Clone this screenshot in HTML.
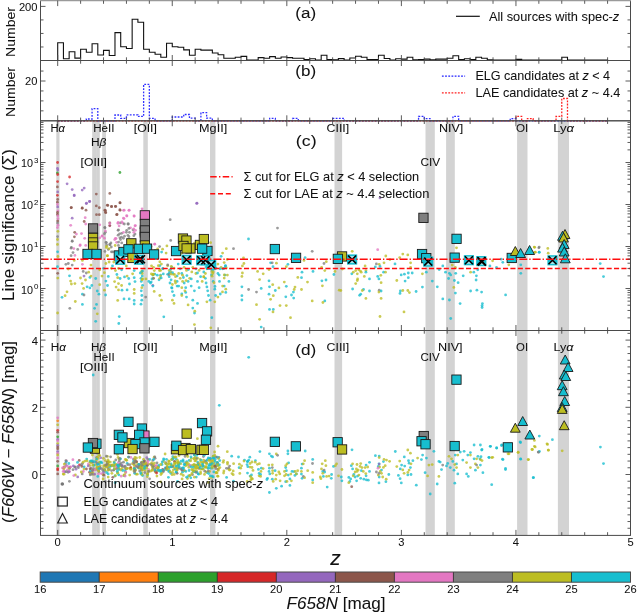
<!DOCTYPE html>
<html><head><meta charset="utf-8"><style>
html,body{margin:0;padding:0;background:#fff;width:637px;height:613px;overflow:hidden}
svg{display:block;filter:blur(0.3px)}
text{font-family:"Liberation Sans",sans-serif}
</style></head><body>
<svg width="637" height="613" viewBox="0 0 637 613">
<rect x="56.3" y="120.8" width="3.20" height="414.60" fill="#c8c8c8" fill-opacity="0.8"/>
<rect x="92.2" y="120.8" width="3.90" height="414.60" fill="#c8c8c8" fill-opacity="0.8"/>
<rect x="96.1" y="120.8" width="3.70" height="414.60" fill="#c8c8c8" fill-opacity="0.8"/>
<rect x="102.2" y="120.8" width="3.80" height="414.60" fill="#c8c8c8" fill-opacity="0.8"/>
<rect x="143.3" y="120.8" width="4.50" height="414.60" fill="#c8c8c8" fill-opacity="0.8"/>
<rect x="210.0" y="120.8" width="5.40" height="414.60" fill="#c8c8c8" fill-opacity="0.8"/>
<rect x="334.5" y="120.8" width="7.60" height="414.60" fill="#c8c8c8" fill-opacity="0.8"/>
<rect x="425.5" y="120.8" width="9.30" height="414.60" fill="#c8c8c8" fill-opacity="0.8"/>
<rect x="446.1" y="120.8" width="8.70" height="414.60" fill="#c8c8c8" fill-opacity="0.8"/>
<rect x="517.1" y="120.8" width="10.40" height="414.60" fill="#c8c8c8" fill-opacity="0.8"/>
<rect x="557.9" y="120.8" width="11.10" height="414.60" fill="#c8c8c8" fill-opacity="0.8"/>
<path d="M57.70,60.5L57.70,42.70L63.43,42.70L63.43,58.70L69.16,58.70L69.16,51.80L74.88,51.80L74.88,58.10L80.61,58.10L80.61,49.30L86.34,49.30L86.34,52.20L92.07,52.20L92.07,43.70L97.80,43.70L97.80,55.00L103.52,55.00L103.52,50.40L109.25,50.40L109.25,55.50L114.98,55.50L114.98,32.60L120.71,32.60L120.71,46.80L126.44,46.80L126.44,48.50L132.16,48.50L132.16,19.20L137.89,19.20L137.89,22.20L143.62,22.20L143.62,49.30L149.35,49.30L149.35,52.30L155.08,52.30L155.08,54.30L160.80,54.30L160.80,57.30L166.53,57.30L166.53,43.30L172.26,43.30L172.26,46.70L177.99,46.70L177.99,47.20L183.72,47.20L183.72,49.90L189.44,49.90L189.44,55.20L195.17,55.20L195.17,49.30L200.90,49.30L200.90,50.10L206.63,50.10L206.63,50.10L212.36,50.10L212.36,53.00L218.08,53.00L218.08,54.70L223.81,54.70L223.81,58.30L229.54,58.30L229.54,58.30L235.27,58.30L235.27,57.30L241.00,57.30L241.00,56.40L246.72,56.40L246.72,60.10L252.45,60.10L252.45,60.10L258.18,60.10L258.18,57.60L263.91,57.60L263.91,58.30L269.64,58.30L269.64,56.60L275.36,56.60L275.36,58.30L281.09,58.30L281.09,57.00L286.82,57.00L286.82,57.60L292.55,57.60L292.55,58.20L298.28,58.20L298.28,58.20L304.00,58.20L304.00,59.50L309.73,59.50L309.73,58.80L315.46,58.80L315.46,60.10L321.19,60.10L321.19,55.30L326.92,55.30L326.92,59.50L332.64,59.50L332.64,59.80L338.37,59.80L338.37,58.60L344.10,58.60L344.10,60.10L349.83,60.10L349.83,58.00L355.56,58.00L355.56,56.30L361.28,56.30L361.28,57.20L367.01,57.20L367.01,59.50L372.74,59.50L372.74,59.50L378.47,59.50L378.47,55.30L384.20,55.30L384.20,58.50L389.92,58.50L389.92,60.10L395.65,60.10L395.65,58.80L401.38,58.80L401.38,59.10L407.11,59.10L407.11,57.20L412.84,57.20L412.84,59.80L418.56,59.80L418.56,59.50L424.29,59.50L424.29,59.10L430.02,59.10L430.02,59.80L435.75,59.80L435.75,59.10L441.48,59.10L441.48,59.10L447.20,59.10L447.20,58.20L452.93,58.20L452.93,55.70L458.66,55.70L458.66,59.50L464.39,59.50L464.39,58.80L470.12,58.80L470.12,59.50L475.84,59.50L475.84,57.30L481.57,57.30L481.57,58.20L487.30,58.20L487.30,59.70L493.03,59.70L493.03,60.10L498.76,60.10L498.76,60.10L504.48,60.10L504.48,60.10L510.21,60.10L510.21,60.10L515.94,60.10L515.94,59.40L521.67,59.40L521.67,60.00L527.40,60.00L527.40,60.00L533.12,60.00L533.12,60.00L538.85,60.00L538.85,60.00L544.58,60.00L544.58,60.00L550.31,60.00L550.31,60.00L556.04,60.00L556.04,60.00L561.76,60.00L561.76,57.20L567.49,57.20L567.49,60.00L573.22,60.00L573.22,60.00L578.95,60.00L578.95,60.00L584.68,60.00L584.68,60.00L590.40,60.00L590.40,60.00L596.13,60.00L596.13,60.00L601.86,60.00L601.86,60.00L607.59,60.00L607.59,60.5" fill="none" stroke="#111" stroke-width="1.1"/>
<path d="M57.70,120.8L57.70,120.80L63.43,120.80L63.43,120.80L69.16,120.80L69.16,120.80L74.88,120.80L74.88,120.80L80.61,120.80L80.61,120.80L86.34,120.80L86.34,119.00L92.07,119.00L92.07,108.70L97.80,108.70L97.80,120.80L103.52,120.80L103.52,120.80L109.25,120.80L109.25,120.80L114.98,120.80L114.98,115.00L120.71,115.00L120.71,118.30L126.44,118.30L126.44,114.90L132.16,114.90L132.16,114.90L137.89,114.90L137.89,116.40L143.62,116.40L143.62,84.40L149.35,84.40L149.35,118.30L155.08,118.30L155.08,120.80L160.80,120.80L160.80,120.80L166.53,120.80L166.53,120.80L172.26,120.80L172.26,117.00L177.99,117.00L177.99,117.00L183.72,117.00L183.72,114.50L189.44,114.50L189.44,118.20L195.17,118.20L195.17,120.80L200.90,120.80L200.90,112.60L206.63,112.60L206.63,118.20L212.36,118.20L212.36,120.80L218.08,120.80L218.08,120.80L223.81,120.80L223.81,120.80L229.54,120.80L229.54,120.80L235.27,120.80L235.27,120.80L241.00,120.80L241.00,120.80L246.72,120.80L246.72,120.80L252.45,120.80L252.45,120.80L258.18,120.80L258.18,120.80L263.91,120.80L263.91,120.80L269.64,120.80L269.64,118.40L275.36,118.40L275.36,120.80L281.09,120.80L281.09,120.80L286.82,120.80L286.82,120.80L292.55,120.80L292.55,118.40L298.28,118.40L298.28,120.80L304.00,120.80L304.00,120.80L309.73,120.80L309.73,120.80L315.46,120.80L315.46,120.80L321.19,120.80L321.19,120.80L326.92,120.80L326.92,120.80L332.64,120.80L332.64,118.40L338.37,118.40L338.37,118.40L344.10,118.40L344.10,120.80L349.83,120.80L349.83,120.80L355.56,120.80L355.56,120.80L361.28,120.80L361.28,120.80L367.01,120.80L367.01,120.80L372.74,120.80L372.74,120.80L378.47,120.80L378.47,120.80L384.20,120.80L384.20,120.80L389.92,120.80L389.92,120.80L395.65,120.80L395.65,120.80L401.38,120.80L401.38,120.80L407.11,120.80L407.11,120.80L412.84,120.80L412.84,120.80L418.56,120.80L418.56,116.30L424.29,116.30L424.29,118.60L430.02,118.60L430.02,120.80L435.75,120.80L435.75,120.80L441.48,120.80L441.48,120.80L447.20,120.80L447.20,120.80L452.93,120.80L452.93,116.30L458.66,116.30L458.66,120.80L464.39,120.80L464.39,120.80L470.12,120.80L470.12,120.80L475.84,120.80L475.84,120.80L481.57,120.80L481.57,120.80L487.30,120.80L487.30,120.80L493.03,120.80L493.03,120.80L498.76,120.80L498.76,120.80L504.48,120.80L504.48,120.80L510.21,120.80L510.21,118.60L515.94,118.60L515.94,120.80L521.67,120.80L521.67,120.80L527.40,120.80L527.40,120.80L533.12,120.80L533.12,120.80L538.85,120.80L538.85,120.80L544.58,120.80L544.58,120.80L550.31,120.80L550.31,120.80L556.04,120.80L556.04,120.80L561.76,120.80L561.76,120.80L567.49,120.80L567.49,120.80L573.22,120.80L573.22,120.80L578.95,120.80L578.95,120.80L584.68,120.80L584.68,120.80L590.40,120.80L590.40,120.80L596.13,120.80L596.13,120.80L601.86,120.80L601.86,120.80L607.59,120.80L607.59,120.8" fill="none" stroke="#3030ff" stroke-width="1.3" stroke-dasharray="1.8 1.4"/>
<path d="M57.70,120.8L57.70,120.80L63.43,120.80L63.43,120.80L69.16,120.80L69.16,120.80L74.88,120.80L74.88,120.80L80.61,120.80L80.61,120.80L86.34,120.80L86.34,120.80L92.07,120.80L92.07,120.80L97.80,120.80L97.80,120.80L103.52,120.80L103.52,120.80L109.25,120.80L109.25,120.80L114.98,120.80L114.98,120.80L120.71,120.80L120.71,120.80L126.44,120.80L126.44,120.80L132.16,120.80L132.16,120.80L137.89,120.80L137.89,120.80L143.62,120.80L143.62,120.80L149.35,120.80L149.35,120.80L155.08,120.80L155.08,120.80L160.80,120.80L160.80,120.80L166.53,120.80L166.53,120.80L172.26,120.80L172.26,120.80L177.99,120.80L177.99,120.80L183.72,120.80L183.72,120.80L189.44,120.80L189.44,120.80L195.17,120.80L195.17,120.80L200.90,120.80L200.90,120.80L206.63,120.80L206.63,120.80L212.36,120.80L212.36,120.80L218.08,120.80L218.08,120.80L223.81,120.80L223.81,120.80L229.54,120.80L229.54,120.80L235.27,120.80L235.27,120.80L241.00,120.80L241.00,120.80L246.72,120.80L246.72,120.80L252.45,120.80L252.45,120.80L258.18,120.80L258.18,120.80L263.91,120.80L263.91,120.80L269.64,120.80L269.64,120.80L275.36,120.80L275.36,120.80L281.09,120.80L281.09,120.80L286.82,120.80L286.82,120.80L292.55,120.80L292.55,120.80L298.28,120.80L298.28,120.80L304.00,120.80L304.00,120.80L309.73,120.80L309.73,120.80L315.46,120.80L315.46,120.80L321.19,120.80L321.19,120.80L326.92,120.80L326.92,120.80L332.64,120.80L332.64,120.80L338.37,120.80L338.37,120.80L344.10,120.80L344.10,120.80L349.83,120.80L349.83,120.80L355.56,120.80L355.56,120.80L361.28,120.80L361.28,120.80L367.01,120.80L367.01,120.80L372.74,120.80L372.74,120.80L378.47,120.80L378.47,120.80L384.20,120.80L384.20,120.80L389.92,120.80L389.92,120.80L395.65,120.80L395.65,120.80L401.38,120.80L401.38,120.80L407.11,120.80L407.11,120.80L412.84,120.80L412.84,120.80L418.56,120.80L418.56,120.80L424.29,120.80L424.29,120.80L430.02,120.80L430.02,120.80L435.75,120.80L435.75,120.80L441.48,120.80L441.48,120.80L447.20,120.80L447.20,120.80L452.93,120.80L452.93,120.80L458.66,120.80L458.66,120.80L464.39,120.80L464.39,120.80L470.12,120.80L470.12,120.80L475.84,120.80L475.84,120.80L481.57,120.80L481.57,120.80L487.30,120.80L487.30,120.80L493.03,120.80L493.03,120.80L498.76,120.80L498.76,120.80L504.48,120.80L504.48,120.80L510.21,120.80L510.21,120.80L515.94,120.80L515.94,116.40L521.67,116.40L521.67,120.80L527.40,120.80L527.40,118.60L533.12,118.60L533.12,120.80L538.85,120.80L538.85,120.80L544.58,120.80L544.58,120.80L550.31,120.80L550.31,120.80L556.04,120.80L556.04,116.40L561.76,116.40L561.76,98.50L567.49,98.50L567.49,120.80L573.22,120.80L573.22,120.80L578.95,120.80L578.95,120.80L584.68,120.80L584.68,120.80L590.40,120.80L590.40,120.80L596.13,120.80L596.13,120.80L601.86,120.80L601.86,120.80L607.59,120.80L607.59,120.8" fill="none" stroke="#ff2020" stroke-width="1.3" stroke-dasharray="1.8 1.4"/>
<clipPath id="cc"><rect x="40.5" y="120.8" width="590" height="209.7"/></clipPath>
<clipPath id="cd"><rect x="40.5" y="330.5" width="590" height="204.9"/></clipPath>
<g>
<circle cx="69.6" cy="177.0" r="1.4" fill="#d62728" fill-opacity="0.78"/>
<circle cx="119.9" cy="172.5" r="1.4" fill="#2ca02c" fill-opacity="0.78"/>
<circle cx="67.1" cy="183.8" r="1.4" fill="#9467bd" fill-opacity="0.78"/>
<circle cx="72.2" cy="189.6" r="1.4" fill="#9467bd" fill-opacity="0.78"/>
<circle cx="74.2" cy="195.1" r="1.4" fill="#9467bd" fill-opacity="0.78"/>
<circle cx="82.2" cy="190.1" r="1.4" fill="#9467bd" fill-opacity="0.78"/>
<circle cx="84.2" cy="188.1" r="1.4" fill="#9467bd" fill-opacity="0.78"/>
<circle cx="86.5" cy="203.2" r="1.4" fill="#9467bd" fill-opacity="0.78"/>
<circle cx="89.7" cy="201.4" r="1.4" fill="#9467bd" fill-opacity="0.78"/>
<circle cx="71.2" cy="207.7" r="1.4" fill="#8c564b" fill-opacity="0.78"/>
<circle cx="82.2" cy="208.2" r="1.4" fill="#8c564b" fill-opacity="0.78"/>
<circle cx="86.0" cy="210.2" r="1.4" fill="#8c564b" fill-opacity="0.78"/>
<circle cx="96.3" cy="194.1" r="1.4" fill="#8c564b" fill-opacity="0.78"/>
<circle cx="109.8" cy="193.4" r="1.4" fill="#8c564b" fill-opacity="0.78"/>
<circle cx="96.3" cy="205.9" r="1.4" fill="#8c564b" fill-opacity="0.78"/>
<circle cx="99.3" cy="207.7" r="1.4" fill="#8c564b" fill-opacity="0.78"/>
<circle cx="96.5" cy="214.7" r="1.4" fill="#8c564b" fill-opacity="0.78"/>
<circle cx="99.3" cy="214.7" r="1.4" fill="#8c564b" fill-opacity="0.78"/>
<circle cx="104.8" cy="210.2" r="1.4" fill="#8c564b" fill-opacity="0.78"/>
<circle cx="105.8" cy="212.7" r="1.4" fill="#8c564b" fill-opacity="0.78"/>
<circle cx="107.3" cy="205.2" r="1.4" fill="#8c564b" fill-opacity="0.78"/>
<circle cx="111.6" cy="206.4" r="1.4" fill="#8c564b" fill-opacity="0.78"/>
<circle cx="115.4" cy="206.4" r="1.4" fill="#8c564b" fill-opacity="0.78"/>
<circle cx="119.9" cy="202.7" r="1.4" fill="#8c564b" fill-opacity="0.78"/>
<circle cx="119.9" cy="209.7" r="1.4" fill="#8c564b" fill-opacity="0.78"/>
<circle cx="116.6" cy="214.7" r="1.4" fill="#8c564b" fill-opacity="0.78"/>
<circle cx="72.2" cy="218.2" r="1.4" fill="#9467bd" fill-opacity="0.78"/>
<circle cx="70.7" cy="225.3" r="1.4" fill="#e377c2" fill-opacity="0.78"/>
<circle cx="85.2" cy="217.7" r="1.4" fill="#e377c2" fill-opacity="0.78"/>
<circle cx="84.2" cy="221.5" r="1.4" fill="#8c564b" fill-opacity="0.78"/>
<circle cx="85.7" cy="224.0" r="1.4" fill="#e377c2" fill-opacity="0.78"/>
<circle cx="74.7" cy="232.3" r="1.4" fill="#8c564b" fill-opacity="0.78"/>
<circle cx="76.4" cy="234.1" r="1.4" fill="#e377c2" fill-opacity="0.78"/>
<circle cx="81.5" cy="233.6" r="1.4" fill="#e377c2" fill-opacity="0.78"/>
<circle cx="74.4" cy="236.8" r="1.4" fill="#8c564b" fill-opacity="0.78"/>
<circle cx="72.2" cy="240.9" r="1.4" fill="#7f7f7f" fill-opacity="0.78"/>
<circle cx="84.7" cy="238.3" r="1.4" fill="#e377c2" fill-opacity="0.78"/>
<circle cx="80.2" cy="244.9" r="1.4" fill="#e377c2" fill-opacity="0.78"/>
<circle cx="85.7" cy="245.4" r="1.4" fill="#e377c2" fill-opacity="0.78"/>
<circle cx="71.4" cy="247.4" r="1.4" fill="#7f7f7f" fill-opacity="0.78"/>
<circle cx="99.8" cy="224.8" r="1.4" fill="#e377c2" fill-opacity="0.78"/>
<circle cx="99.8" cy="237.8" r="1.4" fill="#e377c2" fill-opacity="0.78"/>
<circle cx="104.8" cy="227.3" r="1.4" fill="#7f7f7f" fill-opacity="0.78"/>
<circle cx="105.3" cy="232.3" r="1.4" fill="#7f7f7f" fill-opacity="0.78"/>
<circle cx="109.8" cy="222.8" r="1.4" fill="#8c564b" fill-opacity="0.78"/>
<circle cx="109.8" cy="225.8" r="1.4" fill="#e377c2" fill-opacity="0.78"/>
<circle cx="110.9" cy="242.9" r="1.4" fill="#7f7f7f" fill-opacity="0.78"/>
<circle cx="106.6" cy="244.9" r="1.4" fill="#7f7f7f" fill-opacity="0.78"/>
<circle cx="102.3" cy="235.8" r="1.4" fill="#e377c2" fill-opacity="0.78"/>
<circle cx="117.9" cy="223.3" r="1.4" fill="#e377c2" fill-opacity="0.78"/>
<circle cx="122.9" cy="223.3" r="1.4" fill="#e377c2" fill-opacity="0.78"/>
<circle cx="129.2" cy="210.2" r="1.4" fill="#e377c2" fill-opacity="0.78"/>
<circle cx="124.2" cy="210.2" r="1.4" fill="#e377c2" fill-opacity="0.78"/>
<circle cx="123.4" cy="218.2" r="1.4" fill="#e377c2" fill-opacity="0.78"/>
<circle cx="126.7" cy="215.7" r="1.4" fill="#e377c2" fill-opacity="0.78"/>
<circle cx="134.0" cy="216.0" r="1.4" fill="#e377c2" fill-opacity="0.78"/>
<circle cx="135.0" cy="225.8" r="1.4" fill="#e377c2" fill-opacity="0.78"/>
<circle cx="115.4" cy="238.3" r="1.4" fill="#e377c2" fill-opacity="0.78"/>
<circle cx="116.6" cy="242.4" r="1.4" fill="#e377c2" fill-opacity="0.78"/>
<circle cx="120.4" cy="222.8" r="1.4" fill="#7f7f7f" fill-opacity="0.78"/>
<circle cx="127.9" cy="224.0" r="1.4" fill="#7f7f7f" fill-opacity="0.78"/>
<circle cx="118.4" cy="229.8" r="1.4" fill="#7f7f7f" fill-opacity="0.78"/>
<circle cx="121.7" cy="233.3" r="1.4" fill="#7f7f7f" fill-opacity="0.78"/>
<circle cx="119.9" cy="237.8" r="1.4" fill="#7f7f7f" fill-opacity="0.78"/>
<circle cx="123.4" cy="238.3" r="1.4" fill="#7f7f7f" fill-opacity="0.78"/>
<circle cx="126.7" cy="230.3" r="1.4" fill="#7f7f7f" fill-opacity="0.78"/>
<circle cx="127.9" cy="235.3" r="1.4" fill="#7f7f7f" fill-opacity="0.78"/>
<circle cx="133.0" cy="229.8" r="1.4" fill="#7f7f7f" fill-opacity="0.78"/>
<circle cx="135.0" cy="234.1" r="1.4" fill="#7f7f7f" fill-opacity="0.78"/>
<circle cx="121.7" cy="242.9" r="1.4" fill="#7f7f7f" fill-opacity="0.78"/>
<circle cx="118.4" cy="245.4" r="1.4" fill="#7f7f7f" fill-opacity="0.78"/>
<circle cx="130.5" cy="227.8" r="1.4" fill="#e377c2" fill-opacity="0.78"/>
<circle cx="135.5" cy="230.3" r="1.4" fill="#e377c2" fill-opacity="0.78"/>
<circle cx="134.2" cy="240.4" r="1.4" fill="#e377c2" fill-opacity="0.78"/>
<circle cx="151.0" cy="246.6" r="1.4" fill="#7f7f7f" fill-opacity="0.78"/>
<circle cx="154.6" cy="244.1" r="1.4" fill="#e377c2" fill-opacity="0.78"/>
<circle cx="159.6" cy="246.6" r="1.4" fill="#7f7f7f" fill-opacity="0.78"/>
<circle cx="166.9" cy="245.9" r="1.4" fill="#bcbd22" fill-opacity="0.78"/>
<circle cx="170.2" cy="219.7" r="1.4" fill="#7f7f7f" fill-opacity="0.78"/>
<circle cx="170.7" cy="240.4" r="1.4" fill="#7f7f7f" fill-opacity="0.78"/>
<circle cx="197.0" cy="203.2" r="1.4" fill="#9467bd" fill-opacity="0.78"/>
<circle cx="196.7" cy="203.4" r="1.4" fill="#9467bd" fill-opacity="0.78"/>
<circle cx="277.5" cy="228.1" r="1.4" fill="#7f7f7f" fill-opacity="0.78"/>
<circle cx="380.0" cy="197.9" r="1.4" fill="#9467bd" fill-opacity="0.78"/>
<circle cx="248.5" cy="239.0" r="1.4" fill="#17becf" fill-opacity="0.78"/>
<circle cx="74.2" cy="195.7" r="1.4" fill="#9467bd" fill-opacity="0.78"/>
<circle cx="86.3" cy="203.6" r="1.4" fill="#9467bd" fill-opacity="0.78"/>
<circle cx="89.5" cy="201.5" r="1.4" fill="#9467bd" fill-opacity="0.78"/>
<circle cx="71.3" cy="207.6" r="1.4" fill="#8c564b" fill-opacity="0.78"/>
<circle cx="82.2" cy="208.0" r="1.4" fill="#8c564b" fill-opacity="0.78"/>
<circle cx="120.1" cy="202.9" r="1.4" fill="#8c564b" fill-opacity="0.78"/>
<circle cx="107.8" cy="205.4" r="1.4" fill="#8c564b" fill-opacity="0.78"/>
<circle cx="111.5" cy="206.7" r="1.4" fill="#8c564b" fill-opacity="0.78"/>
<circle cx="115.7" cy="206.4" r="1.4" fill="#8c564b" fill-opacity="0.78"/>
<circle cx="120.1" cy="210.3" r="1.4" fill="#8c564b" fill-opacity="0.78"/>
<circle cx="105.4" cy="210.3" r="1.4" fill="#8c564b" fill-opacity="0.78"/>
<circle cx="105.4" cy="212.2" r="1.4" fill="#8c564b" fill-opacity="0.78"/>
<circle cx="117.1" cy="214.5" r="1.4" fill="#8c564b" fill-opacity="0.78"/>
<circle cx="109.8" cy="225.6" r="1.4" fill="#8c564b" fill-opacity="0.78"/>
<circle cx="123.5" cy="210.3" r="1.4" fill="#e377c2" fill-opacity="0.78"/>
<circle cx="128.9" cy="210.3" r="1.4" fill="#e377c2" fill-opacity="0.78"/>
<circle cx="124.0" cy="218.6" r="1.4" fill="#e377c2" fill-opacity="0.78"/>
<circle cx="126.9" cy="216.1" r="1.4" fill="#e377c2" fill-opacity="0.78"/>
<circle cx="134.2" cy="216.1" r="1.4" fill="#e377c2" fill-opacity="0.78"/>
<circle cx="118.1" cy="222.5" r="1.4" fill="#e377c2" fill-opacity="0.78"/>
<circle cx="122.0" cy="222.0" r="1.4" fill="#e377c2" fill-opacity="0.78"/>
<circle cx="119.1" cy="225.9" r="1.4" fill="#e377c2" fill-opacity="0.78"/>
<circle cx="109.8" cy="223.5" r="1.4" fill="#e377c2" fill-opacity="0.78"/>
<circle cx="135.4" cy="225.6" r="1.4" fill="#e377c2" fill-opacity="0.78"/>
<circle cx="133.8" cy="228.9" r="1.4" fill="#e377c2" fill-opacity="0.78"/>
<circle cx="105.4" cy="231.1" r="1.4" fill="#e377c2" fill-opacity="0.78"/>
<circle cx="102.0" cy="236.2" r="1.4" fill="#e377c2" fill-opacity="0.78"/>
<circle cx="104.4" cy="238.2" r="1.4" fill="#e377c2" fill-opacity="0.78"/>
<circle cx="114.7" cy="239.6" r="1.4" fill="#e377c2" fill-opacity="0.78"/>
<circle cx="116.1" cy="238.6" r="1.4" fill="#e377c2" fill-opacity="0.78"/>
<circle cx="123.5" cy="232.3" r="1.4" fill="#e377c2" fill-opacity="0.78"/>
<circle cx="133.8" cy="232.3" r="1.4" fill="#e377c2" fill-opacity="0.78"/>
<circle cx="154.8" cy="244.2" r="1.4" fill="#e377c2" fill-opacity="0.78"/>
<circle cx="142.1" cy="208.8" r="1.4" fill="#e377c2" fill-opacity="0.78"/>
<circle cx="128.4" cy="224.0" r="1.4" fill="#7f7f7f" fill-opacity="0.78"/>
<circle cx="124.3" cy="224.0" r="1.4" fill="#7f7f7f" fill-opacity="0.78"/>
<circle cx="128.9" cy="228.4" r="1.4" fill="#7f7f7f" fill-opacity="0.78"/>
<circle cx="104.9" cy="227.9" r="1.4" fill="#7f7f7f" fill-opacity="0.78"/>
<circle cx="104.4" cy="233.8" r="1.4" fill="#7f7f7f" fill-opacity="0.78"/>
<circle cx="118.1" cy="230.3" r="1.4" fill="#7f7f7f" fill-opacity="0.78"/>
<circle cx="126.4" cy="232.3" r="1.4" fill="#7f7f7f" fill-opacity="0.78"/>
<circle cx="129.4" cy="232.3" r="1.4" fill="#7f7f7f" fill-opacity="0.78"/>
<circle cx="119.6" cy="233.8" r="1.4" fill="#7f7f7f" fill-opacity="0.78"/>
<circle cx="118.1" cy="235.2" r="1.4" fill="#7f7f7f" fill-opacity="0.78"/>
<circle cx="121.5" cy="237.2" r="1.4" fill="#7f7f7f" fill-opacity="0.78"/>
<circle cx="124.5" cy="236.2" r="1.4" fill="#7f7f7f" fill-opacity="0.78"/>
<circle cx="128.9" cy="236.7" r="1.4" fill="#7f7f7f" fill-opacity="0.78"/>
<circle cx="133.8" cy="235.7" r="1.4" fill="#7f7f7f" fill-opacity="0.78"/>
<circle cx="120.5" cy="239.6" r="1.4" fill="#7f7f7f" fill-opacity="0.78"/>
<circle cx="118.6" cy="242.1" r="1.4" fill="#7f7f7f" fill-opacity="0.78"/>
<circle cx="106.4" cy="242.6" r="1.4" fill="#7f7f7f" fill-opacity="0.78"/>
<circle cx="109.8" cy="244.5" r="1.4" fill="#7f7f7f" fill-opacity="0.78"/>
<circle cx="111.3" cy="247.0" r="1.4" fill="#7f7f7f" fill-opacity="0.78"/>
<circle cx="104.9" cy="251.4" r="1.4" fill="#7f7f7f" fill-opacity="0.78"/>
<circle cx="108.3" cy="249.4" r="1.4" fill="#7f7f7f" fill-opacity="0.78"/>
<circle cx="112.7" cy="251.9" r="1.4" fill="#7f7f7f" fill-opacity="0.78"/>
<circle cx="106.4" cy="247.5" r="1.4" fill="#bcbd22" fill-opacity="0.78"/>
<circle cx="115.2" cy="245.5" r="1.4" fill="#bcbd22" fill-opacity="0.78"/>
<circle cx="107.3" cy="255.8" r="1.4" fill="#bcbd22" fill-opacity="0.78"/>
<circle cx="72.2" cy="241.3" r="1.4" fill="#7f7f7f" fill-opacity="0.78"/>
<circle cx="71.1" cy="248.2" r="1.4" fill="#7f7f7f" fill-opacity="0.78"/>
<circle cx="73.8" cy="248.6" r="1.4" fill="#e377c2" fill-opacity="0.78"/>
<circle cx="80.0" cy="245.5" r="1.4" fill="#e377c2" fill-opacity="0.78"/>
<circle cx="77.7" cy="249.4" r="1.4" fill="#7f7f7f" fill-opacity="0.78"/>
<circle cx="73.0" cy="252.6" r="1.4" fill="#7f7f7f" fill-opacity="0.78"/>
<circle cx="71.1" cy="255.7" r="1.4" fill="#7f7f7f" fill-opacity="0.78"/>
<circle cx="74.9" cy="255.4" r="1.4" fill="#e377c2" fill-opacity="0.78"/>
<circle cx="68.3" cy="263.5" r="1.4" fill="#7f7f7f" fill-opacity="0.78"/>
<circle cx="65.9" cy="264.3" r="1.4" fill="#7f7f7f" fill-opacity="0.78"/>
<circle cx="72.2" cy="265.1" r="1.4" fill="#7f7f7f" fill-opacity="0.78"/>
<circle cx="74.2" cy="260.4" r="1.4" fill="#bcbd22" fill-opacity="0.78"/>
<circle cx="68.3" cy="269.0" r="1.4" fill="#bcbd22" fill-opacity="0.78"/>
<circle cx="82.4" cy="260.4" r="1.4" fill="#bcbd22" fill-opacity="0.78"/>
<circle cx="82.4" cy="264.3" r="1.4" fill="#e377c2" fill-opacity="0.78"/>
<circle cx="83.2" cy="271.4" r="1.4" fill="#7f7f7f" fill-opacity="0.78"/>
<circle cx="86.3" cy="273.0" r="1.4" fill="#7f7f7f" fill-opacity="0.78"/>
<circle cx="88.7" cy="272.2" r="1.4" fill="#bcbd22" fill-opacity="0.78"/>
<circle cx="84.0" cy="276.1" r="1.4" fill="#9467bd" fill-opacity="0.78"/>
<circle cx="69.5" cy="275.8" r="1.4" fill="#17becf" fill-opacity="0.78"/>
<circle cx="89.9" cy="277.4" r="1.4" fill="#17becf" fill-opacity="0.78"/>
<circle cx="80.5" cy="278.0" r="1.4" fill="#bcbd22" fill-opacity="0.78"/>
<circle cx="85.5" cy="280.0" r="1.4" fill="#bcbd22" fill-opacity="0.78"/>
<circle cx="70.6" cy="281.1" r="1.4" fill="#bcbd22" fill-opacity="0.78"/>
<circle cx="71.4" cy="284.0" r="1.4" fill="#bcbd22" fill-opacity="0.78"/>
<circle cx="74.9" cy="283.6" r="1.4" fill="#bcbd22" fill-opacity="0.78"/>
<circle cx="82.1" cy="283.6" r="1.4" fill="#bcbd22" fill-opacity="0.78"/>
<circle cx="87.1" cy="286.8" r="1.4" fill="#17becf" fill-opacity="0.78"/>
<circle cx="89.9" cy="287.9" r="1.4" fill="#17becf" fill-opacity="0.78"/>
<circle cx="91.8" cy="285.5" r="1.4" fill="#17becf" fill-opacity="0.78"/>
<circle cx="83.6" cy="288.4" r="1.4" fill="#bcbd22" fill-opacity="0.78"/>
<circle cx="67.0" cy="291.8" r="1.4" fill="#bcbd22" fill-opacity="0.78"/>
<circle cx="65.1" cy="295.7" r="1.4" fill="#bcbd22" fill-opacity="0.78"/>
<circle cx="62.0" cy="297.3" r="1.4" fill="#17becf" fill-opacity="0.78"/>
<circle cx="82.4" cy="294.2" r="1.4" fill="#17becf" fill-opacity="0.78"/>
<circle cx="84.0" cy="295.0" r="1.4" fill="#7f7f7f" fill-opacity="0.78"/>
<circle cx="75.3" cy="301.5" r="1.4" fill="#bcbd22" fill-opacity="0.78"/>
<circle cx="82.4" cy="304.4" r="1.4" fill="#17becf" fill-opacity="0.78"/>
<circle cx="69.8" cy="308.3" r="1.4" fill="#7f7f7f" fill-opacity="0.78"/>
<circle cx="91.0" cy="276.1" r="1.4" fill="#bcbd22" fill-opacity="0.78"/>
<circle cx="91.0" cy="265.1" r="1.4" fill="#bcbd22" fill-opacity="0.78"/>
<circle cx="95.7" cy="278.5" r="1.4" fill="#17becf" fill-opacity="0.78"/>
<circle cx="99.7" cy="284.7" r="1.4" fill="#bcbd22" fill-opacity="0.78"/>
<circle cx="97.3" cy="291.0" r="1.4" fill="#17becf" fill-opacity="0.78"/>
<circle cx="98.9" cy="294.2" r="1.4" fill="#17becf" fill-opacity="0.78"/>
<circle cx="99.7" cy="269.8" r="1.4" fill="#bcbd22" fill-opacity="0.78"/>
<circle cx="96.5" cy="304.4" r="1.4" fill="#17becf" fill-opacity="0.78"/>
<circle cx="94.6" cy="308.3" r="1.4" fill="#17becf" fill-opacity="0.78"/>
<circle cx="97.3" cy="313.8" r="1.4" fill="#bcbd22" fill-opacity="0.78"/>
<circle cx="95.7" cy="321.3" r="1.4" fill="#17becf" fill-opacity="0.78"/>
<circle cx="102.0" cy="276.1" r="1.4" fill="#bcbd22" fill-opacity="0.78"/>
<circle cx="105.9" cy="281.1" r="1.4" fill="#17becf" fill-opacity="0.78"/>
<circle cx="107.5" cy="285.5" r="1.4" fill="#17becf" fill-opacity="0.78"/>
<circle cx="105.6" cy="295.0" r="1.4" fill="#17becf" fill-opacity="0.78"/>
<circle cx="104.4" cy="290.2" r="1.4" fill="#bcbd22" fill-opacity="0.78"/>
<circle cx="108.3" cy="276.4" r="1.4" fill="#17becf" fill-opacity="0.78"/>
<circle cx="104.4" cy="272.7" r="1.4" fill="#bcbd22" fill-opacity="0.78"/>
<circle cx="105.9" cy="263.5" r="1.4" fill="#bcbd22" fill-opacity="0.78"/>
<circle cx="103.6" cy="268.3" r="1.4" fill="#17becf" fill-opacity="0.78"/>
<circle cx="109.1" cy="262.0" r="1.4" fill="#bcbd22" fill-opacity="0.78"/>
<circle cx="107.5" cy="255.7" r="1.4" fill="#bcbd22" fill-opacity="0.78"/>
<circle cx="106.7" cy="246.3" r="1.4" fill="#bcbd22" fill-opacity="0.78"/>
<circle cx="105.9" cy="242.4" r="1.4" fill="#7f7f7f" fill-opacity="0.78"/>
<circle cx="111.4" cy="251.8" r="1.4" fill="#7f7f7f" fill-opacity="0.78"/>
<circle cx="109.9" cy="244.7" r="1.4" fill="#7f7f7f" fill-opacity="0.78"/>
<circle cx="109.1" cy="248.6" r="1.4" fill="#bcbd22" fill-opacity="0.78"/>
<circle cx="113.8" cy="262.0" r="1.4" fill="#bcbd22" fill-opacity="0.78"/>
<circle cx="112.5" cy="265.9" r="1.4" fill="#17becf" fill-opacity="0.78"/>
<circle cx="115.4" cy="270.6" r="1.4" fill="#bcbd22" fill-opacity="0.78"/>
<circle cx="117.7" cy="277.7" r="1.4" fill="#bcbd22" fill-opacity="0.78"/>
<circle cx="114.6" cy="281.6" r="1.4" fill="#bcbd22" fill-opacity="0.78"/>
<circle cx="116.9" cy="274.5" r="1.4" fill="#17becf" fill-opacity="0.78"/>
<circle cx="120.1" cy="278.5" r="1.4" fill="#17becf" fill-opacity="0.78"/>
<circle cx="118.5" cy="283.6" r="1.4" fill="#bcbd22" fill-opacity="0.78"/>
<circle cx="121.6" cy="285.5" r="1.4" fill="#bcbd22" fill-opacity="0.78"/>
<circle cx="116.1" cy="287.1" r="1.4" fill="#bcbd22" fill-opacity="0.78"/>
<circle cx="118.5" cy="289.9" r="1.4" fill="#bcbd22" fill-opacity="0.78"/>
<circle cx="122.0" cy="290.2" r="1.4" fill="#17becf" fill-opacity="0.78"/>
<circle cx="124.5" cy="276.9" r="1.4" fill="#17becf" fill-opacity="0.78"/>
<circle cx="127.1" cy="276.1" r="1.4" fill="#bcbd22" fill-opacity="0.78"/>
<circle cx="128.7" cy="278.5" r="1.4" fill="#17becf" fill-opacity="0.78"/>
<circle cx="132.6" cy="273.8" r="1.4" fill="#bcbd22" fill-opacity="0.78"/>
<circle cx="134.2" cy="270.6" r="1.4" fill="#17becf" fill-opacity="0.78"/>
<circle cx="134.2" cy="277.7" r="1.4" fill="#17becf" fill-opacity="0.78"/>
<circle cx="135.0" cy="281.6" r="1.4" fill="#17becf" fill-opacity="0.78"/>
<circle cx="129.5" cy="284.0" r="1.4" fill="#17becf" fill-opacity="0.78"/>
<circle cx="127.1" cy="289.9" r="1.4" fill="#17becf" fill-opacity="0.78"/>
<circle cx="134.2" cy="289.5" r="1.4" fill="#bcbd22" fill-opacity="0.78"/>
<circle cx="134.2" cy="293.4" r="1.4" fill="#bcbd22" fill-opacity="0.78"/>
<circle cx="134.2" cy="300.4" r="1.4" fill="#17becf" fill-opacity="0.78"/>
<circle cx="134.2" cy="304.0" r="1.4" fill="#17becf" fill-opacity="0.78"/>
<circle cx="124.0" cy="298.9" r="1.4" fill="#17becf" fill-opacity="0.78"/>
<circle cx="129.2" cy="298.9" r="1.4" fill="#17becf" fill-opacity="0.78"/>
<circle cx="117.7" cy="300.4" r="1.4" fill="#bcbd22" fill-opacity="0.78"/>
<circle cx="119.3" cy="316.6" r="1.4" fill="#17becf" fill-opacity="0.78"/>
<circle cx="118.8" cy="323.5" r="1.4" fill="#17becf" fill-opacity="0.78"/>
<circle cx="118.5" cy="268.3" r="1.4" fill="#bcbd22" fill-opacity="0.78"/>
<circle cx="111.4" cy="268.3" r="1.4" fill="#bcbd22" fill-opacity="0.78"/>
<circle cx="126.3" cy="265.9" r="1.4" fill="#bcbd22" fill-opacity="0.78"/>
<circle cx="121.6" cy="269.8" r="1.4" fill="#17becf" fill-opacity="0.78"/>
<circle cx="312.2" cy="251.3" r="1.4" fill="#7f7f7f" fill-opacity="0.78"/>
<circle cx="243.5" cy="258.0" r="1.4" fill="#bcbd22" fill-opacity="0.78"/>
<circle cx="242.4" cy="265.9" r="1.4" fill="#bcbd22" fill-opacity="0.78"/>
<circle cx="243.9" cy="263.5" r="1.4" fill="#bcbd22" fill-opacity="0.78"/>
<circle cx="270.6" cy="262.8" r="1.4" fill="#17becf" fill-opacity="0.78"/>
<circle cx="272.2" cy="262.8" r="1.4" fill="#7f7f7f" fill-opacity="0.78"/>
<circle cx="276.4" cy="263.2" r="1.4" fill="#bcbd22" fill-opacity="0.78"/>
<circle cx="273.0" cy="266.7" r="1.4" fill="#17becf" fill-opacity="0.78"/>
<circle cx="287.9" cy="264.3" r="1.4" fill="#17becf" fill-opacity="0.78"/>
<circle cx="286.3" cy="266.7" r="1.4" fill="#bcbd22" fill-opacity="0.78"/>
<circle cx="305.1" cy="257.6" r="1.4" fill="#17becf" fill-opacity="0.78"/>
<circle cx="304.0" cy="260.4" r="1.4" fill="#bcbd22" fill-opacity="0.78"/>
<circle cx="324.0" cy="263.5" r="1.4" fill="#7f7f7f" fill-opacity="0.78"/>
<circle cx="326.3" cy="261.7" r="1.4" fill="#bcbd22" fill-opacity="0.78"/>
<circle cx="321.6" cy="267.5" r="1.4" fill="#bcbd22" fill-opacity="0.78"/>
<circle cx="324.8" cy="270.6" r="1.4" fill="#bcbd22" fill-opacity="0.78"/>
<circle cx="313.0" cy="271.4" r="1.4" fill="#17becf" fill-opacity="0.78"/>
<circle cx="302.0" cy="272.2" r="1.4" fill="#17becf" fill-opacity="0.78"/>
<circle cx="257.6" cy="271.4" r="1.4" fill="#bcbd22" fill-opacity="0.78"/>
<circle cx="263.2" cy="273.8" r="1.4" fill="#bcbd22" fill-opacity="0.78"/>
<circle cx="242.4" cy="273.0" r="1.4" fill="#bcbd22" fill-opacity="0.78"/>
<circle cx="241.9" cy="276.4" r="1.4" fill="#bcbd22" fill-opacity="0.78"/>
<circle cx="269.0" cy="269.5" r="1.4" fill="#bcbd22" fill-opacity="0.78"/>
<circle cx="259.6" cy="279.6" r="1.4" fill="#bcbd22" fill-opacity="0.78"/>
<circle cx="269.0" cy="280.8" r="1.4" fill="#17becf" fill-opacity="0.78"/>
<circle cx="269.5" cy="286.8" r="1.4" fill="#17becf" fill-opacity="0.78"/>
<circle cx="272.7" cy="284.7" r="1.4" fill="#bcbd22" fill-opacity="0.78"/>
<circle cx="284.3" cy="282.1" r="1.4" fill="#bcbd22" fill-opacity="0.78"/>
<circle cx="297.8" cy="277.4" r="1.4" fill="#bcbd22" fill-opacity="0.78"/>
<circle cx="301.5" cy="277.7" r="1.4" fill="#17becf" fill-opacity="0.78"/>
<circle cx="307.5" cy="282.1" r="1.4" fill="#bcbd22" fill-opacity="0.78"/>
<circle cx="321.9" cy="280.8" r="1.4" fill="#17becf" fill-opacity="0.78"/>
<circle cx="326.0" cy="280.0" r="1.4" fill="#17becf" fill-opacity="0.78"/>
<circle cx="322.4" cy="285.8" r="1.4" fill="#bcbd22" fill-opacity="0.78"/>
<circle cx="333.9" cy="274.5" r="1.4" fill="#17becf" fill-opacity="0.78"/>
<circle cx="335.0" cy="271.4" r="1.4" fill="#bcbd22" fill-opacity="0.78"/>
<circle cx="241.9" cy="286.8" r="1.4" fill="#17becf" fill-opacity="0.78"/>
<circle cx="248.6" cy="289.5" r="1.4" fill="#7f7f7f" fill-opacity="0.78"/>
<circle cx="256.5" cy="292.1" r="1.4" fill="#7f7f7f" fill-opacity="0.78"/>
<circle cx="261.2" cy="288.4" r="1.4" fill="#17becf" fill-opacity="0.78"/>
<circle cx="278.9" cy="287.9" r="1.4" fill="#bcbd22" fill-opacity="0.78"/>
<circle cx="275.3" cy="290.5" r="1.4" fill="#17becf" fill-opacity="0.78"/>
<circle cx="286.3" cy="286.3" r="1.4" fill="#17becf" fill-opacity="0.78"/>
<circle cx="295.0" cy="287.1" r="1.4" fill="#bcbd22" fill-opacity="0.78"/>
<circle cx="294.2" cy="289.5" r="1.4" fill="#bcbd22" fill-opacity="0.78"/>
<circle cx="293.4" cy="292.1" r="1.4" fill="#17becf" fill-opacity="0.78"/>
<circle cx="301.5" cy="289.5" r="1.4" fill="#bcbd22" fill-opacity="0.78"/>
<circle cx="291.5" cy="295.0" r="1.4" fill="#17becf" fill-opacity="0.78"/>
<circle cx="293.7" cy="298.1" r="1.4" fill="#17becf" fill-opacity="0.78"/>
<circle cx="269.0" cy="294.2" r="1.4" fill="#17becf" fill-opacity="0.78"/>
<circle cx="273.3" cy="295.7" r="1.4" fill="#bcbd22" fill-opacity="0.78"/>
<circle cx="270.6" cy="299.3" r="1.4" fill="#bcbd22" fill-opacity="0.78"/>
<circle cx="285.8" cy="296.8" r="1.4" fill="#17becf" fill-opacity="0.78"/>
<circle cx="241.9" cy="295.7" r="1.4" fill="#17becf" fill-opacity="0.78"/>
<circle cx="241.9" cy="300.0" r="1.4" fill="#17becf" fill-opacity="0.78"/>
<circle cx="256.5" cy="304.7" r="1.4" fill="#bcbd22" fill-opacity="0.78"/>
<circle cx="280.0" cy="305.6" r="1.4" fill="#bcbd22" fill-opacity="0.78"/>
<circle cx="286.3" cy="305.6" r="1.4" fill="#bcbd22" fill-opacity="0.78"/>
<circle cx="269.5" cy="309.4" r="1.4" fill="#17becf" fill-opacity="0.78"/>
<circle cx="273.3" cy="309.4" r="1.4" fill="#17becf" fill-opacity="0.78"/>
<circle cx="273.0" cy="311.9" r="1.4" fill="#bcbd22" fill-opacity="0.78"/>
<circle cx="312.2" cy="300.9" r="1.4" fill="#bcbd22" fill-opacity="0.78"/>
<circle cx="324.8" cy="300.9" r="1.4" fill="#17becf" fill-opacity="0.78"/>
<circle cx="322.9" cy="302.5" r="1.4" fill="#bcbd22" fill-opacity="0.78"/>
<circle cx="290.5" cy="317.7" r="1.4" fill="#bcbd22" fill-opacity="0.78"/>
<circle cx="259.6" cy="319.3" r="1.4" fill="#bcbd22" fill-opacity="0.78"/>
<circle cx="261.2" cy="327.1" r="1.4" fill="#17becf" fill-opacity="0.78"/>
<circle cx="339.2" cy="290.2" r="1.4" fill="#bcbd22" fill-opacity="0.78"/>
<circle cx="377.7" cy="249.7" r="1.4" fill="#e377c2" fill-opacity="0.78"/>
<circle cx="352.2" cy="251.3" r="1.4" fill="#bcbd22" fill-opacity="0.78"/>
<circle cx="385.8" cy="256.0" r="1.4" fill="#bcbd22" fill-opacity="0.78"/>
<circle cx="402.8" cy="254.1" r="1.4" fill="#bcbd22" fill-opacity="0.78"/>
<circle cx="407.8" cy="254.9" r="1.4" fill="#bcbd22" fill-opacity="0.78"/>
<circle cx="399.7" cy="257.6" r="1.4" fill="#bcbd22" fill-opacity="0.78"/>
<circle cx="389.9" cy="259.6" r="1.4" fill="#bcbd22" fill-opacity="0.78"/>
<circle cx="384.0" cy="262.8" r="1.4" fill="#bcbd22" fill-opacity="0.78"/>
<circle cx="376.4" cy="263.9" r="1.4" fill="#7f7f7f" fill-opacity="0.78"/>
<circle cx="379.2" cy="264.3" r="1.4" fill="#bcbd22" fill-opacity="0.78"/>
<circle cx="380.0" cy="266.4" r="1.4" fill="#17becf" fill-opacity="0.78"/>
<circle cx="375.3" cy="267.0" r="1.4" fill="#17becf" fill-opacity="0.78"/>
<circle cx="395.0" cy="263.9" r="1.4" fill="#17becf" fill-opacity="0.78"/>
<circle cx="410.6" cy="262.8" r="1.4" fill="#bcbd22" fill-opacity="0.78"/>
<circle cx="410.6" cy="267.5" r="1.4" fill="#bcbd22" fill-opacity="0.78"/>
<circle cx="365.1" cy="265.9" r="1.4" fill="#bcbd22" fill-opacity="0.78"/>
<circle cx="365.9" cy="270.6" r="1.4" fill="#bcbd22" fill-opacity="0.78"/>
<circle cx="360.4" cy="271.1" r="1.4" fill="#bcbd22" fill-opacity="0.78"/>
<circle cx="358.8" cy="269.8" r="1.4" fill="#bcbd22" fill-opacity="0.78"/>
<circle cx="361.2" cy="272.2" r="1.4" fill="#bcbd22" fill-opacity="0.78"/>
<circle cx="365.9" cy="272.2" r="1.4" fill="#17becf" fill-opacity="0.78"/>
<circle cx="355.7" cy="270.6" r="1.4" fill="#bcbd22" fill-opacity="0.78"/>
<circle cx="342.4" cy="269.0" r="1.4" fill="#bcbd22" fill-opacity="0.78"/>
<circle cx="351.8" cy="273.8" r="1.4" fill="#17becf" fill-opacity="0.78"/>
<circle cx="353.3" cy="272.2" r="1.4" fill="#bcbd22" fill-opacity="0.78"/>
<circle cx="357.3" cy="273.8" r="1.4" fill="#bcbd22" fill-opacity="0.78"/>
<circle cx="364.3" cy="276.4" r="1.4" fill="#bcbd22" fill-opacity="0.78"/>
<circle cx="357.6" cy="278.9" r="1.4" fill="#bcbd22" fill-opacity="0.78"/>
<circle cx="357.3" cy="280.5" r="1.4" fill="#bcbd22" fill-opacity="0.78"/>
<circle cx="355.7" cy="283.6" r="1.4" fill="#bcbd22" fill-opacity="0.78"/>
<circle cx="369.5" cy="278.9" r="1.4" fill="#17becf" fill-opacity="0.78"/>
<circle cx="377.7" cy="276.4" r="1.4" fill="#17becf" fill-opacity="0.78"/>
<circle cx="378.9" cy="278.9" r="1.4" fill="#17becf" fill-opacity="0.78"/>
<circle cx="380.8" cy="275.3" r="1.4" fill="#bcbd22" fill-opacity="0.78"/>
<circle cx="383.6" cy="272.2" r="1.4" fill="#17becf" fill-opacity="0.78"/>
<circle cx="385.5" cy="272.2" r="1.4" fill="#bcbd22" fill-opacity="0.78"/>
<circle cx="381.1" cy="282.7" r="1.4" fill="#bcbd22" fill-opacity="0.78"/>
<circle cx="401.2" cy="274.9" r="1.4" fill="#17becf" fill-opacity="0.78"/>
<circle cx="404.4" cy="274.2" r="1.4" fill="#17becf" fill-opacity="0.78"/>
<circle cx="408.3" cy="273.0" r="1.4" fill="#17becf" fill-opacity="0.78"/>
<circle cx="412.2" cy="273.0" r="1.4" fill="#17becf" fill-opacity="0.78"/>
<circle cx="408.3" cy="277.7" r="1.4" fill="#17becf" fill-opacity="0.78"/>
<circle cx="396.8" cy="280.5" r="1.4" fill="#bcbd22" fill-opacity="0.78"/>
<circle cx="405.1" cy="281.1" r="1.4" fill="#17becf" fill-opacity="0.78"/>
<circle cx="422.4" cy="273.8" r="1.4" fill="#bcbd22" fill-opacity="0.78"/>
<circle cx="426.3" cy="272.2" r="1.4" fill="#17becf" fill-opacity="0.78"/>
<circle cx="432.3" cy="281.1" r="1.4" fill="#17becf" fill-opacity="0.78"/>
<circle cx="439.2" cy="269.5" r="1.4" fill="#17becf" fill-opacity="0.78"/>
<circle cx="437.3" cy="286.8" r="1.4" fill="#17becf" fill-opacity="0.78"/>
<circle cx="422.4" cy="287.1" r="1.4" fill="#17becf" fill-opacity="0.78"/>
<circle cx="340.8" cy="290.5" r="1.4" fill="#bcbd22" fill-opacity="0.78"/>
<circle cx="352.6" cy="289.0" r="1.4" fill="#17becf" fill-opacity="0.78"/>
<circle cx="363.5" cy="289.5" r="1.4" fill="#17becf" fill-opacity="0.78"/>
<circle cx="362.3" cy="290.5" r="1.4" fill="#bcbd22" fill-opacity="0.78"/>
<circle cx="360.7" cy="294.2" r="1.4" fill="#17becf" fill-opacity="0.78"/>
<circle cx="359.6" cy="295.3" r="1.4" fill="#17becf" fill-opacity="0.78"/>
<circle cx="365.9" cy="298.4" r="1.4" fill="#bcbd22" fill-opacity="0.78"/>
<circle cx="369.5" cy="291.0" r="1.4" fill="#17becf" fill-opacity="0.78"/>
<circle cx="379.2" cy="290.2" r="1.4" fill="#7f7f7f" fill-opacity="0.78"/>
<circle cx="381.1" cy="291.0" r="1.4" fill="#17becf" fill-opacity="0.78"/>
<circle cx="378.9" cy="292.1" r="1.4" fill="#bcbd22" fill-opacity="0.78"/>
<circle cx="381.1" cy="298.4" r="1.4" fill="#bcbd22" fill-opacity="0.78"/>
<circle cx="400.4" cy="291.0" r="1.4" fill="#17becf" fill-opacity="0.78"/>
<circle cx="400.0" cy="293.4" r="1.4" fill="#17becf" fill-opacity="0.78"/>
<circle cx="402.8" cy="290.5" r="1.4" fill="#bcbd22" fill-opacity="0.78"/>
<circle cx="407.8" cy="290.5" r="1.4" fill="#bcbd22" fill-opacity="0.78"/>
<circle cx="409.4" cy="292.6" r="1.4" fill="#bcbd22" fill-opacity="0.78"/>
<circle cx="416.1" cy="291.5" r="1.4" fill="#17becf" fill-opacity="0.78"/>
<circle cx="404.0" cy="311.9" r="1.4" fill="#bcbd22" fill-opacity="0.78"/>
<circle cx="380.0" cy="316.5" r="1.4" fill="#bcbd22" fill-opacity="0.78"/>
<circle cx="456.5" cy="247.8" r="1.4" fill="#bcbd22" fill-opacity="0.78"/>
<circle cx="442.8" cy="265.9" r="1.4" fill="#17becf" fill-opacity="0.78"/>
<circle cx="452.2" cy="265.1" r="1.4" fill="#bcbd22" fill-opacity="0.78"/>
<circle cx="455.4" cy="267.5" r="1.4" fill="#bcbd22" fill-opacity="0.78"/>
<circle cx="445.5" cy="272.2" r="1.4" fill="#17becf" fill-opacity="0.78"/>
<circle cx="449.4" cy="273.3" r="1.4" fill="#17becf" fill-opacity="0.78"/>
<circle cx="450.7" cy="274.9" r="1.4" fill="#17becf" fill-opacity="0.78"/>
<circle cx="455.7" cy="273.3" r="1.4" fill="#17becf" fill-opacity="0.78"/>
<circle cx="448.6" cy="278.5" r="1.4" fill="#17becf" fill-opacity="0.78"/>
<circle cx="454.4" cy="280.5" r="1.4" fill="#17becf" fill-opacity="0.78"/>
<circle cx="458.1" cy="282.7" r="1.4" fill="#17becf" fill-opacity="0.78"/>
<circle cx="453.8" cy="287.4" r="1.4" fill="#bcbd22" fill-opacity="0.78"/>
<circle cx="455.4" cy="293.1" r="1.4" fill="#17becf" fill-opacity="0.78"/>
<circle cx="442.8" cy="298.9" r="1.4" fill="#17becf" fill-opacity="0.78"/>
<circle cx="449.4" cy="300.0" r="1.4" fill="#17becf" fill-opacity="0.78"/>
<circle cx="460.1" cy="303.6" r="1.4" fill="#17becf" fill-opacity="0.78"/>
<circle cx="450.7" cy="318.5" r="1.4" fill="#17becf" fill-opacity="0.78"/>
<circle cx="463.2" cy="275.8" r="1.4" fill="#17becf" fill-opacity="0.78"/>
<circle cx="470.6" cy="272.2" r="1.4" fill="#bcbd22" fill-opacity="0.78"/>
<circle cx="473.8" cy="272.2" r="1.4" fill="#17becf" fill-opacity="0.78"/>
<circle cx="476.4" cy="275.8" r="1.4" fill="#17becf" fill-opacity="0.78"/>
<circle cx="476.1" cy="280.0" r="1.4" fill="#17becf" fill-opacity="0.78"/>
<circle cx="477.7" cy="269.8" r="1.4" fill="#17becf" fill-opacity="0.78"/>
<circle cx="489.9" cy="265.9" r="1.4" fill="#17becf" fill-opacity="0.78"/>
<circle cx="496.5" cy="267.5" r="1.4" fill="#17becf" fill-opacity="0.78"/>
<circle cx="492.6" cy="260.8" r="1.4" fill="#bcbd22" fill-opacity="0.78"/>
<circle cx="501.2" cy="259.2" r="1.4" fill="#17becf" fill-opacity="0.78"/>
<circle cx="502.8" cy="262.3" r="1.4" fill="#17becf" fill-opacity="0.78"/>
<circle cx="508.8" cy="264.8" r="1.4" fill="#bcbd22" fill-opacity="0.78"/>
<circle cx="520.8" cy="264.8" r="1.4" fill="#17becf" fill-opacity="0.78"/>
<circle cx="520.8" cy="273.3" r="1.4" fill="#17becf" fill-opacity="0.78"/>
<circle cx="470.6" cy="291.0" r="1.4" fill="#17becf" fill-opacity="0.78"/>
<circle cx="476.9" cy="290.2" r="1.4" fill="#17becf" fill-opacity="0.78"/>
<circle cx="481.6" cy="292.1" r="1.4" fill="#17becf" fill-opacity="0.78"/>
<circle cx="482.4" cy="303.6" r="1.4" fill="#17becf" fill-opacity="0.78"/>
<circle cx="482.1" cy="305.6" r="1.4" fill="#17becf" fill-opacity="0.78"/>
<circle cx="482.1" cy="307.5" r="1.4" fill="#17becf" fill-opacity="0.78"/>
<circle cx="505.6" cy="294.9" r="1.4" fill="#17becf" fill-opacity="0.78"/>
<circle cx="534.2" cy="247.1" r="1.4" fill="#bcbd22" fill-opacity="0.78"/>
<circle cx="535.4" cy="252.2" r="1.4" fill="#bcbd22" fill-opacity="0.78"/>
<circle cx="539.2" cy="247.1" r="1.4" fill="#7f7f7f" fill-opacity="0.78"/>
<circle cx="539.2" cy="252.2" r="1.4" fill="#17becf" fill-opacity="0.78"/>
<circle cx="600.2" cy="263.6" r="1.4" fill="#17becf" fill-opacity="0.78"/>
<circle cx="603.5" cy="276.6" r="1.4" fill="#17becf" fill-opacity="0.78"/>
<circle cx="547.8" cy="248.4" r="1.4" fill="#bcbd22" fill-opacity="0.78"/>
<circle cx="548.2" cy="253.2" r="1.4" fill="#bcbd22" fill-opacity="0.78"/>
<circle cx="534.7" cy="247.3" r="1.4" fill="#bcbd22" fill-opacity="0.78"/>
<circle cx="538.8" cy="247.8" r="1.4" fill="#7f7f7f" fill-opacity="0.78"/>
<circle cx="539.2" cy="252.3" r="1.4" fill="#17becf" fill-opacity="0.78"/>
<circle cx="534.7" cy="252.3" r="1.4" fill="#bcbd22" fill-opacity="0.78"/>
<circle cx="226.3" cy="248.7" r="1.4" fill="#bcbd22" fill-opacity="0.78"/>
<circle cx="233.5" cy="248.7" r="1.4" fill="#7f7f7f" fill-opacity="0.78"/>
<circle cx="57.6" cy="162.5" r="1.4" fill="#d62728" fill-opacity="0.78"/>
<circle cx="57.5" cy="168.3" r="1.4" fill="#9467bd" fill-opacity="0.78"/>
<circle cx="57.8" cy="170.1" r="1.4" fill="#9467bd" fill-opacity="0.78"/>
<circle cx="57.4" cy="172.9" r="1.4" fill="#2ca02c" fill-opacity="0.78"/>
<circle cx="57.7" cy="174.5" r="1.4" fill="#d62728" fill-opacity="0.78"/>
<circle cx="57.6" cy="181.6" r="1.4" fill="#d62728" fill-opacity="0.78"/>
<circle cx="57.4" cy="186.9" r="1.4" fill="#8c564b" fill-opacity="0.78"/>
<circle cx="57.7" cy="191.9" r="1.4" fill="#9467bd" fill-opacity="0.78"/>
<circle cx="57.4" cy="195.3" r="1.4" fill="#d62728" fill-opacity="0.78"/>
<circle cx="57.7" cy="199.4" r="1.4" fill="#8c564b" fill-opacity="0.78"/>
<circle cx="57.4" cy="202.2" r="1.4" fill="#8c564b" fill-opacity="0.78"/>
<circle cx="57.5" cy="204.5" r="1.4" fill="#e377c2" fill-opacity="0.78"/>
<circle cx="57.7" cy="206.9" r="1.4" fill="#9467bd" fill-opacity="0.78"/>
<circle cx="57.9" cy="210.9" r="1.4" fill="#e377c2" fill-opacity="0.78"/>
<circle cx="57.5" cy="212.5" r="1.4" fill="#8c564b" fill-opacity="0.78"/>
<circle cx="57.5" cy="214.4" r="1.4" fill="#8c564b" fill-opacity="0.78"/>
<circle cx="57.8" cy="215.8" r="1.4" fill="#e377c2" fill-opacity="0.78"/>
<circle cx="58.0" cy="218.7" r="1.4" fill="#e377c2" fill-opacity="0.78"/>
<circle cx="57.7" cy="221.1" r="1.4" fill="#8c564b" fill-opacity="0.78"/>
<circle cx="57.6" cy="223.1" r="1.4" fill="#7f7f7f" fill-opacity="0.78"/>
<circle cx="58.0" cy="225.2" r="1.4" fill="#e377c2" fill-opacity="0.78"/>
<circle cx="57.4" cy="227.6" r="1.4" fill="#e377c2" fill-opacity="0.78"/>
<circle cx="57.9" cy="231.3" r="1.4" fill="#bcbd22" fill-opacity="0.78"/>
<circle cx="57.6" cy="236.6" r="1.4" fill="#7f7f7f" fill-opacity="0.78"/>
<circle cx="57.5" cy="239.5" r="1.4" fill="#bcbd22" fill-opacity="0.78"/>
<circle cx="57.5" cy="244.4" r="1.4" fill="#bcbd22" fill-opacity="0.78"/>
<circle cx="57.6" cy="251.8" r="1.4" fill="#17becf" fill-opacity="0.78"/>
<circle cx="57.9" cy="256.5" r="1.4" fill="#bcbd22" fill-opacity="0.78"/>
<circle cx="57.5" cy="266.7" r="1.4" fill="#17becf" fill-opacity="0.78"/>
<circle cx="57.7" cy="273.3" r="1.4" fill="#8c564b" fill-opacity="0.78"/>
<circle cx="57.8" cy="278.1" r="1.4" fill="#bcbd22" fill-opacity="0.78"/>
<circle cx="57.6" cy="313.0" r="1.4" fill="#bcbd22" fill-opacity="0.78"/>
<circle cx="179.4" cy="241.9" r="1.4" fill="#bcbd22" fill-opacity="0.78"/>
<circle cx="154.8" cy="250.5" r="1.4" fill="#bcbd22" fill-opacity="0.78"/>
<circle cx="162.6" cy="249.2" r="1.4" fill="#bcbd22" fill-opacity="0.78"/>
<circle cx="161.6" cy="252.1" r="1.4" fill="#17becf" fill-opacity="0.78"/>
<circle cx="157.6" cy="249.0" r="1.4" fill="#bcbd22" fill-opacity="0.78"/>
<circle cx="203.0" cy="251.2" r="1.4" fill="#bcbd22" fill-opacity="0.78"/>
<circle cx="210.6" cy="242.7" r="1.4" fill="#bcbd22" fill-opacity="0.78"/>
<circle cx="194.5" cy="243.1" r="1.4" fill="#bcbd22" fill-opacity="0.78"/>
<circle cx="142.8" cy="250.4" r="1.4" fill="#17becf" fill-opacity="0.78"/>
<circle cx="181.3" cy="253.3" r="1.4" fill="#bcbd22" fill-opacity="0.78"/>
<circle cx="190.1" cy="249.3" r="1.4" fill="#bcbd22" fill-opacity="0.78"/>
<circle cx="172.8" cy="252.8" r="1.4" fill="#7f7f7f" fill-opacity="0.78"/>
<circle cx="174.1" cy="250.3" r="1.4" fill="#bcbd22" fill-opacity="0.78"/>
<circle cx="190.5" cy="250.1" r="1.4" fill="#7f7f7f" fill-opacity="0.78"/>
<circle cx="141.8" cy="272.0" r="1.4" fill="#17becf" fill-opacity="0.78"/>
<circle cx="142.2" cy="275.9" r="1.4" fill="#17becf" fill-opacity="0.78"/>
<circle cx="141.0" cy="278.3" r="1.4" fill="#17becf" fill-opacity="0.78"/>
<circle cx="141.3" cy="281.4" r="1.4" fill="#17becf" fill-opacity="0.78"/>
<circle cx="142.6" cy="285.3" r="1.4" fill="#17becf" fill-opacity="0.78"/>
<circle cx="141.3" cy="290.8" r="1.4" fill="#17becf" fill-opacity="0.78"/>
<circle cx="141.8" cy="295.5" r="1.4" fill="#17becf" fill-opacity="0.78"/>
<circle cx="141.8" cy="300.2" r="1.4" fill="#17becf" fill-opacity="0.78"/>
<circle cx="141.0" cy="304.2" r="1.4" fill="#17becf" fill-opacity="0.78"/>
<circle cx="150.4" cy="283.0" r="1.4" fill="#17becf" fill-opacity="0.78"/>
<circle cx="152.8" cy="275.1" r="1.4" fill="#17becf" fill-opacity="0.78"/>
<circle cx="152.0" cy="279.0" r="1.4" fill="#17becf" fill-opacity="0.78"/>
<circle cx="148.8" cy="281.4" r="1.4" fill="#17becf" fill-opacity="0.78"/>
<circle cx="159.8" cy="265.7" r="1.4" fill="#17becf" fill-opacity="0.78"/>
<circle cx="160.6" cy="275.1" r="1.4" fill="#17becf" fill-opacity="0.78"/>
<circle cx="159.0" cy="279.8" r="1.4" fill="#17becf" fill-opacity="0.78"/>
<circle cx="167.7" cy="274.3" r="1.4" fill="#17becf" fill-opacity="0.78"/>
<circle cx="169.2" cy="276.7" r="1.4" fill="#17becf" fill-opacity="0.78"/>
<circle cx="171.1" cy="279.8" r="1.4" fill="#17becf" fill-opacity="0.78"/>
<circle cx="170.0" cy="283.0" r="1.4" fill="#17becf" fill-opacity="0.78"/>
<circle cx="171.6" cy="287.7" r="1.4" fill="#17becf" fill-opacity="0.78"/>
<circle cx="172.4" cy="291.6" r="1.4" fill="#17becf" fill-opacity="0.78"/>
<circle cx="174.0" cy="295.5" r="1.4" fill="#17becf" fill-opacity="0.78"/>
<circle cx="177.1" cy="275.9" r="1.4" fill="#17becf" fill-opacity="0.78"/>
<circle cx="177.1" cy="281.4" r="1.4" fill="#17becf" fill-opacity="0.78"/>
<circle cx="178.7" cy="286.1" r="1.4" fill="#17becf" fill-opacity="0.78"/>
<circle cx="180.2" cy="268.8" r="1.4" fill="#17becf" fill-opacity="0.78"/>
<circle cx="181.8" cy="273.5" r="1.4" fill="#17becf" fill-opacity="0.78"/>
<circle cx="183.4" cy="277.5" r="1.4" fill="#17becf" fill-opacity="0.78"/>
<circle cx="184.2" cy="283.0" r="1.4" fill="#17becf" fill-opacity="0.78"/>
<circle cx="185.7" cy="287.7" r="1.4" fill="#17becf" fill-opacity="0.78"/>
<circle cx="185.7" cy="292.4" r="1.4" fill="#17becf" fill-opacity="0.78"/>
<circle cx="186.5" cy="297.1" r="1.4" fill="#17becf" fill-opacity="0.78"/>
<circle cx="188.1" cy="281.4" r="1.4" fill="#17becf" fill-opacity="0.78"/>
<circle cx="191.2" cy="286.1" r="1.4" fill="#17becf" fill-opacity="0.78"/>
<circle cx="192.8" cy="300.2" r="1.4" fill="#17becf" fill-opacity="0.78"/>
<circle cx="194.4" cy="290.8" r="1.4" fill="#17becf" fill-opacity="0.78"/>
<circle cx="195.9" cy="268.8" r="1.4" fill="#17becf" fill-opacity="0.78"/>
<circle cx="197.5" cy="281.4" r="1.4" fill="#17becf" fill-opacity="0.78"/>
<circle cx="199.1" cy="287.7" r="1.4" fill="#17becf" fill-opacity="0.78"/>
<circle cx="200.6" cy="276.7" r="1.4" fill="#17becf" fill-opacity="0.78"/>
<circle cx="203.8" cy="272.0" r="1.4" fill="#17becf" fill-opacity="0.78"/>
<circle cx="205.4" cy="278.3" r="1.4" fill="#17becf" fill-opacity="0.78"/>
<circle cx="206.1" cy="283.0" r="1.4" fill="#17becf" fill-opacity="0.78"/>
<circle cx="206.9" cy="286.9" r="1.4" fill="#17becf" fill-opacity="0.78"/>
<circle cx="207.7" cy="290.8" r="1.4" fill="#17becf" fill-opacity="0.78"/>
<circle cx="208.5" cy="295.5" r="1.4" fill="#17becf" fill-opacity="0.78"/>
<circle cx="210.1" cy="300.2" r="1.4" fill="#17becf" fill-opacity="0.78"/>
<circle cx="211.6" cy="275.1" r="1.4" fill="#17becf" fill-opacity="0.78"/>
<circle cx="213.2" cy="281.4" r="1.4" fill="#17becf" fill-opacity="0.78"/>
<circle cx="214.8" cy="289.2" r="1.4" fill="#17becf" fill-opacity="0.78"/>
<circle cx="215.6" cy="295.5" r="1.4" fill="#17becf" fill-opacity="0.78"/>
<circle cx="217.9" cy="273.5" r="1.4" fill="#17becf" fill-opacity="0.78"/>
<circle cx="219.5" cy="281.4" r="1.4" fill="#17becf" fill-opacity="0.78"/>
<circle cx="220.3" cy="294.0" r="1.4" fill="#17becf" fill-opacity="0.78"/>
<circle cx="222.6" cy="268.8" r="1.4" fill="#17becf" fill-opacity="0.78"/>
<circle cx="224.2" cy="286.1" r="1.4" fill="#17becf" fill-opacity="0.78"/>
<circle cx="225.0" cy="275.1" r="1.4" fill="#17becf" fill-opacity="0.78"/>
<circle cx="225.8" cy="292.4" r="1.4" fill="#17becf" fill-opacity="0.78"/>
<circle cx="221.1" cy="256.3" r="1.4" fill="#17becf" fill-opacity="0.78"/>
<circle cx="228.9" cy="281.4" r="1.4" fill="#17becf" fill-opacity="0.78"/>
<circle cx="192.8" cy="308.1" r="1.4" fill="#17becf" fill-opacity="0.78"/>
<circle cx="197.5" cy="303.4" r="1.4" fill="#17becf" fill-opacity="0.78"/>
<circle cx="177.1" cy="286.1" r="1.4" fill="#17becf" fill-opacity="0.78"/>
<circle cx="181.8" cy="294.0" r="1.4" fill="#17becf" fill-opacity="0.78"/>
<circle cx="141.8" cy="271.2" r="1.4" fill="#bcbd22" fill-opacity="0.78"/>
<circle cx="142.2" cy="273.5" r="1.4" fill="#bcbd22" fill-opacity="0.78"/>
<circle cx="142.6" cy="279.0" r="1.4" fill="#bcbd22" fill-opacity="0.78"/>
<circle cx="141.8" cy="287.7" r="1.4" fill="#bcbd22" fill-opacity="0.78"/>
<circle cx="153.5" cy="267.3" r="1.4" fill="#bcbd22" fill-opacity="0.78"/>
<circle cx="153.5" cy="278.3" r="1.4" fill="#bcbd22" fill-opacity="0.78"/>
<circle cx="159.8" cy="278.3" r="1.4" fill="#bcbd22" fill-opacity="0.78"/>
<circle cx="159.8" cy="261.8" r="1.4" fill="#bcbd22" fill-opacity="0.78"/>
<circle cx="160.6" cy="270.4" r="1.4" fill="#bcbd22" fill-opacity="0.78"/>
<circle cx="161.4" cy="264.1" r="1.4" fill="#bcbd22" fill-opacity="0.78"/>
<circle cx="158.3" cy="265.7" r="1.4" fill="#bcbd22" fill-opacity="0.78"/>
<circle cx="166.1" cy="253.1" r="1.4" fill="#bcbd22" fill-opacity="0.78"/>
<circle cx="167.7" cy="265.7" r="1.4" fill="#bcbd22" fill-opacity="0.78"/>
<circle cx="169.2" cy="270.4" r="1.4" fill="#bcbd22" fill-opacity="0.78"/>
<circle cx="170.8" cy="272.0" r="1.4" fill="#bcbd22" fill-opacity="0.78"/>
<circle cx="173.2" cy="274.3" r="1.4" fill="#bcbd22" fill-opacity="0.78"/>
<circle cx="174.0" cy="268.1" r="1.4" fill="#bcbd22" fill-opacity="0.78"/>
<circle cx="175.5" cy="276.7" r="1.4" fill="#bcbd22" fill-opacity="0.78"/>
<circle cx="178.7" cy="273.5" r="1.4" fill="#bcbd22" fill-opacity="0.78"/>
<circle cx="180.2" cy="278.3" r="1.4" fill="#bcbd22" fill-opacity="0.78"/>
<circle cx="182.6" cy="281.4" r="1.4" fill="#bcbd22" fill-opacity="0.78"/>
<circle cx="181.8" cy="287.7" r="1.4" fill="#bcbd22" fill-opacity="0.78"/>
<circle cx="184.9" cy="290.8" r="1.4" fill="#bcbd22" fill-opacity="0.78"/>
<circle cx="181.8" cy="295.5" r="1.4" fill="#bcbd22" fill-opacity="0.78"/>
<circle cx="172.4" cy="284.5" r="1.4" fill="#bcbd22" fill-opacity="0.78"/>
<circle cx="175.5" cy="283.0" r="1.4" fill="#bcbd22" fill-opacity="0.78"/>
<circle cx="186.5" cy="270.4" r="1.4" fill="#bcbd22" fill-opacity="0.78"/>
<circle cx="189.7" cy="278.3" r="1.4" fill="#bcbd22" fill-opacity="0.78"/>
<circle cx="192.8" cy="267.3" r="1.4" fill="#bcbd22" fill-opacity="0.78"/>
<circle cx="195.9" cy="273.5" r="1.4" fill="#bcbd22" fill-opacity="0.78"/>
<circle cx="199.1" cy="270.4" r="1.4" fill="#bcbd22" fill-opacity="0.78"/>
<circle cx="202.2" cy="281.4" r="1.4" fill="#bcbd22" fill-opacity="0.78"/>
<circle cx="205.4" cy="273.5" r="1.4" fill="#bcbd22" fill-opacity="0.78"/>
<circle cx="206.9" cy="268.8" r="1.4" fill="#bcbd22" fill-opacity="0.78"/>
<circle cx="210.1" cy="267.3" r="1.4" fill="#bcbd22" fill-opacity="0.78"/>
<circle cx="213.2" cy="272.0" r="1.4" fill="#bcbd22" fill-opacity="0.78"/>
<circle cx="214.8" cy="265.7" r="1.4" fill="#bcbd22" fill-opacity="0.78"/>
<circle cx="217.9" cy="264.1" r="1.4" fill="#bcbd22" fill-opacity="0.78"/>
<circle cx="221.1" cy="267.3" r="1.4" fill="#bcbd22" fill-opacity="0.78"/>
<circle cx="224.2" cy="262.6" r="1.4" fill="#bcbd22" fill-opacity="0.78"/>
<circle cx="227.3" cy="259.4" r="1.4" fill="#bcbd22" fill-opacity="0.78"/>
<circle cx="222.6" cy="286.1" r="1.4" fill="#bcbd22" fill-opacity="0.78"/>
<circle cx="225.8" cy="289.2" r="1.4" fill="#bcbd22" fill-opacity="0.78"/>
<circle cx="214.8" cy="301.8" r="1.4" fill="#bcbd22" fill-opacity="0.78"/>
<circle cx="217.9" cy="297.1" r="1.4" fill="#bcbd22" fill-opacity="0.78"/>
<circle cx="159.8" cy="295.5" r="1.4" fill="#bcbd22" fill-opacity="0.78"/>
<circle cx="161.4" cy="300.2" r="1.4" fill="#bcbd22" fill-opacity="0.78"/>
<circle cx="172.4" cy="300.2" r="1.4" fill="#bcbd22" fill-opacity="0.78"/>
<circle cx="174.0" cy="303.4" r="1.4" fill="#bcbd22" fill-opacity="0.78"/>
<circle cx="188.1" cy="304.9" r="1.4" fill="#bcbd22" fill-opacity="0.78"/>
<circle cx="206.9" cy="301.8" r="1.4" fill="#bcbd22" fill-opacity="0.78"/>
<circle cx="222.6" cy="253.1" r="1.4" fill="#bcbd22" fill-opacity="0.78"/>
<circle cx="203.8" cy="276.7" r="1.4" fill="#bcbd22" fill-opacity="0.78"/>
<circle cx="153.5" cy="278.3" r="1.4" fill="#7f7f7f" fill-opacity="0.78"/>
<circle cx="145.7" cy="297.1" r="1.4" fill="#7f7f7f" fill-opacity="0.78"/>
<circle cx="167.7" cy="264.9" r="1.4" fill="#7f7f7f" fill-opacity="0.78"/>
<circle cx="152.8" cy="285.3" r="1.4" fill="#9467bd" fill-opacity="0.78"/>
<circle cx="212.3" cy="270.3" r="1.4" fill="#17becf" fill-opacity="0.78"/>
<circle cx="142.0" cy="279.7" r="1.4" fill="#bcbd22" fill-opacity="0.78"/>
<circle cx="154.8" cy="274.1" r="1.4" fill="#17becf" fill-opacity="0.78"/>
<circle cx="151.4" cy="273.9" r="1.4" fill="#bcbd22" fill-opacity="0.78"/>
<circle cx="174.4" cy="274.3" r="1.4" fill="#bcbd22" fill-opacity="0.78"/>
<circle cx="188.4" cy="269.6" r="1.4" fill="#17becf" fill-opacity="0.78"/>
<circle cx="212.1" cy="276.2" r="1.4" fill="#bcbd22" fill-opacity="0.78"/>
<circle cx="171.6" cy="267.1" r="1.4" fill="#17becf" fill-opacity="0.78"/>
<circle cx="224.3" cy="274.9" r="1.4" fill="#bcbd22" fill-opacity="0.78"/>
<circle cx="160.5" cy="276.0" r="1.4" fill="#bcbd22" fill-opacity="0.78"/>
<circle cx="191.8" cy="271.9" r="1.4" fill="#bcbd22" fill-opacity="0.78"/>
<circle cx="172.5" cy="272.7" r="1.4" fill="#17becf" fill-opacity="0.78"/>
<circle cx="223.9" cy="268.5" r="1.4" fill="#17becf" fill-opacity="0.78"/>
<circle cx="199.5" cy="263.0" r="1.4" fill="#bcbd22" fill-opacity="0.78"/>
<circle cx="219.2" cy="275.1" r="1.4" fill="#17becf" fill-opacity="0.78"/>
<circle cx="175.1" cy="281.0" r="1.4" fill="#bcbd22" fill-opacity="0.78"/>
<circle cx="145.9" cy="278.9" r="1.4" fill="#bcbd22" fill-opacity="0.78"/>
<circle cx="154.3" cy="270.6" r="1.4" fill="#bcbd22" fill-opacity="0.78"/>
<circle cx="153.3" cy="274.2" r="1.4" fill="#bcbd22" fill-opacity="0.78"/>
<circle cx="172.0" cy="288.1" r="1.4" fill="#17becf" fill-opacity="0.78"/>
<circle cx="153.1" cy="274.6" r="1.4" fill="#bcbd22" fill-opacity="0.78"/>
<circle cx="170.6" cy="269.3" r="1.4" fill="#17becf" fill-opacity="0.78"/>
<circle cx="227.4" cy="275.1" r="1.4" fill="#bcbd22" fill-opacity="0.78"/>
<circle cx="182.6" cy="275.2" r="1.4" fill="#bcbd22" fill-opacity="0.78"/>
<circle cx="163.3" cy="273.9" r="1.4" fill="#17becf" fill-opacity="0.78"/>
<circle cx="154.2" cy="291.4" r="1.4" fill="#bcbd22" fill-opacity="0.78"/>
<circle cx="152.9" cy="274.8" r="1.4" fill="#bcbd22" fill-opacity="0.78"/>
<circle cx="216.0" cy="268.1" r="1.4" fill="#17becf" fill-opacity="0.78"/>
<circle cx="163.0" cy="268.8" r="1.4" fill="#17becf" fill-opacity="0.78"/>
<circle cx="186.9" cy="275.6" r="1.4" fill="#17becf" fill-opacity="0.78"/>
<circle cx="169.0" cy="274.5" r="1.4" fill="#7f7f7f" fill-opacity="0.78"/>
<circle cx="215.0" cy="286.4" r="1.4" fill="#17becf" fill-opacity="0.78"/>
<circle cx="212.0" cy="271.6" r="1.4" fill="#bcbd22" fill-opacity="0.78"/>
<circle cx="171.3" cy="266.3" r="1.4" fill="#bcbd22" fill-opacity="0.78"/>
<circle cx="142.5" cy="270.9" r="1.4" fill="#17becf" fill-opacity="0.78"/>
<circle cx="224.2" cy="278.1" r="1.4" fill="#bcbd22" fill-opacity="0.78"/>
<circle cx="222.5" cy="291.9" r="1.4" fill="#bcbd22" fill-opacity="0.78"/>
<circle cx="159.4" cy="270.5" r="1.4" fill="#bcbd22" fill-opacity="0.78"/>
<circle cx="157.3" cy="275.2" r="1.4" fill="#17becf" fill-opacity="0.78"/>
<circle cx="214.0" cy="282.7" r="1.4" fill="#bcbd22" fill-opacity="0.78"/>
<circle cx="197.5" cy="273.0" r="1.4" fill="#17becf" fill-opacity="0.78"/>
<circle cx="220.1" cy="268.8" r="1.4" fill="#17becf" fill-opacity="0.78"/>
<circle cx="206.0" cy="267.0" r="1.4" fill="#17becf" fill-opacity="0.78"/>
<circle cx="169.3" cy="272.7" r="1.4" fill="#17becf" fill-opacity="0.78"/>
<circle cx="225.5" cy="265.6" r="1.4" fill="#17becf" fill-opacity="0.78"/>
<circle cx="203.8" cy="276.9" r="1.4" fill="#bcbd22" fill-opacity="0.78"/>
<circle cx="151.2" cy="282.1" r="1.4" fill="#17becf" fill-opacity="0.78"/>
<circle cx="152.9" cy="286.1" r="1.4" fill="#17becf" fill-opacity="0.78"/>
<circle cx="226.3" cy="267.9" r="1.4" fill="#bcbd22" fill-opacity="0.78"/>
<circle cx="151.5" cy="265.8" r="1.4" fill="#bcbd22" fill-opacity="0.78"/>
<circle cx="225.4" cy="266.2" r="1.4" fill="#17becf" fill-opacity="0.78"/>
<circle cx="178.2" cy="264.1" r="1.4" fill="#17becf" fill-opacity="0.78"/>
<circle cx="212.7" cy="273.5" r="1.4" fill="#bcbd22" fill-opacity="0.78"/>
<circle cx="161.2" cy="277.9" r="1.4" fill="#17becf" fill-opacity="0.78"/>
<circle cx="162.8" cy="268.3" r="1.4" fill="#17becf" fill-opacity="0.78"/>
<circle cx="171.1" cy="274.1" r="1.4" fill="#bcbd22" fill-opacity="0.78"/>
<circle cx="191.3" cy="278.9" r="1.4" fill="#17becf" fill-opacity="0.78"/>
<circle cx="184.1" cy="267.3" r="1.4" fill="#bcbd22" fill-opacity="0.78"/>
<circle cx="186.1" cy="280.6" r="1.4" fill="#bcbd22" fill-opacity="0.78"/>
<circle cx="140.3" cy="273.0" r="1.4" fill="#17becf" fill-opacity="0.78"/>
<circle cx="163.8" cy="316.8" r="1.4" fill="#17becf" fill-opacity="0.78"/>
<circle cx="194.5" cy="313.1" r="1.4" fill="#17becf" fill-opacity="0.78"/>
<circle cx="194.4" cy="324.6" r="1.4" fill="#bcbd22" fill-opacity="0.78"/>
<circle cx="194.8" cy="311.2" r="1.4" fill="#bcbd22" fill-opacity="0.78"/>
<circle cx="211.8" cy="317.7" r="1.4" fill="#17becf" fill-opacity="0.78"/>
<circle cx="210.8" cy="327.8" r="1.4" fill="#bcbd22" fill-opacity="0.78"/>
<circle cx="248.7" cy="357.3" r="1.4" fill="#17becf" fill-opacity="0.78"/>
<circle cx="93.2" cy="375.0" r="1.4" fill="#17becf" fill-opacity="0.78"/>
<circle cx="219.3" cy="405.3" r="1.4" fill="#17becf" fill-opacity="0.78"/>
<circle cx="197.4" cy="438.7" r="1.4" fill="#bcbd22" fill-opacity="0.78"/>
<circle cx="218.0" cy="446.2" r="1.4" fill="#bcbd22" fill-opacity="0.78"/>
<circle cx="539.3" cy="436.1" r="1.4" fill="#17becf" fill-opacity="0.78"/>
<circle cx="552.4" cy="439.7" r="1.4" fill="#17becf" fill-opacity="0.78"/>
<circle cx="520.1" cy="442.0" r="1.4" fill="#17becf" fill-opacity="0.78"/>
<circle cx="534.4" cy="440.4" r="1.4" fill="#bcbd22" fill-opacity="0.78"/>
<circle cx="535.2" cy="446.9" r="1.4" fill="#bcbd22" fill-opacity="0.78"/>
<circle cx="532.5" cy="449.5" r="1.4" fill="#bcbd22" fill-opacity="0.78"/>
<circle cx="538.7" cy="452.2" r="1.4" fill="#7f7f7f" fill-opacity="0.78"/>
<circle cx="547.5" cy="444.4" r="1.4" fill="#bcbd22" fill-opacity="0.78"/>
<circle cx="548.5" cy="450.2" r="1.4" fill="#bcbd22" fill-opacity="0.78"/>
<circle cx="562.2" cy="450.8" r="1.4" fill="#bcbd22" fill-opacity="0.78"/>
<circle cx="518.2" cy="452.2" r="1.4" fill="#bcbd22" fill-opacity="0.78"/>
<circle cx="520.7" cy="459.2" r="1.4" fill="#17becf" fill-opacity="0.78"/>
<circle cx="509.0" cy="453.8" r="1.4" fill="#bcbd22" fill-opacity="0.78"/>
<circle cx="490.2" cy="446.3" r="1.4" fill="#17becf" fill-opacity="0.78"/>
<circle cx="496.6" cy="447.9" r="1.4" fill="#17becf" fill-opacity="0.78"/>
<circle cx="501.5" cy="445.5" r="1.4" fill="#17becf" fill-opacity="0.78"/>
<circle cx="492.7" cy="457.3" r="1.4" fill="#bcbd22" fill-opacity="0.78"/>
<circle cx="488.8" cy="457.3" r="1.4" fill="#17becf" fill-opacity="0.78"/>
<circle cx="502.5" cy="459.2" r="1.4" fill="#17becf" fill-opacity="0.78"/>
<circle cx="528.5" cy="459.6" r="1.4" fill="#bcbd22" fill-opacity="0.78"/>
<circle cx="505.5" cy="468.4" r="1.4" fill="#17becf" fill-opacity="0.78"/>
<circle cx="482.0" cy="449.5" r="1.4" fill="#17becf" fill-opacity="0.78"/>
<circle cx="481.0" cy="456.7" r="1.4" fill="#17becf" fill-opacity="0.78"/>
<circle cx="482.0" cy="460.6" r="1.4" fill="#bcbd22" fill-opacity="0.78"/>
<circle cx="533.5" cy="477.6" r="1.4" fill="#17becf" fill-opacity="0.78"/>
<circle cx="600.4" cy="447.1" r="1.4" fill="#17becf" fill-opacity="0.78"/>
<circle cx="603.5" cy="463.6" r="1.4" fill="#17becf" fill-opacity="0.78"/>
<circle cx="57.7" cy="417.8" r="1.4" fill="#e377c2" fill-opacity="0.78"/>
<circle cx="57.7" cy="420.8" r="1.4" fill="#ff7f0e" fill-opacity="0.78"/>
<circle cx="57.7" cy="424.8" r="1.4" fill="#bcbd22" fill-opacity="0.78"/>
<circle cx="57.7" cy="430.3" r="1.4" fill="#d62728" fill-opacity="0.78"/>
<circle cx="57.7" cy="432.2" r="1.4" fill="#8c564b" fill-opacity="0.78"/>
<circle cx="57.7" cy="436.8" r="1.4" fill="#2ca02c" fill-opacity="0.78"/>
<circle cx="57.7" cy="439.4" r="1.4" fill="#9467bd" fill-opacity="0.78"/>
<circle cx="57.7" cy="440.8" r="1.4" fill="#e377c2" fill-opacity="0.78"/>
<circle cx="57.7" cy="443.6" r="1.4" fill="#bcbd22" fill-opacity="0.78"/>
<circle cx="57.7" cy="445.3" r="1.4" fill="#9467bd" fill-opacity="0.78"/>
<circle cx="57.7" cy="447.1" r="1.4" fill="#8c564b" fill-opacity="0.78"/>
<circle cx="57.7" cy="448.8" r="1.4" fill="#8c564b" fill-opacity="0.78"/>
<circle cx="57.7" cy="451.6" r="1.4" fill="#9467bd" fill-opacity="0.78"/>
<circle cx="57.7" cy="453.3" r="1.4" fill="#e377c2" fill-opacity="0.78"/>
<circle cx="57.7" cy="455.0" r="1.4" fill="#bcbd22" fill-opacity="0.78"/>
<circle cx="57.7" cy="457.9" r="1.4" fill="#e377c2" fill-opacity="0.78"/>
<circle cx="57.7" cy="461.3" r="1.4" fill="#8c564b" fill-opacity="0.78"/>
<circle cx="57.7" cy="465.9" r="1.4" fill="#2ca02c" fill-opacity="0.78"/>
<circle cx="57.7" cy="468.7" r="1.4" fill="#d62728" fill-opacity="0.78"/>
<circle cx="57.7" cy="469.9" r="1.4" fill="#d62728" fill-opacity="0.78"/>
<circle cx="57.7" cy="473.9" r="1.4" fill="#8c564b" fill-opacity="0.78"/>
<circle cx="79.2" cy="460.4" r="1.4" fill="#8c564b" fill-opacity="0.78"/>
<circle cx="74.7" cy="466.8" r="1.4" fill="#7f7f7f" fill-opacity="0.78"/>
<circle cx="75.4" cy="475.0" r="1.4" fill="#bcbd22" fill-opacity="0.78"/>
<circle cx="88.4" cy="463.9" r="1.4" fill="#e377c2" fill-opacity="0.78"/>
<circle cx="77.7" cy="476.9" r="1.4" fill="#9467bd" fill-opacity="0.78"/>
<circle cx="65.4" cy="463.3" r="1.4" fill="#7f7f7f" fill-opacity="0.78"/>
<circle cx="64.0" cy="467.1" r="1.4" fill="#8c564b" fill-opacity="0.78"/>
<circle cx="84.0" cy="469.1" r="1.4" fill="#bcbd22" fill-opacity="0.78"/>
<circle cx="66.3" cy="465.3" r="1.4" fill="#9467bd" fill-opacity="0.78"/>
<circle cx="86.7" cy="459.1" r="1.4" fill="#17becf" fill-opacity="0.78"/>
<circle cx="68.1" cy="472.3" r="1.4" fill="#7f7f7f" fill-opacity="0.78"/>
<circle cx="89.7" cy="465.4" r="1.4" fill="#bcbd22" fill-opacity="0.78"/>
<circle cx="66.5" cy="461.0" r="1.4" fill="#e377c2" fill-opacity="0.78"/>
<circle cx="67.5" cy="469.8" r="1.4" fill="#e377c2" fill-opacity="0.78"/>
<circle cx="82.2" cy="473.9" r="1.4" fill="#7f7f7f" fill-opacity="0.78"/>
<circle cx="62.5" cy="467.9" r="1.4" fill="#e377c2" fill-opacity="0.78"/>
<circle cx="79.5" cy="465.0" r="1.4" fill="#d62728" fill-opacity="0.78"/>
<circle cx="84.1" cy="466.8" r="1.4" fill="#17becf" fill-opacity="0.78"/>
<circle cx="64.9" cy="466.8" r="1.4" fill="#bcbd22" fill-opacity="0.78"/>
<circle cx="69.6" cy="468.6" r="1.4" fill="#9467bd" fill-opacity="0.78"/>
<circle cx="73.8" cy="475.6" r="1.4" fill="#e377c2" fill-opacity="0.78"/>
<circle cx="66.2" cy="461.6" r="1.4" fill="#17becf" fill-opacity="0.78"/>
<circle cx="78.0" cy="466.3" r="1.4" fill="#9467bd" fill-opacity="0.78"/>
<circle cx="81.3" cy="464.7" r="1.4" fill="#7f7f7f" fill-opacity="0.78"/>
<circle cx="64.0" cy="474.2" r="1.4" fill="#bcbd22" fill-opacity="0.78"/>
<circle cx="64.3" cy="464.1" r="1.4" fill="#bcbd22" fill-opacity="0.78"/>
<circle cx="63.9" cy="470.9" r="1.4" fill="#e377c2" fill-opacity="0.78"/>
<circle cx="77.5" cy="462.4" r="1.4" fill="#17becf" fill-opacity="0.78"/>
<circle cx="69.5" cy="471.6" r="1.4" fill="#e377c2" fill-opacity="0.78"/>
<circle cx="65.1" cy="471.9" r="1.4" fill="#9467bd" fill-opacity="0.78"/>
<circle cx="63.4" cy="468.4" r="1.4" fill="#e377c2" fill-opacity="0.78"/>
<circle cx="83.3" cy="471.5" r="1.4" fill="#e377c2" fill-opacity="0.78"/>
<circle cx="76.0" cy="469.2" r="1.4" fill="#9467bd" fill-opacity="0.78"/>
<circle cx="69.0" cy="471.6" r="1.4" fill="#9467bd" fill-opacity="0.78"/>
<circle cx="82.5" cy="463.6" r="1.4" fill="#7f7f7f" fill-opacity="0.78"/>
<circle cx="88.2" cy="465.9" r="1.4" fill="#9467bd" fill-opacity="0.78"/>
<circle cx="84.9" cy="461.1" r="1.4" fill="#bcbd22" fill-opacity="0.78"/>
<circle cx="73.0" cy="469.7" r="1.4" fill="#7f7f7f" fill-opacity="0.78"/>
<circle cx="81.3" cy="472.0" r="1.4" fill="#bcbd22" fill-opacity="0.78"/>
<circle cx="81.8" cy="466.4" r="1.4" fill="#8c564b" fill-opacity="0.78"/>
<circle cx="73.3" cy="465.9" r="1.4" fill="#9467bd" fill-opacity="0.78"/>
<circle cx="64.0" cy="468.5" r="1.4" fill="#bcbd22" fill-opacity="0.78"/>
<circle cx="69.2" cy="468.2" r="1.4" fill="#bcbd22" fill-opacity="0.78"/>
<circle cx="86.4" cy="469.0" r="1.4" fill="#8c564b" fill-opacity="0.78"/>
<circle cx="69.9" cy="467.2" r="1.4" fill="#7f7f7f" fill-opacity="0.78"/>
<circle cx="66.4" cy="471.6" r="1.4" fill="#7f7f7f" fill-opacity="0.78"/>
<circle cx="69.4" cy="481.3" r="1.4" fill="#7f7f7f" fill-opacity="0.78"/>
<circle cx="68.8" cy="463.5" r="1.4" fill="#17becf" fill-opacity="0.78"/>
<circle cx="70.7" cy="466.8" r="1.4" fill="#e377c2" fill-opacity="0.78"/>
<circle cx="75.3" cy="467.2" r="1.4" fill="#7f7f7f" fill-opacity="0.78"/>
<circle cx="67.6" cy="466.5" r="1.4" fill="#e377c2" fill-opacity="0.78"/>
<circle cx="64.5" cy="467.0" r="1.4" fill="#e377c2" fill-opacity="0.78"/>
<circle cx="63.2" cy="471.6" r="1.4" fill="#e377c2" fill-opacity="0.78"/>
<circle cx="78.4" cy="467.7" r="1.4" fill="#7f7f7f" fill-opacity="0.78"/>
<circle cx="83.0" cy="462.2" r="1.4" fill="#bcbd22" fill-opacity="0.78"/>
<circle cx="72.9" cy="459.7" r="1.4" fill="#e377c2" fill-opacity="0.78"/>
<circle cx="89.6" cy="472.2" r="1.4" fill="#8c564b" fill-opacity="0.78"/>
<circle cx="63.2" cy="474.1" r="1.4" fill="#bcbd22" fill-opacity="0.78"/>
<circle cx="87.0" cy="460.8" r="1.4" fill="#bcbd22" fill-opacity="0.78"/>
<circle cx="65.9" cy="460.6" r="1.4" fill="#7f7f7f" fill-opacity="0.78"/>
<circle cx="125.3" cy="471.1" r="1.4" fill="#17becf" fill-opacity="0.78"/>
<circle cx="130.9" cy="457.4" r="1.4" fill="#e377c2" fill-opacity="0.78"/>
<circle cx="137.8" cy="464.6" r="1.4" fill="#bcbd22" fill-opacity="0.78"/>
<circle cx="99.3" cy="462.3" r="1.4" fill="#bcbd22" fill-opacity="0.78"/>
<circle cx="97.3" cy="469.6" r="1.4" fill="#7f7f7f" fill-opacity="0.78"/>
<circle cx="133.8" cy="460.0" r="1.4" fill="#17becf" fill-opacity="0.78"/>
<circle cx="124.3" cy="475.8" r="1.4" fill="#17becf" fill-opacity="0.78"/>
<circle cx="125.2" cy="466.2" r="1.4" fill="#7f7f7f" fill-opacity="0.78"/>
<circle cx="136.2" cy="474.2" r="1.4" fill="#bcbd22" fill-opacity="0.78"/>
<circle cx="95.2" cy="469.6" r="1.4" fill="#bcbd22" fill-opacity="0.78"/>
<circle cx="141.1" cy="468.5" r="1.4" fill="#8c564b" fill-opacity="0.78"/>
<circle cx="124.6" cy="474.7" r="1.4" fill="#bcbd22" fill-opacity="0.78"/>
<circle cx="123.5" cy="462.2" r="1.4" fill="#7f7f7f" fill-opacity="0.78"/>
<circle cx="135.0" cy="457.4" r="1.4" fill="#bcbd22" fill-opacity="0.78"/>
<circle cx="100.3" cy="465.8" r="1.4" fill="#bcbd22" fill-opacity="0.78"/>
<circle cx="129.7" cy="475.1" r="1.4" fill="#bcbd22" fill-opacity="0.78"/>
<circle cx="94.2" cy="465.0" r="1.4" fill="#17becf" fill-opacity="0.78"/>
<circle cx="137.3" cy="474.2" r="1.4" fill="#bcbd22" fill-opacity="0.78"/>
<circle cx="126.2" cy="460.0" r="1.4" fill="#bcbd22" fill-opacity="0.78"/>
<circle cx="152.6" cy="467.4" r="1.4" fill="#bcbd22" fill-opacity="0.78"/>
<circle cx="158.5" cy="467.0" r="1.4" fill="#7f7f7f" fill-opacity="0.78"/>
<circle cx="147.4" cy="465.6" r="1.4" fill="#8c564b" fill-opacity="0.78"/>
<circle cx="121.5" cy="465.6" r="1.4" fill="#9467bd" fill-opacity="0.78"/>
<circle cx="104.7" cy="469.7" r="1.4" fill="#7f7f7f" fill-opacity="0.78"/>
<circle cx="99.3" cy="464.0" r="1.4" fill="#17becf" fill-opacity="0.78"/>
<circle cx="125.6" cy="472.5" r="1.4" fill="#bcbd22" fill-opacity="0.78"/>
<circle cx="152.8" cy="460.4" r="1.4" fill="#7f7f7f" fill-opacity="0.78"/>
<circle cx="91.7" cy="472.4" r="1.4" fill="#7f7f7f" fill-opacity="0.78"/>
<circle cx="111.1" cy="466.1" r="1.4" fill="#bcbd22" fill-opacity="0.78"/>
<circle cx="114.1" cy="461.8" r="1.4" fill="#bcbd22" fill-opacity="0.78"/>
<circle cx="142.6" cy="475.6" r="1.4" fill="#17becf" fill-opacity="0.78"/>
<circle cx="98.4" cy="473.8" r="1.4" fill="#e377c2" fill-opacity="0.78"/>
<circle cx="110.3" cy="462.1" r="1.4" fill="#bcbd22" fill-opacity="0.78"/>
<circle cx="117.5" cy="473.3" r="1.4" fill="#bcbd22" fill-opacity="0.78"/>
<circle cx="120.0" cy="465.9" r="1.4" fill="#bcbd22" fill-opacity="0.78"/>
<circle cx="93.4" cy="474.4" r="1.4" fill="#bcbd22" fill-opacity="0.78"/>
<circle cx="155.5" cy="472.2" r="1.4" fill="#bcbd22" fill-opacity="0.78"/>
<circle cx="108.6" cy="462.4" r="1.4" fill="#bcbd22" fill-opacity="0.78"/>
<circle cx="156.9" cy="465.8" r="1.4" fill="#e377c2" fill-opacity="0.78"/>
<circle cx="146.8" cy="457.7" r="1.4" fill="#9467bd" fill-opacity="0.78"/>
<circle cx="128.4" cy="457.1" r="1.4" fill="#17becf" fill-opacity="0.78"/>
<circle cx="93.5" cy="465.3" r="1.4" fill="#17becf" fill-opacity="0.78"/>
<circle cx="135.1" cy="460.0" r="1.4" fill="#bcbd22" fill-opacity="0.78"/>
<circle cx="93.4" cy="468.6" r="1.4" fill="#7f7f7f" fill-opacity="0.78"/>
<circle cx="114.1" cy="464.7" r="1.4" fill="#bcbd22" fill-opacity="0.78"/>
<circle cx="141.7" cy="470.2" r="1.4" fill="#7f7f7f" fill-opacity="0.78"/>
<circle cx="111.1" cy="465.4" r="1.4" fill="#7f7f7f" fill-opacity="0.78"/>
<circle cx="117.6" cy="467.6" r="1.4" fill="#bcbd22" fill-opacity="0.78"/>
<circle cx="153.4" cy="468.8" r="1.4" fill="#7f7f7f" fill-opacity="0.78"/>
<circle cx="105.4" cy="481.4" r="1.4" fill="#7f7f7f" fill-opacity="0.78"/>
<circle cx="99.8" cy="455.7" r="1.4" fill="#bcbd22" fill-opacity="0.78"/>
<circle cx="96.4" cy="464.7" r="1.4" fill="#bcbd22" fill-opacity="0.78"/>
<circle cx="108.1" cy="468.0" r="1.4" fill="#7f7f7f" fill-opacity="0.78"/>
<circle cx="152.1" cy="466.0" r="1.4" fill="#bcbd22" fill-opacity="0.78"/>
<circle cx="126.7" cy="460.3" r="1.4" fill="#bcbd22" fill-opacity="0.78"/>
<circle cx="113.7" cy="470.1" r="1.4" fill="#8c564b" fill-opacity="0.78"/>
<circle cx="98.8" cy="467.7" r="1.4" fill="#7f7f7f" fill-opacity="0.78"/>
<circle cx="134.1" cy="468.5" r="1.4" fill="#bcbd22" fill-opacity="0.78"/>
<circle cx="107.4" cy="463.1" r="1.4" fill="#bcbd22" fill-opacity="0.78"/>
<circle cx="121.2" cy="476.2" r="1.4" fill="#e377c2" fill-opacity="0.78"/>
<circle cx="91.5" cy="462.9" r="1.4" fill="#bcbd22" fill-opacity="0.78"/>
<circle cx="139.7" cy="470.9" r="1.4" fill="#7f7f7f" fill-opacity="0.78"/>
<circle cx="90.0" cy="462.2" r="1.4" fill="#bcbd22" fill-opacity="0.78"/>
<circle cx="154.9" cy="470.9" r="1.4" fill="#8c564b" fill-opacity="0.78"/>
<circle cx="107.4" cy="456.4" r="1.4" fill="#bcbd22" fill-opacity="0.78"/>
<circle cx="100.8" cy="457.8" r="1.4" fill="#9467bd" fill-opacity="0.78"/>
<circle cx="140.5" cy="464.8" r="1.4" fill="#7f7f7f" fill-opacity="0.78"/>
<circle cx="143.5" cy="459.3" r="1.4" fill="#bcbd22" fill-opacity="0.78"/>
<circle cx="144.8" cy="467.8" r="1.4" fill="#bcbd22" fill-opacity="0.78"/>
<circle cx="154.4" cy="463.1" r="1.4" fill="#bcbd22" fill-opacity="0.78"/>
<circle cx="107.6" cy="462.3" r="1.4" fill="#7f7f7f" fill-opacity="0.78"/>
<circle cx="138.9" cy="467.6" r="1.4" fill="#7f7f7f" fill-opacity="0.78"/>
<circle cx="130.8" cy="467.4" r="1.4" fill="#bcbd22" fill-opacity="0.78"/>
<circle cx="105.7" cy="465.4" r="1.4" fill="#bcbd22" fill-opacity="0.78"/>
<circle cx="122.2" cy="465.5" r="1.4" fill="#9467bd" fill-opacity="0.78"/>
<circle cx="135.1" cy="470.7" r="1.4" fill="#bcbd22" fill-opacity="0.78"/>
<circle cx="107.3" cy="461.8" r="1.4" fill="#8c564b" fill-opacity="0.78"/>
<circle cx="139.3" cy="465.6" r="1.4" fill="#7f7f7f" fill-opacity="0.78"/>
<circle cx="137.2" cy="467.1" r="1.4" fill="#7f7f7f" fill-opacity="0.78"/>
<circle cx="108.0" cy="459.8" r="1.4" fill="#bcbd22" fill-opacity="0.78"/>
<circle cx="92.4" cy="455.1" r="1.4" fill="#bcbd22" fill-opacity="0.78"/>
<circle cx="119.4" cy="464.5" r="1.4" fill="#17becf" fill-opacity="0.78"/>
<circle cx="141.7" cy="462.7" r="1.4" fill="#7f7f7f" fill-opacity="0.78"/>
<circle cx="104.4" cy="470.7" r="1.4" fill="#17becf" fill-opacity="0.78"/>
<circle cx="106.2" cy="465.1" r="1.4" fill="#bcbd22" fill-opacity="0.78"/>
<circle cx="143.2" cy="462.2" r="1.4" fill="#7f7f7f" fill-opacity="0.78"/>
<circle cx="103.1" cy="479.0" r="1.4" fill="#bcbd22" fill-opacity="0.78"/>
<circle cx="119.2" cy="459.2" r="1.4" fill="#bcbd22" fill-opacity="0.78"/>
<circle cx="117.5" cy="454.4" r="1.4" fill="#bcbd22" fill-opacity="0.78"/>
<circle cx="158.2" cy="467.1" r="1.4" fill="#bcbd22" fill-opacity="0.78"/>
<circle cx="117.5" cy="467.4" r="1.4" fill="#e377c2" fill-opacity="0.78"/>
<circle cx="151.9" cy="463.9" r="1.4" fill="#9467bd" fill-opacity="0.78"/>
<circle cx="103.0" cy="474.4" r="1.4" fill="#bcbd22" fill-opacity="0.78"/>
<circle cx="136.5" cy="462.4" r="1.4" fill="#bcbd22" fill-opacity="0.78"/>
<circle cx="116.2" cy="464.4" r="1.4" fill="#bcbd22" fill-opacity="0.78"/>
<circle cx="109.6" cy="468.9" r="1.4" fill="#bcbd22" fill-opacity="0.78"/>
<circle cx="156.9" cy="476.1" r="1.4" fill="#bcbd22" fill-opacity="0.78"/>
<circle cx="115.0" cy="476.0" r="1.4" fill="#17becf" fill-opacity="0.78"/>
<circle cx="147.5" cy="464.4" r="1.4" fill="#7f7f7f" fill-opacity="0.78"/>
<circle cx="116.1" cy="466.7" r="1.4" fill="#e377c2" fill-opacity="0.78"/>
<circle cx="103.5" cy="458.3" r="1.4" fill="#bcbd22" fill-opacity="0.78"/>
<circle cx="118.8" cy="474.8" r="1.4" fill="#17becf" fill-opacity="0.78"/>
<circle cx="143.7" cy="467.4" r="1.4" fill="#bcbd22" fill-opacity="0.78"/>
<circle cx="154.4" cy="466.4" r="1.4" fill="#bcbd22" fill-opacity="0.78"/>
<circle cx="142.3" cy="470.0" r="1.4" fill="#bcbd22" fill-opacity="0.78"/>
<circle cx="157.0" cy="463.0" r="1.4" fill="#7f7f7f" fill-opacity="0.78"/>
<circle cx="108.4" cy="465.0" r="1.4" fill="#bcbd22" fill-opacity="0.78"/>
<circle cx="90.3" cy="461.3" r="1.4" fill="#17becf" fill-opacity="0.78"/>
<circle cx="154.2" cy="457.2" r="1.4" fill="#bcbd22" fill-opacity="0.78"/>
<circle cx="106.4" cy="456.2" r="1.4" fill="#7f7f7f" fill-opacity="0.78"/>
<circle cx="157.0" cy="471.2" r="1.4" fill="#bcbd22" fill-opacity="0.78"/>
<circle cx="120.1" cy="464.4" r="1.4" fill="#7f7f7f" fill-opacity="0.78"/>
<circle cx="155.0" cy="470.1" r="1.4" fill="#17becf" fill-opacity="0.78"/>
<circle cx="147.6" cy="475.0" r="1.4" fill="#17becf" fill-opacity="0.78"/>
<circle cx="132.5" cy="463.7" r="1.4" fill="#bcbd22" fill-opacity="0.78"/>
<circle cx="144.8" cy="470.3" r="1.4" fill="#bcbd22" fill-opacity="0.78"/>
<circle cx="103.8" cy="466.1" r="1.4" fill="#bcbd22" fill-opacity="0.78"/>
<circle cx="92.4" cy="461.9" r="1.4" fill="#7f7f7f" fill-opacity="0.78"/>
<circle cx="112.8" cy="477.3" r="1.4" fill="#8c564b" fill-opacity="0.78"/>
<circle cx="108.5" cy="464.6" r="1.4" fill="#bcbd22" fill-opacity="0.78"/>
<circle cx="96.7" cy="457.3" r="1.4" fill="#7f7f7f" fill-opacity="0.78"/>
<circle cx="106.4" cy="466.1" r="1.4" fill="#bcbd22" fill-opacity="0.78"/>
<circle cx="133.4" cy="461.8" r="1.4" fill="#17becf" fill-opacity="0.78"/>
<circle cx="136.5" cy="457.9" r="1.4" fill="#bcbd22" fill-opacity="0.78"/>
<circle cx="148.9" cy="464.1" r="1.4" fill="#bcbd22" fill-opacity="0.78"/>
<circle cx="141.7" cy="472.8" r="1.4" fill="#bcbd22" fill-opacity="0.78"/>
<circle cx="107.3" cy="466.1" r="1.4" fill="#e377c2" fill-opacity="0.78"/>
<circle cx="130.5" cy="469.2" r="1.4" fill="#bcbd22" fill-opacity="0.78"/>
<circle cx="117.7" cy="472.5" r="1.4" fill="#bcbd22" fill-opacity="0.78"/>
<circle cx="146.6" cy="465.7" r="1.4" fill="#7f7f7f" fill-opacity="0.78"/>
<circle cx="159.4" cy="471.0" r="1.4" fill="#17becf" fill-opacity="0.78"/>
<circle cx="148.8" cy="469.7" r="1.4" fill="#e377c2" fill-opacity="0.78"/>
<circle cx="92.8" cy="465.2" r="1.4" fill="#bcbd22" fill-opacity="0.78"/>
<circle cx="158.1" cy="468.7" r="1.4" fill="#7f7f7f" fill-opacity="0.78"/>
<circle cx="155.1" cy="458.3" r="1.4" fill="#7f7f7f" fill-opacity="0.78"/>
<circle cx="108.2" cy="473.9" r="1.4" fill="#17becf" fill-opacity="0.78"/>
<circle cx="156.2" cy="471.8" r="1.4" fill="#7f7f7f" fill-opacity="0.78"/>
<circle cx="105.2" cy="470.6" r="1.4" fill="#bcbd22" fill-opacity="0.78"/>
<circle cx="99.9" cy="467.2" r="1.4" fill="#7f7f7f" fill-opacity="0.78"/>
<circle cx="135.6" cy="470.0" r="1.4" fill="#bcbd22" fill-opacity="0.78"/>
<circle cx="90.8" cy="462.1" r="1.4" fill="#bcbd22" fill-opacity="0.78"/>
<circle cx="111.9" cy="473.3" r="1.4" fill="#bcbd22" fill-opacity="0.78"/>
<circle cx="145.7" cy="464.1" r="1.4" fill="#bcbd22" fill-opacity="0.78"/>
<circle cx="117.7" cy="465.4" r="1.4" fill="#7f7f7f" fill-opacity="0.78"/>
<circle cx="134.7" cy="468.8" r="1.4" fill="#17becf" fill-opacity="0.78"/>
<circle cx="118.7" cy="467.8" r="1.4" fill="#bcbd22" fill-opacity="0.78"/>
<circle cx="111.5" cy="470.6" r="1.4" fill="#7f7f7f" fill-opacity="0.78"/>
<circle cx="115.0" cy="464.6" r="1.4" fill="#bcbd22" fill-opacity="0.78"/>
<circle cx="150.5" cy="471.2" r="1.4" fill="#bcbd22" fill-opacity="0.78"/>
<circle cx="141.0" cy="465.9" r="1.4" fill="#bcbd22" fill-opacity="0.78"/>
<circle cx="90.4" cy="470.7" r="1.4" fill="#17becf" fill-opacity="0.78"/>
<circle cx="118.4" cy="462.7" r="1.4" fill="#e377c2" fill-opacity="0.78"/>
<circle cx="122.3" cy="466.5" r="1.4" fill="#7f7f7f" fill-opacity="0.78"/>
<circle cx="134.8" cy="466.8" r="1.4" fill="#e377c2" fill-opacity="0.78"/>
<circle cx="96.2" cy="462.2" r="1.4" fill="#7f7f7f" fill-opacity="0.78"/>
<circle cx="100.2" cy="462.3" r="1.4" fill="#bcbd22" fill-opacity="0.78"/>
<circle cx="126.5" cy="468.4" r="1.4" fill="#7f7f7f" fill-opacity="0.78"/>
<circle cx="146.3" cy="464.8" r="1.4" fill="#8c564b" fill-opacity="0.78"/>
<circle cx="103.8" cy="475.2" r="1.4" fill="#8c564b" fill-opacity="0.78"/>
<circle cx="123.8" cy="475.4" r="1.4" fill="#bcbd22" fill-opacity="0.78"/>
<circle cx="154.8" cy="456.9" r="1.4" fill="#7f7f7f" fill-opacity="0.78"/>
<circle cx="147.7" cy="473.7" r="1.4" fill="#bcbd22" fill-opacity="0.78"/>
<circle cx="145.0" cy="467.0" r="1.4" fill="#17becf" fill-opacity="0.78"/>
<circle cx="148.0" cy="471.5" r="1.4" fill="#bcbd22" fill-opacity="0.78"/>
<circle cx="105.3" cy="460.6" r="1.4" fill="#bcbd22" fill-opacity="0.78"/>
<circle cx="98.6" cy="469.9" r="1.4" fill="#bcbd22" fill-opacity="0.78"/>
<circle cx="140.7" cy="467.3" r="1.4" fill="#7f7f7f" fill-opacity="0.78"/>
<circle cx="143.0" cy="465.0" r="1.4" fill="#bcbd22" fill-opacity="0.78"/>
<circle cx="148.7" cy="471.5" r="1.4" fill="#7f7f7f" fill-opacity="0.78"/>
<circle cx="133.9" cy="471.0" r="1.4" fill="#bcbd22" fill-opacity="0.78"/>
<circle cx="119.4" cy="461.0" r="1.4" fill="#7f7f7f" fill-opacity="0.78"/>
<circle cx="121.3" cy="463.1" r="1.4" fill="#7f7f7f" fill-opacity="0.78"/>
<circle cx="91.6" cy="461.3" r="1.4" fill="#bcbd22" fill-opacity="0.78"/>
<circle cx="143.4" cy="461.7" r="1.4" fill="#17becf" fill-opacity="0.78"/>
<circle cx="122.1" cy="468.7" r="1.4" fill="#bcbd22" fill-opacity="0.78"/>
<circle cx="99.0" cy="471.6" r="1.4" fill="#7f7f7f" fill-opacity="0.78"/>
<circle cx="96.4" cy="459.9" r="1.4" fill="#bcbd22" fill-opacity="0.78"/>
<circle cx="134.6" cy="468.3" r="1.4" fill="#bcbd22" fill-opacity="0.78"/>
<circle cx="141.3" cy="467.1" r="1.4" fill="#bcbd22" fill-opacity="0.78"/>
<circle cx="125.3" cy="459.5" r="1.4" fill="#bcbd22" fill-opacity="0.78"/>
<circle cx="156.6" cy="473.1" r="1.4" fill="#d62728" fill-opacity="0.78"/>
<circle cx="141.2" cy="474.2" r="1.4" fill="#17becf" fill-opacity="0.78"/>
<circle cx="103.6" cy="472.4" r="1.4" fill="#9467bd" fill-opacity="0.78"/>
<circle cx="154.1" cy="465.3" r="1.4" fill="#bcbd22" fill-opacity="0.78"/>
<circle cx="145.2" cy="467.8" r="1.4" fill="#bcbd22" fill-opacity="0.78"/>
<circle cx="142.9" cy="465.1" r="1.4" fill="#bcbd22" fill-opacity="0.78"/>
<circle cx="152.8" cy="464.4" r="1.4" fill="#bcbd22" fill-opacity="0.78"/>
<circle cx="125.2" cy="476.0" r="1.4" fill="#e377c2" fill-opacity="0.78"/>
<circle cx="104.6" cy="465.5" r="1.4" fill="#bcbd22" fill-opacity="0.78"/>
<circle cx="92.6" cy="472.5" r="1.4" fill="#bcbd22" fill-opacity="0.78"/>
<circle cx="101.3" cy="473.6" r="1.4" fill="#e377c2" fill-opacity="0.78"/>
<circle cx="101.8" cy="462.8" r="1.4" fill="#17becf" fill-opacity="0.78"/>
<circle cx="98.1" cy="458.3" r="1.4" fill="#bcbd22" fill-opacity="0.78"/>
<circle cx="151.1" cy="464.5" r="1.4" fill="#7f7f7f" fill-opacity="0.78"/>
<circle cx="130.6" cy="467.9" r="1.4" fill="#d62728" fill-opacity="0.78"/>
<circle cx="134.1" cy="464.3" r="1.4" fill="#bcbd22" fill-opacity="0.78"/>
<circle cx="145.8" cy="464.4" r="1.4" fill="#7f7f7f" fill-opacity="0.78"/>
<circle cx="115.2" cy="482.7" r="1.4" fill="#17becf" fill-opacity="0.78"/>
<circle cx="121.0" cy="470.0" r="1.4" fill="#bcbd22" fill-opacity="0.78"/>
<circle cx="147.4" cy="474.1" r="1.4" fill="#bcbd22" fill-opacity="0.78"/>
<circle cx="134.7" cy="473.3" r="1.4" fill="#17becf" fill-opacity="0.78"/>
<circle cx="111.9" cy="465.3" r="1.4" fill="#bcbd22" fill-opacity="0.78"/>
<circle cx="92.4" cy="470.5" r="1.4" fill="#7f7f7f" fill-opacity="0.78"/>
<circle cx="125.9" cy="472.1" r="1.4" fill="#e377c2" fill-opacity="0.78"/>
<circle cx="99.2" cy="467.1" r="1.4" fill="#bcbd22" fill-opacity="0.78"/>
<circle cx="90.2" cy="473.9" r="1.4" fill="#bcbd22" fill-opacity="0.78"/>
<circle cx="97.4" cy="463.6" r="1.4" fill="#7f7f7f" fill-opacity="0.78"/>
<circle cx="131.2" cy="469.1" r="1.4" fill="#bcbd22" fill-opacity="0.78"/>
<circle cx="133.7" cy="463.1" r="1.4" fill="#9467bd" fill-opacity="0.78"/>
<circle cx="107.1" cy="466.5" r="1.4" fill="#bcbd22" fill-opacity="0.78"/>
<circle cx="96.7" cy="458.8" r="1.4" fill="#17becf" fill-opacity="0.78"/>
<circle cx="118.1" cy="457.5" r="1.4" fill="#bcbd22" fill-opacity="0.78"/>
<circle cx="90.8" cy="461.7" r="1.4" fill="#bcbd22" fill-opacity="0.78"/>
<circle cx="135.2" cy="460.4" r="1.4" fill="#7f7f7f" fill-opacity="0.78"/>
<circle cx="155.6" cy="465.6" r="1.4" fill="#e377c2" fill-opacity="0.78"/>
<circle cx="93.1" cy="461.9" r="1.4" fill="#7f7f7f" fill-opacity="0.78"/>
<circle cx="118.4" cy="466.1" r="1.4" fill="#17becf" fill-opacity="0.78"/>
<circle cx="90.9" cy="467.9" r="1.4" fill="#7f7f7f" fill-opacity="0.78"/>
<circle cx="155.9" cy="468.3" r="1.4" fill="#7f7f7f" fill-opacity="0.78"/>
<circle cx="125.5" cy="468.9" r="1.4" fill="#7f7f7f" fill-opacity="0.78"/>
<circle cx="146.9" cy="468.2" r="1.4" fill="#bcbd22" fill-opacity="0.78"/>
<circle cx="93.4" cy="470.2" r="1.4" fill="#e377c2" fill-opacity="0.78"/>
<circle cx="144.8" cy="465.9" r="1.4" fill="#17becf" fill-opacity="0.78"/>
<circle cx="142.2" cy="465.4" r="1.4" fill="#7f7f7f" fill-opacity="0.78"/>
<circle cx="141.9" cy="462.2" r="1.4" fill="#bcbd22" fill-opacity="0.78"/>
<circle cx="106.3" cy="467.2" r="1.4" fill="#bcbd22" fill-opacity="0.78"/>
<circle cx="113.5" cy="466.0" r="1.4" fill="#17becf" fill-opacity="0.78"/>
<circle cx="139.8" cy="457.5" r="1.4" fill="#bcbd22" fill-opacity="0.78"/>
<circle cx="128.8" cy="457.1" r="1.4" fill="#7f7f7f" fill-opacity="0.78"/>
<circle cx="108.6" cy="469.8" r="1.4" fill="#7f7f7f" fill-opacity="0.78"/>
<circle cx="157.6" cy="468.3" r="1.4" fill="#bcbd22" fill-opacity="0.78"/>
<circle cx="108.2" cy="477.1" r="1.4" fill="#bcbd22" fill-opacity="0.78"/>
<circle cx="142.1" cy="474.6" r="1.4" fill="#bcbd22" fill-opacity="0.78"/>
<circle cx="151.6" cy="462.9" r="1.4" fill="#bcbd22" fill-opacity="0.78"/>
<circle cx="106.7" cy="472.5" r="1.4" fill="#17becf" fill-opacity="0.78"/>
<circle cx="136.6" cy="461.7" r="1.4" fill="#8c564b" fill-opacity="0.78"/>
<circle cx="122.9" cy="470.5" r="1.4" fill="#17becf" fill-opacity="0.78"/>
<circle cx="120.6" cy="458.8" r="1.4" fill="#17becf" fill-opacity="0.78"/>
<circle cx="129.9" cy="464.7" r="1.4" fill="#7f7f7f" fill-opacity="0.78"/>
<circle cx="95.4" cy="469.5" r="1.4" fill="#e377c2" fill-opacity="0.78"/>
<circle cx="100.1" cy="468.6" r="1.4" fill="#9467bd" fill-opacity="0.78"/>
<circle cx="114.1" cy="466.4" r="1.4" fill="#bcbd22" fill-opacity="0.78"/>
<circle cx="92.0" cy="474.2" r="1.4" fill="#7f7f7f" fill-opacity="0.78"/>
<circle cx="138.8" cy="468.2" r="1.4" fill="#17becf" fill-opacity="0.78"/>
<circle cx="94.6" cy="461.6" r="1.4" fill="#17becf" fill-opacity="0.78"/>
<circle cx="147.4" cy="463.2" r="1.4" fill="#e377c2" fill-opacity="0.78"/>
<circle cx="94.6" cy="474.2" r="1.4" fill="#9467bd" fill-opacity="0.78"/>
<circle cx="97.5" cy="457.0" r="1.4" fill="#bcbd22" fill-opacity="0.78"/>
<circle cx="97.8" cy="476.4" r="1.4" fill="#17becf" fill-opacity="0.78"/>
<circle cx="134.4" cy="468.3" r="1.4" fill="#17becf" fill-opacity="0.78"/>
<circle cx="134.2" cy="465.4" r="1.4" fill="#bcbd22" fill-opacity="0.78"/>
<circle cx="143.0" cy="468.5" r="1.4" fill="#bcbd22" fill-opacity="0.78"/>
<circle cx="112.3" cy="465.0" r="1.4" fill="#bcbd22" fill-opacity="0.78"/>
<circle cx="109.8" cy="466.5" r="1.4" fill="#17becf" fill-opacity="0.78"/>
<circle cx="115.8" cy="459.9" r="1.4" fill="#7f7f7f" fill-opacity="0.78"/>
<circle cx="149.6" cy="478.8" r="1.4" fill="#7f7f7f" fill-opacity="0.78"/>
<circle cx="92.2" cy="461.0" r="1.4" fill="#17becf" fill-opacity="0.78"/>
<circle cx="114.3" cy="469.1" r="1.4" fill="#17becf" fill-opacity="0.78"/>
<circle cx="127.7" cy="468.3" r="1.4" fill="#bcbd22" fill-opacity="0.78"/>
<circle cx="147.4" cy="476.7" r="1.4" fill="#bcbd22" fill-opacity="0.78"/>
<circle cx="90.1" cy="468.8" r="1.4" fill="#8c564b" fill-opacity="0.78"/>
<circle cx="90.3" cy="474.9" r="1.4" fill="#7f7f7f" fill-opacity="0.78"/>
<circle cx="124.4" cy="467.0" r="1.4" fill="#7f7f7f" fill-opacity="0.78"/>
<circle cx="114.3" cy="462.6" r="1.4" fill="#17becf" fill-opacity="0.78"/>
<circle cx="108.2" cy="470.2" r="1.4" fill="#bcbd22" fill-opacity="0.78"/>
<circle cx="139.0" cy="464.4" r="1.4" fill="#7f7f7f" fill-opacity="0.78"/>
<circle cx="97.7" cy="464.5" r="1.4" fill="#17becf" fill-opacity="0.78"/>
<circle cx="138.8" cy="464.3" r="1.4" fill="#17becf" fill-opacity="0.78"/>
<circle cx="134.0" cy="462.6" r="1.4" fill="#bcbd22" fill-opacity="0.78"/>
<circle cx="152.3" cy="470.4" r="1.4" fill="#bcbd22" fill-opacity="0.78"/>
<circle cx="152.2" cy="469.7" r="1.4" fill="#bcbd22" fill-opacity="0.78"/>
<circle cx="153.1" cy="466.6" r="1.4" fill="#7f7f7f" fill-opacity="0.78"/>
<circle cx="116.6" cy="469.0" r="1.4" fill="#7f7f7f" fill-opacity="0.78"/>
<circle cx="127.2" cy="463.3" r="1.4" fill="#17becf" fill-opacity="0.78"/>
<circle cx="142.7" cy="462.9" r="1.4" fill="#bcbd22" fill-opacity="0.78"/>
<circle cx="100.9" cy="462.0" r="1.4" fill="#17becf" fill-opacity="0.78"/>
<circle cx="136.3" cy="465.8" r="1.4" fill="#7f7f7f" fill-opacity="0.78"/>
<circle cx="144.1" cy="462.7" r="1.4" fill="#7f7f7f" fill-opacity="0.78"/>
<circle cx="98.8" cy="454.9" r="1.4" fill="#bcbd22" fill-opacity="0.78"/>
<circle cx="103.4" cy="468.7" r="1.4" fill="#bcbd22" fill-opacity="0.78"/>
<circle cx="139.2" cy="467.8" r="1.4" fill="#bcbd22" fill-opacity="0.78"/>
<circle cx="107.3" cy="463.3" r="1.4" fill="#bcbd22" fill-opacity="0.78"/>
<circle cx="126.6" cy="468.6" r="1.4" fill="#bcbd22" fill-opacity="0.78"/>
<circle cx="158.3" cy="470.2" r="1.4" fill="#17becf" fill-opacity="0.78"/>
<circle cx="97.1" cy="468.5" r="1.4" fill="#bcbd22" fill-opacity="0.78"/>
<circle cx="158.9" cy="465.4" r="1.4" fill="#17becf" fill-opacity="0.78"/>
<circle cx="141.3" cy="462.7" r="1.4" fill="#7f7f7f" fill-opacity="0.78"/>
<circle cx="97.5" cy="467.4" r="1.4" fill="#bcbd22" fill-opacity="0.78"/>
<circle cx="117.2" cy="471.4" r="1.4" fill="#17becf" fill-opacity="0.78"/>
<circle cx="138.5" cy="467.2" r="1.4" fill="#7f7f7f" fill-opacity="0.78"/>
<circle cx="134.3" cy="463.0" r="1.4" fill="#7f7f7f" fill-opacity="0.78"/>
<circle cx="118.3" cy="466.7" r="1.4" fill="#17becf" fill-opacity="0.78"/>
<circle cx="153.6" cy="459.5" r="1.4" fill="#17becf" fill-opacity="0.78"/>
<circle cx="119.5" cy="469.1" r="1.4" fill="#bcbd22" fill-opacity="0.78"/>
<circle cx="140.6" cy="472.9" r="1.4" fill="#17becf" fill-opacity="0.78"/>
<circle cx="149.7" cy="459.5" r="1.4" fill="#17becf" fill-opacity="0.78"/>
<circle cx="134.9" cy="461.4" r="1.4" fill="#7f7f7f" fill-opacity="0.78"/>
<circle cx="96.9" cy="467.4" r="1.4" fill="#bcbd22" fill-opacity="0.78"/>
<circle cx="144.8" cy="464.2" r="1.4" fill="#bcbd22" fill-opacity="0.78"/>
<circle cx="119.7" cy="458.5" r="1.4" fill="#7f7f7f" fill-opacity="0.78"/>
<circle cx="133.5" cy="459.1" r="1.4" fill="#9467bd" fill-opacity="0.78"/>
<circle cx="102.8" cy="470.4" r="1.4" fill="#7f7f7f" fill-opacity="0.78"/>
<circle cx="144.5" cy="461.1" r="1.4" fill="#8c564b" fill-opacity="0.78"/>
<circle cx="92.7" cy="470.1" r="1.4" fill="#7f7f7f" fill-opacity="0.78"/>
<circle cx="101.3" cy="468.6" r="1.4" fill="#7f7f7f" fill-opacity="0.78"/>
<circle cx="97.1" cy="453.2" r="1.4" fill="#7f7f7f" fill-opacity="0.78"/>
<circle cx="127.9" cy="464.7" r="1.4" fill="#7f7f7f" fill-opacity="0.78"/>
<circle cx="148.0" cy="459.5" r="1.4" fill="#7f7f7f" fill-opacity="0.78"/>
<circle cx="118.7" cy="469.6" r="1.4" fill="#17becf" fill-opacity="0.78"/>
<circle cx="117.5" cy="464.8" r="1.4" fill="#17becf" fill-opacity="0.78"/>
<circle cx="98.6" cy="471.1" r="1.4" fill="#bcbd22" fill-opacity="0.78"/>
<circle cx="109.2" cy="465.5" r="1.4" fill="#bcbd22" fill-opacity="0.78"/>
<circle cx="90.9" cy="461.0" r="1.4" fill="#17becf" fill-opacity="0.78"/>
<circle cx="114.6" cy="468.8" r="1.4" fill="#bcbd22" fill-opacity="0.78"/>
<circle cx="105.7" cy="465.3" r="1.4" fill="#7f7f7f" fill-opacity="0.78"/>
<circle cx="146.1" cy="463.0" r="1.4" fill="#bcbd22" fill-opacity="0.78"/>
<circle cx="144.4" cy="468.4" r="1.4" fill="#17becf" fill-opacity="0.78"/>
<circle cx="134.4" cy="459.1" r="1.4" fill="#bcbd22" fill-opacity="0.78"/>
<circle cx="157.5" cy="467.4" r="1.4" fill="#bcbd22" fill-opacity="0.78"/>
<circle cx="134.7" cy="470.2" r="1.4" fill="#7f7f7f" fill-opacity="0.78"/>
<circle cx="110.6" cy="456.8" r="1.4" fill="#7f7f7f" fill-opacity="0.78"/>
<circle cx="98.8" cy="468.6" r="1.4" fill="#17becf" fill-opacity="0.78"/>
<circle cx="108.7" cy="461.5" r="1.4" fill="#bcbd22" fill-opacity="0.78"/>
<circle cx="107.7" cy="462.8" r="1.4" fill="#bcbd22" fill-opacity="0.78"/>
<circle cx="140.5" cy="467.6" r="1.4" fill="#bcbd22" fill-opacity="0.78"/>
<circle cx="107.1" cy="464.0" r="1.4" fill="#7f7f7f" fill-opacity="0.78"/>
<circle cx="134.6" cy="472.0" r="1.4" fill="#7f7f7f" fill-opacity="0.78"/>
<circle cx="115.4" cy="475.7" r="1.4" fill="#bcbd22" fill-opacity="0.78"/>
<circle cx="148.0" cy="461.3" r="1.4" fill="#e377c2" fill-opacity="0.78"/>
<circle cx="144.9" cy="472.6" r="1.4" fill="#7f7f7f" fill-opacity="0.78"/>
<circle cx="160.9" cy="474.5" r="1.4" fill="#bcbd22" fill-opacity="0.78"/>
<circle cx="217.1" cy="462.3" r="1.4" fill="#bcbd22" fill-opacity="0.78"/>
<circle cx="168.6" cy="460.9" r="1.4" fill="#bcbd22" fill-opacity="0.78"/>
<circle cx="206.6" cy="462.9" r="1.4" fill="#7f7f7f" fill-opacity="0.78"/>
<circle cx="207.5" cy="468.1" r="1.4" fill="#bcbd22" fill-opacity="0.78"/>
<circle cx="213.5" cy="456.2" r="1.4" fill="#17becf" fill-opacity="0.78"/>
<circle cx="213.6" cy="457.9" r="1.4" fill="#17becf" fill-opacity="0.78"/>
<circle cx="210.3" cy="468.2" r="1.4" fill="#17becf" fill-opacity="0.78"/>
<circle cx="204.5" cy="474.4" r="1.4" fill="#bcbd22" fill-opacity="0.78"/>
<circle cx="213.0" cy="460.2" r="1.4" fill="#bcbd22" fill-opacity="0.78"/>
<circle cx="168.4" cy="463.3" r="1.4" fill="#bcbd22" fill-opacity="0.78"/>
<circle cx="163.5" cy="461.4" r="1.4" fill="#bcbd22" fill-opacity="0.78"/>
<circle cx="189.9" cy="465.7" r="1.4" fill="#17becf" fill-opacity="0.78"/>
<circle cx="211.8" cy="477.4" r="1.4" fill="#bcbd22" fill-opacity="0.78"/>
<circle cx="193.8" cy="465.5" r="1.4" fill="#17becf" fill-opacity="0.78"/>
<circle cx="210.4" cy="460.2" r="1.4" fill="#e377c2" fill-opacity="0.78"/>
<circle cx="164.5" cy="469.8" r="1.4" fill="#17becf" fill-opacity="0.78"/>
<circle cx="198.2" cy="473.8" r="1.4" fill="#17becf" fill-opacity="0.78"/>
<circle cx="215.9" cy="466.6" r="1.4" fill="#bcbd22" fill-opacity="0.78"/>
<circle cx="218.9" cy="457.5" r="1.4" fill="#7f7f7f" fill-opacity="0.78"/>
<circle cx="162.0" cy="464.5" r="1.4" fill="#17becf" fill-opacity="0.78"/>
<circle cx="197.5" cy="458.2" r="1.4" fill="#bcbd22" fill-opacity="0.78"/>
<circle cx="188.5" cy="476.0" r="1.4" fill="#17becf" fill-opacity="0.78"/>
<circle cx="206.2" cy="466.7" r="1.4" fill="#bcbd22" fill-opacity="0.78"/>
<circle cx="193.2" cy="471.7" r="1.4" fill="#17becf" fill-opacity="0.78"/>
<circle cx="177.6" cy="468.1" r="1.4" fill="#17becf" fill-opacity="0.78"/>
<circle cx="176.3" cy="459.2" r="1.4" fill="#17becf" fill-opacity="0.78"/>
<circle cx="218.5" cy="458.5" r="1.4" fill="#bcbd22" fill-opacity="0.78"/>
<circle cx="179.0" cy="455.5" r="1.4" fill="#bcbd22" fill-opacity="0.78"/>
<circle cx="195.2" cy="457.5" r="1.4" fill="#bcbd22" fill-opacity="0.78"/>
<circle cx="203.4" cy="456.5" r="1.4" fill="#7f7f7f" fill-opacity="0.78"/>
<circle cx="192.7" cy="470.2" r="1.4" fill="#bcbd22" fill-opacity="0.78"/>
<circle cx="171.4" cy="466.7" r="1.4" fill="#7f7f7f" fill-opacity="0.78"/>
<circle cx="196.5" cy="458.7" r="1.4" fill="#7f7f7f" fill-opacity="0.78"/>
<circle cx="196.7" cy="455.4" r="1.4" fill="#17becf" fill-opacity="0.78"/>
<circle cx="197.6" cy="462.1" r="1.4" fill="#17becf" fill-opacity="0.78"/>
<circle cx="172.8" cy="456.7" r="1.4" fill="#17becf" fill-opacity="0.78"/>
<circle cx="187.5" cy="465.2" r="1.4" fill="#bcbd22" fill-opacity="0.78"/>
<circle cx="162.2" cy="462.0" r="1.4" fill="#17becf" fill-opacity="0.78"/>
<circle cx="214.8" cy="461.5" r="1.4" fill="#17becf" fill-opacity="0.78"/>
<circle cx="207.2" cy="459.8" r="1.4" fill="#17becf" fill-opacity="0.78"/>
<circle cx="175.5" cy="462.8" r="1.4" fill="#bcbd22" fill-opacity="0.78"/>
<circle cx="185.8" cy="471.4" r="1.4" fill="#17becf" fill-opacity="0.78"/>
<circle cx="216.0" cy="472.9" r="1.4" fill="#bcbd22" fill-opacity="0.78"/>
<circle cx="167.1" cy="467.8" r="1.4" fill="#17becf" fill-opacity="0.78"/>
<circle cx="194.5" cy="471.2" r="1.4" fill="#bcbd22" fill-opacity="0.78"/>
<circle cx="183.2" cy="461.5" r="1.4" fill="#17becf" fill-opacity="0.78"/>
<circle cx="216.3" cy="472.3" r="1.4" fill="#bcbd22" fill-opacity="0.78"/>
<circle cx="166.1" cy="464.1" r="1.4" fill="#17becf" fill-opacity="0.78"/>
<circle cx="172.7" cy="465.7" r="1.4" fill="#bcbd22" fill-opacity="0.78"/>
<circle cx="201.0" cy="465.9" r="1.4" fill="#bcbd22" fill-opacity="0.78"/>
<circle cx="218.0" cy="476.2" r="1.4" fill="#bcbd22" fill-opacity="0.78"/>
<circle cx="161.1" cy="471.9" r="1.4" fill="#17becf" fill-opacity="0.78"/>
<circle cx="174.5" cy="464.6" r="1.4" fill="#bcbd22" fill-opacity="0.78"/>
<circle cx="206.4" cy="460.8" r="1.4" fill="#17becf" fill-opacity="0.78"/>
<circle cx="211.3" cy="464.7" r="1.4" fill="#17becf" fill-opacity="0.78"/>
<circle cx="202.6" cy="462.3" r="1.4" fill="#bcbd22" fill-opacity="0.78"/>
<circle cx="215.9" cy="464.6" r="1.4" fill="#17becf" fill-opacity="0.78"/>
<circle cx="160.7" cy="481.8" r="1.4" fill="#bcbd22" fill-opacity="0.78"/>
<circle cx="199.0" cy="466.1" r="1.4" fill="#bcbd22" fill-opacity="0.78"/>
<circle cx="203.8" cy="462.6" r="1.4" fill="#bcbd22" fill-opacity="0.78"/>
<circle cx="211.7" cy="462.7" r="1.4" fill="#bcbd22" fill-opacity="0.78"/>
<circle cx="194.5" cy="465.2" r="1.4" fill="#bcbd22" fill-opacity="0.78"/>
<circle cx="200.6" cy="472.1" r="1.4" fill="#bcbd22" fill-opacity="0.78"/>
<circle cx="198.7" cy="474.2" r="1.4" fill="#17becf" fill-opacity="0.78"/>
<circle cx="185.1" cy="456.4" r="1.4" fill="#7f7f7f" fill-opacity="0.78"/>
<circle cx="207.1" cy="472.5" r="1.4" fill="#17becf" fill-opacity="0.78"/>
<circle cx="177.5" cy="481.3" r="1.4" fill="#17becf" fill-opacity="0.78"/>
<circle cx="209.6" cy="471.5" r="1.4" fill="#bcbd22" fill-opacity="0.78"/>
<circle cx="196.3" cy="477.1" r="1.4" fill="#17becf" fill-opacity="0.78"/>
<circle cx="178.5" cy="463.3" r="1.4" fill="#bcbd22" fill-opacity="0.78"/>
<circle cx="213.3" cy="457.9" r="1.4" fill="#17becf" fill-opacity="0.78"/>
<circle cx="213.8" cy="471.9" r="1.4" fill="#17becf" fill-opacity="0.78"/>
<circle cx="177.0" cy="470.1" r="1.4" fill="#bcbd22" fill-opacity="0.78"/>
<circle cx="195.2" cy="465.1" r="1.4" fill="#17becf" fill-opacity="0.78"/>
<circle cx="213.2" cy="476.9" r="1.4" fill="#17becf" fill-opacity="0.78"/>
<circle cx="212.0" cy="468.2" r="1.4" fill="#17becf" fill-opacity="0.78"/>
<circle cx="176.4" cy="472.0" r="1.4" fill="#17becf" fill-opacity="0.78"/>
<circle cx="214.8" cy="455.5" r="1.4" fill="#bcbd22" fill-opacity="0.78"/>
<circle cx="165.1" cy="454.0" r="1.4" fill="#bcbd22" fill-opacity="0.78"/>
<circle cx="205.0" cy="461.2" r="1.4" fill="#7f7f7f" fill-opacity="0.78"/>
<circle cx="174.0" cy="457.3" r="1.4" fill="#bcbd22" fill-opacity="0.78"/>
<circle cx="172.4" cy="458.9" r="1.4" fill="#bcbd22" fill-opacity="0.78"/>
<circle cx="205.1" cy="466.9" r="1.4" fill="#bcbd22" fill-opacity="0.78"/>
<circle cx="208.4" cy="458.0" r="1.4" fill="#17becf" fill-opacity="0.78"/>
<circle cx="174.0" cy="452.8" r="1.4" fill="#7f7f7f" fill-opacity="0.78"/>
<circle cx="191.3" cy="458.4" r="1.4" fill="#bcbd22" fill-opacity="0.78"/>
<circle cx="195.4" cy="466.6" r="1.4" fill="#bcbd22" fill-opacity="0.78"/>
<circle cx="202.1" cy="468.9" r="1.4" fill="#bcbd22" fill-opacity="0.78"/>
<circle cx="193.9" cy="458.6" r="1.4" fill="#bcbd22" fill-opacity="0.78"/>
<circle cx="162.7" cy="469.5" r="1.4" fill="#8c564b" fill-opacity="0.78"/>
<circle cx="182.4" cy="472.2" r="1.4" fill="#17becf" fill-opacity="0.78"/>
<circle cx="169.4" cy="470.7" r="1.4" fill="#17becf" fill-opacity="0.78"/>
<circle cx="180.7" cy="463.7" r="1.4" fill="#bcbd22" fill-opacity="0.78"/>
<circle cx="219.4" cy="464.8" r="1.4" fill="#17becf" fill-opacity="0.78"/>
<circle cx="189.2" cy="460.4" r="1.4" fill="#17becf" fill-opacity="0.78"/>
<circle cx="185.6" cy="462.9" r="1.4" fill="#7f7f7f" fill-opacity="0.78"/>
<circle cx="206.0" cy="472.0" r="1.4" fill="#bcbd22" fill-opacity="0.78"/>
<circle cx="172.1" cy="466.1" r="1.4" fill="#bcbd22" fill-opacity="0.78"/>
<circle cx="193.4" cy="467.5" r="1.4" fill="#17becf" fill-opacity="0.78"/>
<circle cx="187.5" cy="478.5" r="1.4" fill="#bcbd22" fill-opacity="0.78"/>
<circle cx="195.9" cy="460.4" r="1.4" fill="#bcbd22" fill-opacity="0.78"/>
<circle cx="167.2" cy="469.8" r="1.4" fill="#17becf" fill-opacity="0.78"/>
<circle cx="198.4" cy="463.7" r="1.4" fill="#7f7f7f" fill-opacity="0.78"/>
<circle cx="200.2" cy="459.4" r="1.4" fill="#bcbd22" fill-opacity="0.78"/>
<circle cx="217.9" cy="469.4" r="1.4" fill="#8c564b" fill-opacity="0.78"/>
<circle cx="173.3" cy="469.9" r="1.4" fill="#bcbd22" fill-opacity="0.78"/>
<circle cx="214.2" cy="466.2" r="1.4" fill="#7f7f7f" fill-opacity="0.78"/>
<circle cx="210.2" cy="475.9" r="1.4" fill="#17becf" fill-opacity="0.78"/>
<circle cx="198.8" cy="468.3" r="1.4" fill="#8c564b" fill-opacity="0.78"/>
<circle cx="163.3" cy="471.7" r="1.4" fill="#7f7f7f" fill-opacity="0.78"/>
<circle cx="200.6" cy="473.6" r="1.4" fill="#bcbd22" fill-opacity="0.78"/>
<circle cx="195.5" cy="465.2" r="1.4" fill="#bcbd22" fill-opacity="0.78"/>
<circle cx="175.4" cy="461.9" r="1.4" fill="#bcbd22" fill-opacity="0.78"/>
<circle cx="188.9" cy="467.3" r="1.4" fill="#bcbd22" fill-opacity="0.78"/>
<circle cx="200.7" cy="469.2" r="1.4" fill="#bcbd22" fill-opacity="0.78"/>
<circle cx="203.0" cy="465.6" r="1.4" fill="#7f7f7f" fill-opacity="0.78"/>
<circle cx="173.2" cy="466.7" r="1.4" fill="#7f7f7f" fill-opacity="0.78"/>
<circle cx="212.0" cy="467.7" r="1.4" fill="#bcbd22" fill-opacity="0.78"/>
<circle cx="165.8" cy="462.7" r="1.4" fill="#7f7f7f" fill-opacity="0.78"/>
<circle cx="210.5" cy="460.1" r="1.4" fill="#bcbd22" fill-opacity="0.78"/>
<circle cx="209.4" cy="459.9" r="1.4" fill="#bcbd22" fill-opacity="0.78"/>
<circle cx="197.7" cy="467.9" r="1.4" fill="#bcbd22" fill-opacity="0.78"/>
<circle cx="202.8" cy="468.6" r="1.4" fill="#17becf" fill-opacity="0.78"/>
<circle cx="168.7" cy="468.5" r="1.4" fill="#bcbd22" fill-opacity="0.78"/>
<circle cx="169.3" cy="461.3" r="1.4" fill="#bcbd22" fill-opacity="0.78"/>
<circle cx="210.4" cy="463.0" r="1.4" fill="#bcbd22" fill-opacity="0.78"/>
<circle cx="179.1" cy="468.4" r="1.4" fill="#7f7f7f" fill-opacity="0.78"/>
<circle cx="166.9" cy="467.2" r="1.4" fill="#7f7f7f" fill-opacity="0.78"/>
<circle cx="200.1" cy="464.7" r="1.4" fill="#bcbd22" fill-opacity="0.78"/>
<circle cx="188.6" cy="463.9" r="1.4" fill="#bcbd22" fill-opacity="0.78"/>
<circle cx="181.9" cy="469.9" r="1.4" fill="#8c564b" fill-opacity="0.78"/>
<circle cx="219.9" cy="467.6" r="1.4" fill="#bcbd22" fill-opacity="0.78"/>
<circle cx="213.8" cy="463.7" r="1.4" fill="#bcbd22" fill-opacity="0.78"/>
<circle cx="203.6" cy="460.1" r="1.4" fill="#bcbd22" fill-opacity="0.78"/>
<circle cx="208.4" cy="482.4" r="1.4" fill="#bcbd22" fill-opacity="0.78"/>
<circle cx="168.4" cy="477.3" r="1.4" fill="#17becf" fill-opacity="0.78"/>
<circle cx="171.1" cy="465.1" r="1.4" fill="#bcbd22" fill-opacity="0.78"/>
<circle cx="214.7" cy="466.7" r="1.4" fill="#bcbd22" fill-opacity="0.78"/>
<circle cx="170.8" cy="473.3" r="1.4" fill="#17becf" fill-opacity="0.78"/>
<circle cx="202.7" cy="465.9" r="1.4" fill="#bcbd22" fill-opacity="0.78"/>
<circle cx="196.5" cy="467.5" r="1.4" fill="#bcbd22" fill-opacity="0.78"/>
<circle cx="176.4" cy="467.4" r="1.4" fill="#17becf" fill-opacity="0.78"/>
<circle cx="208.7" cy="473.6" r="1.4" fill="#17becf" fill-opacity="0.78"/>
<circle cx="172.1" cy="474.7" r="1.4" fill="#bcbd22" fill-opacity="0.78"/>
<circle cx="203.3" cy="469.2" r="1.4" fill="#bcbd22" fill-opacity="0.78"/>
<circle cx="208.6" cy="458.6" r="1.4" fill="#17becf" fill-opacity="0.78"/>
<circle cx="189.6" cy="475.7" r="1.4" fill="#bcbd22" fill-opacity="0.78"/>
<circle cx="214.6" cy="452.0" r="1.4" fill="#bcbd22" fill-opacity="0.78"/>
<circle cx="171.2" cy="466.9" r="1.4" fill="#17becf" fill-opacity="0.78"/>
<circle cx="182.0" cy="468.2" r="1.4" fill="#17becf" fill-opacity="0.78"/>
<circle cx="160.3" cy="470.4" r="1.4" fill="#17becf" fill-opacity="0.78"/>
<circle cx="186.7" cy="461.7" r="1.4" fill="#17becf" fill-opacity="0.78"/>
<circle cx="209.0" cy="464.7" r="1.4" fill="#17becf" fill-opacity="0.78"/>
<circle cx="179.3" cy="463.5" r="1.4" fill="#17becf" fill-opacity="0.78"/>
<circle cx="163.7" cy="458.8" r="1.4" fill="#17becf" fill-opacity="0.78"/>
<circle cx="217.2" cy="457.2" r="1.4" fill="#17becf" fill-opacity="0.78"/>
<circle cx="192.2" cy="465.3" r="1.4" fill="#bcbd22" fill-opacity="0.78"/>
<circle cx="218.0" cy="465.7" r="1.4" fill="#bcbd22" fill-opacity="0.78"/>
<circle cx="175.0" cy="469.1" r="1.4" fill="#17becf" fill-opacity="0.78"/>
<circle cx="161.8" cy="473.3" r="1.4" fill="#bcbd22" fill-opacity="0.78"/>
<circle cx="161.1" cy="470.7" r="1.4" fill="#17becf" fill-opacity="0.78"/>
<circle cx="194.6" cy="455.0" r="1.4" fill="#bcbd22" fill-opacity="0.78"/>
<circle cx="212.2" cy="463.5" r="1.4" fill="#17becf" fill-opacity="0.78"/>
<circle cx="162.7" cy="470.4" r="1.4" fill="#17becf" fill-opacity="0.78"/>
<circle cx="176.8" cy="470.3" r="1.4" fill="#bcbd22" fill-opacity="0.78"/>
<circle cx="184.3" cy="470.7" r="1.4" fill="#17becf" fill-opacity="0.78"/>
<circle cx="168.8" cy="471.6" r="1.4" fill="#17becf" fill-opacity="0.78"/>
<circle cx="204.8" cy="471.2" r="1.4" fill="#7f7f7f" fill-opacity="0.78"/>
<circle cx="183.3" cy="475.4" r="1.4" fill="#bcbd22" fill-opacity="0.78"/>
<circle cx="210.4" cy="458.6" r="1.4" fill="#7f7f7f" fill-opacity="0.78"/>
<circle cx="206.6" cy="464.0" r="1.4" fill="#bcbd22" fill-opacity="0.78"/>
<circle cx="174.4" cy="461.5" r="1.4" fill="#8c564b" fill-opacity="0.78"/>
<circle cx="208.3" cy="471.0" r="1.4" fill="#7f7f7f" fill-opacity="0.78"/>
<circle cx="208.9" cy="466.2" r="1.4" fill="#17becf" fill-opacity="0.78"/>
<circle cx="217.5" cy="463.2" r="1.4" fill="#7f7f7f" fill-opacity="0.78"/>
<circle cx="175.0" cy="456.9" r="1.4" fill="#bcbd22" fill-opacity="0.78"/>
<circle cx="191.8" cy="469.3" r="1.4" fill="#bcbd22" fill-opacity="0.78"/>
<circle cx="186.0" cy="463.7" r="1.4" fill="#bcbd22" fill-opacity="0.78"/>
<circle cx="218.2" cy="465.0" r="1.4" fill="#17becf" fill-opacity="0.78"/>
<circle cx="216.2" cy="457.1" r="1.4" fill="#7f7f7f" fill-opacity="0.78"/>
<circle cx="213.1" cy="456.2" r="1.4" fill="#bcbd22" fill-opacity="0.78"/>
<circle cx="198.5" cy="464.0" r="1.4" fill="#bcbd22" fill-opacity="0.78"/>
<circle cx="192.5" cy="474.7" r="1.4" fill="#7f7f7f" fill-opacity="0.78"/>
<circle cx="197.3" cy="465.0" r="1.4" fill="#bcbd22" fill-opacity="0.78"/>
<circle cx="217.1" cy="472.9" r="1.4" fill="#bcbd22" fill-opacity="0.78"/>
<circle cx="178.3" cy="463.0" r="1.4" fill="#17becf" fill-opacity="0.78"/>
<circle cx="217.4" cy="462.4" r="1.4" fill="#17becf" fill-opacity="0.78"/>
<circle cx="176.1" cy="457.1" r="1.4" fill="#bcbd22" fill-opacity="0.78"/>
<circle cx="167.4" cy="466.7" r="1.4" fill="#bcbd22" fill-opacity="0.78"/>
<circle cx="177.6" cy="460.5" r="1.4" fill="#bcbd22" fill-opacity="0.78"/>
<circle cx="165.3" cy="468.0" r="1.4" fill="#17becf" fill-opacity="0.78"/>
<circle cx="210.4" cy="458.5" r="1.4" fill="#17becf" fill-opacity="0.78"/>
<circle cx="172.1" cy="459.6" r="1.4" fill="#17becf" fill-opacity="0.78"/>
<circle cx="187.7" cy="456.5" r="1.4" fill="#bcbd22" fill-opacity="0.78"/>
<circle cx="178.6" cy="462.3" r="1.4" fill="#bcbd22" fill-opacity="0.78"/>
<circle cx="173.3" cy="458.6" r="1.4" fill="#17becf" fill-opacity="0.78"/>
<circle cx="160.7" cy="464.5" r="1.4" fill="#bcbd22" fill-opacity="0.78"/>
<circle cx="211.7" cy="465.6" r="1.4" fill="#bcbd22" fill-opacity="0.78"/>
<circle cx="177.1" cy="473.3" r="1.4" fill="#8c564b" fill-opacity="0.78"/>
<circle cx="177.7" cy="465.5" r="1.4" fill="#bcbd22" fill-opacity="0.78"/>
<circle cx="212.3" cy="461.2" r="1.4" fill="#bcbd22" fill-opacity="0.78"/>
<circle cx="163.7" cy="459.7" r="1.4" fill="#17becf" fill-opacity="0.78"/>
<circle cx="166.6" cy="469.5" r="1.4" fill="#bcbd22" fill-opacity="0.78"/>
<circle cx="217.6" cy="464.7" r="1.4" fill="#bcbd22" fill-opacity="0.78"/>
<circle cx="181.1" cy="461.2" r="1.4" fill="#17becf" fill-opacity="0.78"/>
<circle cx="197.0" cy="472.1" r="1.4" fill="#17becf" fill-opacity="0.78"/>
<circle cx="204.3" cy="455.2" r="1.4" fill="#17becf" fill-opacity="0.78"/>
<circle cx="205.6" cy="453.7" r="1.4" fill="#17becf" fill-opacity="0.78"/>
<circle cx="214.9" cy="466.8" r="1.4" fill="#bcbd22" fill-opacity="0.78"/>
<circle cx="212.2" cy="476.1" r="1.4" fill="#17becf" fill-opacity="0.78"/>
<circle cx="189.9" cy="465.3" r="1.4" fill="#e377c2" fill-opacity="0.78"/>
<circle cx="194.3" cy="455.1" r="1.4" fill="#17becf" fill-opacity="0.78"/>
<circle cx="196.4" cy="470.6" r="1.4" fill="#bcbd22" fill-opacity="0.78"/>
<circle cx="187.1" cy="454.9" r="1.4" fill="#bcbd22" fill-opacity="0.78"/>
<circle cx="183.4" cy="467.7" r="1.4" fill="#17becf" fill-opacity="0.78"/>
<circle cx="183.1" cy="460.0" r="1.4" fill="#17becf" fill-opacity="0.78"/>
<circle cx="190.0" cy="475.3" r="1.4" fill="#bcbd22" fill-opacity="0.78"/>
<circle cx="171.1" cy="463.8" r="1.4" fill="#17becf" fill-opacity="0.78"/>
<circle cx="194.9" cy="468.4" r="1.4" fill="#bcbd22" fill-opacity="0.78"/>
<circle cx="215.2" cy="459.4" r="1.4" fill="#17becf" fill-opacity="0.78"/>
<circle cx="217.5" cy="476.2" r="1.4" fill="#bcbd22" fill-opacity="0.78"/>
<circle cx="185.6" cy="465.8" r="1.4" fill="#bcbd22" fill-opacity="0.78"/>
<circle cx="193.9" cy="464.5" r="1.4" fill="#bcbd22" fill-opacity="0.78"/>
<circle cx="215.2" cy="466.2" r="1.4" fill="#8c564b" fill-opacity="0.78"/>
<circle cx="191.0" cy="457.0" r="1.4" fill="#17becf" fill-opacity="0.78"/>
<circle cx="201.1" cy="460.3" r="1.4" fill="#17becf" fill-opacity="0.78"/>
<circle cx="181.1" cy="468.9" r="1.4" fill="#7f7f7f" fill-opacity="0.78"/>
<circle cx="200.6" cy="462.1" r="1.4" fill="#bcbd22" fill-opacity="0.78"/>
<circle cx="184.1" cy="464.5" r="1.4" fill="#17becf" fill-opacity="0.78"/>
<circle cx="194.4" cy="477.2" r="1.4" fill="#bcbd22" fill-opacity="0.78"/>
<circle cx="186.4" cy="453.5" r="1.4" fill="#17becf" fill-opacity="0.78"/>
<circle cx="219.8" cy="460.6" r="1.4" fill="#17becf" fill-opacity="0.78"/>
<circle cx="170.2" cy="471.7" r="1.4" fill="#bcbd22" fill-opacity="0.78"/>
<circle cx="218.7" cy="468.6" r="1.4" fill="#bcbd22" fill-opacity="0.78"/>
<circle cx="213.7" cy="458.1" r="1.4" fill="#17becf" fill-opacity="0.78"/>
<circle cx="209.2" cy="478.6" r="1.4" fill="#bcbd22" fill-opacity="0.78"/>
<circle cx="169.4" cy="464.2" r="1.4" fill="#bcbd22" fill-opacity="0.78"/>
<circle cx="190.7" cy="460.8" r="1.4" fill="#bcbd22" fill-opacity="0.78"/>
<circle cx="197.8" cy="464.9" r="1.4" fill="#17becf" fill-opacity="0.78"/>
<circle cx="181.2" cy="474.2" r="1.4" fill="#bcbd22" fill-opacity="0.78"/>
<circle cx="184.7" cy="464.6" r="1.4" fill="#17becf" fill-opacity="0.78"/>
<circle cx="178.4" cy="464.8" r="1.4" fill="#bcbd22" fill-opacity="0.78"/>
<circle cx="210.5" cy="464.5" r="1.4" fill="#17becf" fill-opacity="0.78"/>
<circle cx="200.1" cy="467.5" r="1.4" fill="#17becf" fill-opacity="0.78"/>
<circle cx="176.0" cy="472.2" r="1.4" fill="#17becf" fill-opacity="0.78"/>
<circle cx="191.9" cy="473.5" r="1.4" fill="#bcbd22" fill-opacity="0.78"/>
<circle cx="167.3" cy="464.8" r="1.4" fill="#bcbd22" fill-opacity="0.78"/>
<circle cx="205.6" cy="467.3" r="1.4" fill="#bcbd22" fill-opacity="0.78"/>
<circle cx="191.3" cy="466.9" r="1.4" fill="#17becf" fill-opacity="0.78"/>
<circle cx="196.8" cy="465.8" r="1.4" fill="#bcbd22" fill-opacity="0.78"/>
<circle cx="206.2" cy="462.8" r="1.4" fill="#bcbd22" fill-opacity="0.78"/>
<circle cx="202.9" cy="462.6" r="1.4" fill="#bcbd22" fill-opacity="0.78"/>
<circle cx="166.0" cy="468.1" r="1.4" fill="#7f7f7f" fill-opacity="0.78"/>
<circle cx="194.9" cy="460.9" r="1.4" fill="#bcbd22" fill-opacity="0.78"/>
<circle cx="163.3" cy="470.8" r="1.4" fill="#7f7f7f" fill-opacity="0.78"/>
<circle cx="195.0" cy="471.8" r="1.4" fill="#17becf" fill-opacity="0.78"/>
<circle cx="175.0" cy="463.2" r="1.4" fill="#bcbd22" fill-opacity="0.78"/>
<circle cx="215.8" cy="468.5" r="1.4" fill="#7f7f7f" fill-opacity="0.78"/>
<circle cx="209.0" cy="460.5" r="1.4" fill="#bcbd22" fill-opacity="0.78"/>
<circle cx="196.2" cy="472.4" r="1.4" fill="#7f7f7f" fill-opacity="0.78"/>
<circle cx="174.6" cy="463.1" r="1.4" fill="#bcbd22" fill-opacity="0.78"/>
<circle cx="203.1" cy="466.0" r="1.4" fill="#17becf" fill-opacity="0.78"/>
<circle cx="189.1" cy="470.5" r="1.4" fill="#17becf" fill-opacity="0.78"/>
<circle cx="174.6" cy="467.8" r="1.4" fill="#bcbd22" fill-opacity="0.78"/>
<circle cx="218.3" cy="470.4" r="1.4" fill="#bcbd22" fill-opacity="0.78"/>
<circle cx="193.7" cy="471.0" r="1.4" fill="#bcbd22" fill-opacity="0.78"/>
<circle cx="184.2" cy="470.3" r="1.4" fill="#bcbd22" fill-opacity="0.78"/>
<circle cx="167.4" cy="467.8" r="1.4" fill="#bcbd22" fill-opacity="0.78"/>
<circle cx="171.5" cy="459.6" r="1.4" fill="#bcbd22" fill-opacity="0.78"/>
<circle cx="174.2" cy="474.4" r="1.4" fill="#bcbd22" fill-opacity="0.78"/>
<circle cx="169.4" cy="467.1" r="1.4" fill="#17becf" fill-opacity="0.78"/>
<circle cx="165.6" cy="463.5" r="1.4" fill="#bcbd22" fill-opacity="0.78"/>
<circle cx="186.6" cy="477.2" r="1.4" fill="#17becf" fill-opacity="0.78"/>
<circle cx="208.3" cy="468.3" r="1.4" fill="#17becf" fill-opacity="0.78"/>
<circle cx="182.6" cy="470.1" r="1.4" fill="#7f7f7f" fill-opacity="0.78"/>
<circle cx="172.5" cy="472.3" r="1.4" fill="#bcbd22" fill-opacity="0.78"/>
<circle cx="187.2" cy="462.7" r="1.4" fill="#bcbd22" fill-opacity="0.78"/>
<circle cx="202.4" cy="464.1" r="1.4" fill="#17becf" fill-opacity="0.78"/>
<circle cx="182.1" cy="478.9" r="1.4" fill="#bcbd22" fill-opacity="0.78"/>
<circle cx="196.5" cy="468.1" r="1.4" fill="#bcbd22" fill-opacity="0.78"/>
<circle cx="190.8" cy="477.8" r="1.4" fill="#17becf" fill-opacity="0.78"/>
<circle cx="176.2" cy="465.9" r="1.4" fill="#17becf" fill-opacity="0.78"/>
<circle cx="194.1" cy="458.7" r="1.4" fill="#bcbd22" fill-opacity="0.78"/>
<circle cx="183.4" cy="468.5" r="1.4" fill="#17becf" fill-opacity="0.78"/>
<circle cx="179.3" cy="467.1" r="1.4" fill="#17becf" fill-opacity="0.78"/>
<circle cx="166.5" cy="459.3" r="1.4" fill="#17becf" fill-opacity="0.78"/>
<circle cx="177.8" cy="462.7" r="1.4" fill="#bcbd22" fill-opacity="0.78"/>
<circle cx="178.7" cy="465.5" r="1.4" fill="#17becf" fill-opacity="0.78"/>
<circle cx="176.9" cy="468.3" r="1.4" fill="#bcbd22" fill-opacity="0.78"/>
<circle cx="258.4" cy="469.4" r="1.4" fill="#17becf" fill-opacity="0.78"/>
<circle cx="227.3" cy="451.7" r="1.4" fill="#bcbd22" fill-opacity="0.78"/>
<circle cx="223.2" cy="462.3" r="1.4" fill="#bcbd22" fill-opacity="0.78"/>
<circle cx="238.5" cy="457.0" r="1.4" fill="#17becf" fill-opacity="0.78"/>
<circle cx="250.0" cy="467.1" r="1.4" fill="#bcbd22" fill-opacity="0.78"/>
<circle cx="247.2" cy="481.5" r="1.4" fill="#bcbd22" fill-opacity="0.78"/>
<circle cx="226.6" cy="477.4" r="1.4" fill="#17becf" fill-opacity="0.78"/>
<circle cx="223.6" cy="460.6" r="1.4" fill="#bcbd22" fill-opacity="0.78"/>
<circle cx="228.5" cy="469.0" r="1.4" fill="#bcbd22" fill-opacity="0.78"/>
<circle cx="223.6" cy="473.0" r="1.4" fill="#bcbd22" fill-opacity="0.78"/>
<circle cx="247.5" cy="473.1" r="1.4" fill="#17becf" fill-opacity="0.78"/>
<circle cx="250.7" cy="480.0" r="1.4" fill="#bcbd22" fill-opacity="0.78"/>
<circle cx="239.4" cy="464.2" r="1.4" fill="#bcbd22" fill-opacity="0.78"/>
<circle cx="255.4" cy="460.6" r="1.4" fill="#17becf" fill-opacity="0.78"/>
<circle cx="233.5" cy="481.2" r="1.4" fill="#17becf" fill-opacity="0.78"/>
<circle cx="223.9" cy="470.9" r="1.4" fill="#bcbd22" fill-opacity="0.78"/>
<circle cx="226.4" cy="468.3" r="1.4" fill="#7f7f7f" fill-opacity="0.78"/>
<circle cx="252.0" cy="462.0" r="1.4" fill="#bcbd22" fill-opacity="0.78"/>
<circle cx="249.8" cy="457.2" r="1.4" fill="#17becf" fill-opacity="0.78"/>
<circle cx="233.2" cy="474.7" r="1.4" fill="#bcbd22" fill-opacity="0.78"/>
<circle cx="259.9" cy="451.6" r="1.4" fill="#17becf" fill-opacity="0.78"/>
<circle cx="251.5" cy="475.0" r="1.4" fill="#17becf" fill-opacity="0.78"/>
<circle cx="247.1" cy="464.6" r="1.4" fill="#17becf" fill-opacity="0.78"/>
<circle cx="239.1" cy="467.7" r="1.4" fill="#17becf" fill-opacity="0.78"/>
<circle cx="259.1" cy="475.8" r="1.4" fill="#bcbd22" fill-opacity="0.78"/>
<circle cx="250.1" cy="476.1" r="1.4" fill="#17becf" fill-opacity="0.78"/>
<circle cx="247.5" cy="461.3" r="1.4" fill="#17becf" fill-opacity="0.78"/>
<circle cx="232.0" cy="473.6" r="1.4" fill="#bcbd22" fill-opacity="0.78"/>
<circle cx="230.1" cy="469.6" r="1.4" fill="#bcbd22" fill-opacity="0.78"/>
<circle cx="227.5" cy="464.0" r="1.4" fill="#bcbd22" fill-opacity="0.78"/>
<circle cx="231.7" cy="456.2" r="1.4" fill="#17becf" fill-opacity="0.78"/>
<circle cx="239.8" cy="473.4" r="1.4" fill="#bcbd22" fill-opacity="0.78"/>
<circle cx="257.4" cy="464.3" r="1.4" fill="#bcbd22" fill-opacity="0.78"/>
<circle cx="244.5" cy="460.1" r="1.4" fill="#17becf" fill-opacity="0.78"/>
<circle cx="252.4" cy="478.9" r="1.4" fill="#bcbd22" fill-opacity="0.78"/>
<circle cx="248.7" cy="460.2" r="1.4" fill="#17becf" fill-opacity="0.78"/>
<circle cx="255.2" cy="462.2" r="1.4" fill="#bcbd22" fill-opacity="0.78"/>
<circle cx="233.6" cy="463.7" r="1.4" fill="#bcbd22" fill-opacity="0.78"/>
<circle cx="233.2" cy="470.9" r="1.4" fill="#bcbd22" fill-opacity="0.78"/>
<circle cx="250.1" cy="463.5" r="1.4" fill="#bcbd22" fill-opacity="0.78"/>
<circle cx="240.7" cy="468.2" r="1.4" fill="#bcbd22" fill-opacity="0.78"/>
<circle cx="228.7" cy="468.0" r="1.4" fill="#7f7f7f" fill-opacity="0.78"/>
<circle cx="252.0" cy="467.5" r="1.4" fill="#bcbd22" fill-opacity="0.78"/>
<circle cx="250.7" cy="476.6" r="1.4" fill="#bcbd22" fill-opacity="0.78"/>
<circle cx="241.6" cy="465.8" r="1.4" fill="#bcbd22" fill-opacity="0.78"/>
<circle cx="229.6" cy="466.1" r="1.4" fill="#7f7f7f" fill-opacity="0.78"/>
<circle cx="247.8" cy="466.7" r="1.4" fill="#17becf" fill-opacity="0.78"/>
<circle cx="259.4" cy="463.7" r="1.4" fill="#bcbd22" fill-opacity="0.78"/>
<circle cx="227.5" cy="462.3" r="1.4" fill="#bcbd22" fill-opacity="0.78"/>
<circle cx="253.0" cy="470.4" r="1.4" fill="#bcbd22" fill-opacity="0.78"/>
<circle cx="247.5" cy="461.7" r="1.4" fill="#17becf" fill-opacity="0.78"/>
<circle cx="259.1" cy="473.4" r="1.4" fill="#17becf" fill-opacity="0.78"/>
<circle cx="251.7" cy="478.5" r="1.4" fill="#bcbd22" fill-opacity="0.78"/>
<circle cx="229.4" cy="470.0" r="1.4" fill="#bcbd22" fill-opacity="0.78"/>
<circle cx="244.0" cy="461.1" r="1.4" fill="#bcbd22" fill-opacity="0.78"/>
<circle cx="269.4" cy="453.8" r="1.4" fill="#17becf" fill-opacity="0.78"/>
<circle cx="271.3" cy="456.1" r="1.4" fill="#17becf" fill-opacity="0.78"/>
<circle cx="272.6" cy="456.9" r="1.4" fill="#17becf" fill-opacity="0.78"/>
<circle cx="287.9" cy="451.0" r="1.4" fill="#17becf" fill-opacity="0.78"/>
<circle cx="287.9" cy="453.8" r="1.4" fill="#17becf" fill-opacity="0.78"/>
<circle cx="305.2" cy="451.0" r="1.4" fill="#17becf" fill-opacity="0.78"/>
<circle cx="288.6" cy="462.8" r="1.4" fill="#17becf" fill-opacity="0.78"/>
<circle cx="302.1" cy="464.1" r="1.4" fill="#17becf" fill-opacity="0.78"/>
<circle cx="312.7" cy="459.4" r="1.4" fill="#17becf" fill-opacity="0.78"/>
<circle cx="261.3" cy="468.2" r="1.4" fill="#17becf" fill-opacity="0.78"/>
<circle cx="260.6" cy="474.5" r="1.4" fill="#17becf" fill-opacity="0.78"/>
<circle cx="269.4" cy="468.2" r="1.4" fill="#17becf" fill-opacity="0.78"/>
<circle cx="269.0" cy="471.4" r="1.4" fill="#17becf" fill-opacity="0.78"/>
<circle cx="269.8" cy="473.9" r="1.4" fill="#17becf" fill-opacity="0.78"/>
<circle cx="275.1" cy="470.7" r="1.4" fill="#17becf" fill-opacity="0.78"/>
<circle cx="267.5" cy="478.3" r="1.4" fill="#17becf" fill-opacity="0.78"/>
<circle cx="266.9" cy="479.5" r="1.4" fill="#17becf" fill-opacity="0.78"/>
<circle cx="272.3" cy="479.2" r="1.4" fill="#17becf" fill-opacity="0.78"/>
<circle cx="285.7" cy="467.6" r="1.4" fill="#17becf" fill-opacity="0.78"/>
<circle cx="286.4" cy="470.7" r="1.4" fill="#17becf" fill-opacity="0.78"/>
<circle cx="288.3" cy="475.1" r="1.4" fill="#17becf" fill-opacity="0.78"/>
<circle cx="292.0" cy="471.4" r="1.4" fill="#17becf" fill-opacity="0.78"/>
<circle cx="293.9" cy="471.6" r="1.4" fill="#17becf" fill-opacity="0.78"/>
<circle cx="294.9" cy="475.4" r="1.4" fill="#17becf" fill-opacity="0.78"/>
<circle cx="301.4" cy="468.2" r="1.4" fill="#17becf" fill-opacity="0.78"/>
<circle cx="301.4" cy="474.1" r="1.4" fill="#17becf" fill-opacity="0.78"/>
<circle cx="302.1" cy="478.3" r="1.4" fill="#17becf" fill-opacity="0.78"/>
<circle cx="312.7" cy="479.9" r="1.4" fill="#17becf" fill-opacity="0.78"/>
<circle cx="322.8" cy="471.4" r="1.4" fill="#17becf" fill-opacity="0.78"/>
<circle cx="324.7" cy="472.0" r="1.4" fill="#17becf" fill-opacity="0.78"/>
<circle cx="323.4" cy="476.4" r="1.4" fill="#17becf" fill-opacity="0.78"/>
<circle cx="331.6" cy="474.5" r="1.4" fill="#17becf" fill-opacity="0.78"/>
<circle cx="331.3" cy="478.3" r="1.4" fill="#17becf" fill-opacity="0.78"/>
<circle cx="333.5" cy="466.4" r="1.4" fill="#17becf" fill-opacity="0.78"/>
<circle cx="276.3" cy="488.3" r="1.4" fill="#17becf" fill-opacity="0.78"/>
<circle cx="281.6" cy="486.2" r="1.4" fill="#17becf" fill-opacity="0.78"/>
<circle cx="285.7" cy="481.7" r="1.4" fill="#17becf" fill-opacity="0.78"/>
<circle cx="289.9" cy="478.9" r="1.4" fill="#17becf" fill-opacity="0.78"/>
<circle cx="289.9" cy="485.4" r="1.4" fill="#17becf" fill-opacity="0.78"/>
<circle cx="269.4" cy="492.5" r="1.4" fill="#17becf" fill-opacity="0.78"/>
<circle cx="327.2" cy="487.1" r="1.4" fill="#17becf" fill-opacity="0.78"/>
<circle cx="296.4" cy="473.9" r="1.4" fill="#17becf" fill-opacity="0.78"/>
<circle cx="276.3" cy="454.0" r="1.4" fill="#bcbd22" fill-opacity="0.78"/>
<circle cx="268.8" cy="465.1" r="1.4" fill="#bcbd22" fill-opacity="0.78"/>
<circle cx="272.3" cy="464.8" r="1.4" fill="#bcbd22" fill-opacity="0.78"/>
<circle cx="263.1" cy="468.6" r="1.4" fill="#bcbd22" fill-opacity="0.78"/>
<circle cx="272.6" cy="470.7" r="1.4" fill="#bcbd22" fill-opacity="0.78"/>
<circle cx="272.6" cy="473.3" r="1.4" fill="#bcbd22" fill-opacity="0.78"/>
<circle cx="276.3" cy="475.1" r="1.4" fill="#bcbd22" fill-opacity="0.78"/>
<circle cx="278.8" cy="472.0" r="1.4" fill="#bcbd22" fill-opacity="0.78"/>
<circle cx="279.8" cy="473.9" r="1.4" fill="#bcbd22" fill-opacity="0.78"/>
<circle cx="284.5" cy="471.4" r="1.4" fill="#bcbd22" fill-opacity="0.78"/>
<circle cx="284.5" cy="475.8" r="1.4" fill="#bcbd22" fill-opacity="0.78"/>
<circle cx="286.1" cy="474.5" r="1.4" fill="#bcbd22" fill-opacity="0.78"/>
<circle cx="287.0" cy="463.8" r="1.4" fill="#bcbd22" fill-opacity="0.78"/>
<circle cx="285.7" cy="465.7" r="1.4" fill="#bcbd22" fill-opacity="0.78"/>
<circle cx="290.8" cy="474.1" r="1.4" fill="#bcbd22" fill-opacity="0.78"/>
<circle cx="295.2" cy="471.4" r="1.4" fill="#bcbd22" fill-opacity="0.78"/>
<circle cx="297.7" cy="470.7" r="1.4" fill="#bcbd22" fill-opacity="0.78"/>
<circle cx="296.4" cy="473.9" r="1.4" fill="#bcbd22" fill-opacity="0.78"/>
<circle cx="301.4" cy="471.4" r="1.4" fill="#bcbd22" fill-opacity="0.78"/>
<circle cx="304.6" cy="460.7" r="1.4" fill="#bcbd22" fill-opacity="0.78"/>
<circle cx="303.3" cy="463.8" r="1.4" fill="#bcbd22" fill-opacity="0.78"/>
<circle cx="307.7" cy="470.7" r="1.4" fill="#bcbd22" fill-opacity="0.78"/>
<circle cx="312.7" cy="472.4" r="1.4" fill="#bcbd22" fill-opacity="0.78"/>
<circle cx="304.6" cy="477.7" r="1.4" fill="#bcbd22" fill-opacity="0.78"/>
<circle cx="312.7" cy="482.7" r="1.4" fill="#bcbd22" fill-opacity="0.78"/>
<circle cx="322.2" cy="463.8" r="1.4" fill="#bcbd22" fill-opacity="0.78"/>
<circle cx="325.3" cy="460.7" r="1.4" fill="#bcbd22" fill-opacity="0.78"/>
<circle cx="325.9" cy="465.7" r="1.4" fill="#bcbd22" fill-opacity="0.78"/>
<circle cx="321.5" cy="468.9" r="1.4" fill="#bcbd22" fill-opacity="0.78"/>
<circle cx="322.8" cy="473.3" r="1.4" fill="#bcbd22" fill-opacity="0.78"/>
<circle cx="320.3" cy="477.0" r="1.4" fill="#bcbd22" fill-opacity="0.78"/>
<circle cx="320.9" cy="478.7" r="1.4" fill="#bcbd22" fill-opacity="0.78"/>
<circle cx="326.6" cy="476.4" r="1.4" fill="#bcbd22" fill-opacity="0.78"/>
<circle cx="329.1" cy="476.1" r="1.4" fill="#bcbd22" fill-opacity="0.78"/>
<circle cx="336.6" cy="463.8" r="1.4" fill="#bcbd22" fill-opacity="0.78"/>
<circle cx="335.4" cy="465.7" r="1.4" fill="#bcbd22" fill-opacity="0.78"/>
<circle cx="338.5" cy="475.8" r="1.4" fill="#bcbd22" fill-opacity="0.78"/>
<circle cx="273.2" cy="481.4" r="1.4" fill="#bcbd22" fill-opacity="0.78"/>
<circle cx="275.7" cy="479.2" r="1.4" fill="#bcbd22" fill-opacity="0.78"/>
<circle cx="280.1" cy="480.8" r="1.4" fill="#bcbd22" fill-opacity="0.78"/>
<circle cx="287.0" cy="481.4" r="1.4" fill="#bcbd22" fill-opacity="0.78"/>
<circle cx="291.4" cy="480.8" r="1.4" fill="#bcbd22" fill-opacity="0.78"/>
<circle cx="260.6" cy="476.4" r="1.4" fill="#bcbd22" fill-opacity="0.78"/>
<circle cx="261.0" cy="471.4" r="1.4" fill="#bcbd22" fill-opacity="0.78"/>
<circle cx="277.6" cy="455.3" r="1.4" fill="#7f7f7f" fill-opacity="0.78"/>
<circle cx="272.3" cy="467.6" r="1.4" fill="#7f7f7f" fill-opacity="0.78"/>
<circle cx="312.5" cy="463.5" r="1.4" fill="#7f7f7f" fill-opacity="0.78"/>
<circle cx="303.3" cy="476.4" r="1.4" fill="#7f7f7f" fill-opacity="0.78"/>
<circle cx="324.1" cy="470.1" r="1.4" fill="#7f7f7f" fill-opacity="0.78"/>
<circle cx="352.0" cy="449.8" r="1.4" fill="#17becf" fill-opacity="0.78"/>
<circle cx="395.3" cy="451.5" r="1.4" fill="#17becf" fill-opacity="0.78"/>
<circle cx="375.4" cy="455.7" r="1.4" fill="#17becf" fill-opacity="0.78"/>
<circle cx="379.2" cy="456.1" r="1.4" fill="#17becf" fill-opacity="0.78"/>
<circle cx="404.3" cy="456.9" r="1.4" fill="#17becf" fill-opacity="0.78"/>
<circle cx="383.4" cy="461.6" r="1.4" fill="#17becf" fill-opacity="0.78"/>
<circle cx="369.5" cy="462.3" r="1.4" fill="#17becf" fill-opacity="0.78"/>
<circle cx="412.9" cy="460.7" r="1.4" fill="#17becf" fill-opacity="0.78"/>
<circle cx="408.5" cy="460.7" r="1.4" fill="#17becf" fill-opacity="0.78"/>
<circle cx="409.1" cy="463.2" r="1.4" fill="#17becf" fill-opacity="0.78"/>
<circle cx="351.3" cy="465.7" r="1.4" fill="#17becf" fill-opacity="0.78"/>
<circle cx="352.6" cy="468.9" r="1.4" fill="#17becf" fill-opacity="0.78"/>
<circle cx="361.4" cy="470.7" r="1.4" fill="#17becf" fill-opacity="0.78"/>
<circle cx="366.1" cy="465.1" r="1.4" fill="#17becf" fill-opacity="0.78"/>
<circle cx="369.5" cy="471.4" r="1.4" fill="#17becf" fill-opacity="0.78"/>
<circle cx="379.0" cy="463.8" r="1.4" fill="#17becf" fill-opacity="0.78"/>
<circle cx="378.3" cy="466.4" r="1.4" fill="#17becf" fill-opacity="0.78"/>
<circle cx="381.5" cy="470.1" r="1.4" fill="#17becf" fill-opacity="0.78"/>
<circle cx="401.6" cy="465.1" r="1.4" fill="#17becf" fill-opacity="0.78"/>
<circle cx="404.7" cy="466.1" r="1.4" fill="#17becf" fill-opacity="0.78"/>
<circle cx="400.3" cy="468.9" r="1.4" fill="#17becf" fill-opacity="0.78"/>
<circle cx="410.4" cy="467.6" r="1.4" fill="#17becf" fill-opacity="0.78"/>
<circle cx="341.3" cy="477.0" r="1.4" fill="#17becf" fill-opacity="0.78"/>
<circle cx="341.9" cy="480.8" r="1.4" fill="#17becf" fill-opacity="0.78"/>
<circle cx="348.8" cy="477.4" r="1.4" fill="#17becf" fill-opacity="0.78"/>
<circle cx="349.8" cy="481.4" r="1.4" fill="#17becf" fill-opacity="0.78"/>
<circle cx="350.7" cy="478.9" r="1.4" fill="#17becf" fill-opacity="0.78"/>
<circle cx="353.8" cy="474.5" r="1.4" fill="#17becf" fill-opacity="0.78"/>
<circle cx="355.1" cy="477.0" r="1.4" fill="#17becf" fill-opacity="0.78"/>
<circle cx="357.6" cy="476.1" r="1.4" fill="#17becf" fill-opacity="0.78"/>
<circle cx="360.7" cy="478.3" r="1.4" fill="#17becf" fill-opacity="0.78"/>
<circle cx="363.9" cy="479.2" r="1.4" fill="#17becf" fill-opacity="0.78"/>
<circle cx="366.4" cy="479.9" r="1.4" fill="#17becf" fill-opacity="0.78"/>
<circle cx="368.3" cy="480.2" r="1.4" fill="#17becf" fill-opacity="0.78"/>
<circle cx="366.1" cy="475.8" r="1.4" fill="#17becf" fill-opacity="0.78"/>
<circle cx="356.6" cy="480.8" r="1.4" fill="#17becf" fill-opacity="0.78"/>
<circle cx="379.2" cy="477.0" r="1.4" fill="#17becf" fill-opacity="0.78"/>
<circle cx="379.0" cy="482.9" r="1.4" fill="#17becf" fill-opacity="0.78"/>
<circle cx="385.9" cy="481.7" r="1.4" fill="#17becf" fill-opacity="0.78"/>
<circle cx="388.8" cy="474.5" r="1.4" fill="#17becf" fill-opacity="0.78"/>
<circle cx="398.4" cy="475.4" r="1.4" fill="#17becf" fill-opacity="0.78"/>
<circle cx="400.1" cy="478.7" r="1.4" fill="#17becf" fill-opacity="0.78"/>
<circle cx="401.3" cy="482.9" r="1.4" fill="#17becf" fill-opacity="0.78"/>
<circle cx="407.8" cy="474.9" r="1.4" fill="#17becf" fill-opacity="0.78"/>
<circle cx="411.0" cy="474.5" r="1.4" fill="#17becf" fill-opacity="0.78"/>
<circle cx="341.9" cy="469.5" r="1.4" fill="#bcbd22" fill-opacity="0.78"/>
<circle cx="348.8" cy="482.7" r="1.4" fill="#bcbd22" fill-opacity="0.78"/>
<circle cx="352.6" cy="463.8" r="1.4" fill="#bcbd22" fill-opacity="0.78"/>
<circle cx="357.0" cy="464.5" r="1.4" fill="#bcbd22" fill-opacity="0.78"/>
<circle cx="360.7" cy="463.6" r="1.4" fill="#bcbd22" fill-opacity="0.78"/>
<circle cx="360.1" cy="466.4" r="1.4" fill="#bcbd22" fill-opacity="0.78"/>
<circle cx="362.0" cy="467.6" r="1.4" fill="#bcbd22" fill-opacity="0.78"/>
<circle cx="356.4" cy="468.9" r="1.4" fill="#bcbd22" fill-opacity="0.78"/>
<circle cx="358.2" cy="470.1" r="1.4" fill="#bcbd22" fill-opacity="0.78"/>
<circle cx="355.1" cy="472.0" r="1.4" fill="#bcbd22" fill-opacity="0.78"/>
<circle cx="357.0" cy="471.4" r="1.4" fill="#bcbd22" fill-opacity="0.78"/>
<circle cx="353.2" cy="475.8" r="1.4" fill="#bcbd22" fill-opacity="0.78"/>
<circle cx="358.9" cy="475.1" r="1.4" fill="#bcbd22" fill-opacity="0.78"/>
<circle cx="365.1" cy="467.6" r="1.4" fill="#bcbd22" fill-opacity="0.78"/>
<circle cx="367.7" cy="467.0" r="1.4" fill="#bcbd22" fill-opacity="0.78"/>
<circle cx="365.8" cy="473.6" r="1.4" fill="#bcbd22" fill-opacity="0.78"/>
<circle cx="363.3" cy="471.4" r="1.4" fill="#bcbd22" fill-opacity="0.78"/>
<circle cx="379.2" cy="457.6" r="1.4" fill="#bcbd22" fill-opacity="0.78"/>
<circle cx="384.0" cy="459.4" r="1.4" fill="#bcbd22" fill-opacity="0.78"/>
<circle cx="386.5" cy="460.1" r="1.4" fill="#bcbd22" fill-opacity="0.78"/>
<circle cx="389.6" cy="461.3" r="1.4" fill="#bcbd22" fill-opacity="0.78"/>
<circle cx="385.2" cy="465.7" r="1.4" fill="#bcbd22" fill-opacity="0.78"/>
<circle cx="383.4" cy="467.4" r="1.4" fill="#bcbd22" fill-opacity="0.78"/>
<circle cx="379.6" cy="467.0" r="1.4" fill="#bcbd22" fill-opacity="0.78"/>
<circle cx="380.2" cy="471.4" r="1.4" fill="#bcbd22" fill-opacity="0.78"/>
<circle cx="381.5" cy="473.3" r="1.4" fill="#bcbd22" fill-opacity="0.78"/>
<circle cx="378.3" cy="475.1" r="1.4" fill="#bcbd22" fill-opacity="0.78"/>
<circle cx="382.7" cy="477.0" r="1.4" fill="#bcbd22" fill-opacity="0.78"/>
<circle cx="386.2" cy="479.2" r="1.4" fill="#bcbd22" fill-opacity="0.78"/>
<circle cx="399.7" cy="461.1" r="1.4" fill="#bcbd22" fill-opacity="0.78"/>
<circle cx="407.8" cy="450.0" r="1.4" fill="#bcbd22" fill-opacity="0.78"/>
<circle cx="410.4" cy="453.2" r="1.4" fill="#bcbd22" fill-opacity="0.78"/>
<circle cx="411.0" cy="463.8" r="1.4" fill="#bcbd22" fill-opacity="0.78"/>
<circle cx="396.8" cy="466.6" r="1.4" fill="#bcbd22" fill-opacity="0.78"/>
<circle cx="402.8" cy="469.9" r="1.4" fill="#bcbd22" fill-opacity="0.78"/>
<circle cx="409.1" cy="470.1" r="1.4" fill="#bcbd22" fill-opacity="0.78"/>
<circle cx="404.1" cy="473.3" r="1.4" fill="#bcbd22" fill-opacity="0.78"/>
<circle cx="407.8" cy="472.4" r="1.4" fill="#bcbd22" fill-opacity="0.78"/>
<circle cx="376.4" cy="472.0" r="1.4" fill="#7f7f7f" fill-opacity="0.78"/>
<circle cx="379.0" cy="473.3" r="1.4" fill="#7f7f7f" fill-opacity="0.78"/>
<circle cx="378.0" cy="468.2" r="1.4" fill="#e377c2" fill-opacity="0.78"/>
<circle cx="379.2" cy="464.1" r="1.4" fill="#9467bd" fill-opacity="0.78"/>
<circle cx="351.7" cy="486.7" r="1.4" fill="#8c564b" fill-opacity="0.78"/>
<circle cx="416.3" cy="485.2" r="1.4" fill="#17becf" fill-opacity="0.78"/>
<circle cx="421.4" cy="459.6" r="1.4" fill="#17becf" fill-opacity="0.78"/>
<circle cx="422.6" cy="455.1" r="1.4" fill="#17becf" fill-opacity="0.78"/>
<circle cx="426.4" cy="458.1" r="1.4" fill="#17becf" fill-opacity="0.78"/>
<circle cx="430.2" cy="494.0" r="1.4" fill="#17becf" fill-opacity="0.78"/>
<circle cx="425.1" cy="472.7" r="1.4" fill="#17becf" fill-opacity="0.78"/>
<circle cx="433.9" cy="451.3" r="1.4" fill="#17becf" fill-opacity="0.78"/>
<circle cx="437.2" cy="484.0" r="1.4" fill="#17becf" fill-opacity="0.78"/>
<circle cx="438.9" cy="461.4" r="1.4" fill="#17becf" fill-opacity="0.78"/>
<circle cx="441.5" cy="469.6" r="1.4" fill="#17becf" fill-opacity="0.78"/>
<circle cx="440.2" cy="462.1" r="1.4" fill="#17becf" fill-opacity="0.78"/>
<circle cx="446.5" cy="465.9" r="1.4" fill="#17becf" fill-opacity="0.78"/>
<circle cx="447.7" cy="463.4" r="1.4" fill="#17becf" fill-opacity="0.78"/>
<circle cx="450.3" cy="467.6" r="1.4" fill="#17becf" fill-opacity="0.78"/>
<circle cx="452.8" cy="461.4" r="1.4" fill="#17becf" fill-opacity="0.78"/>
<circle cx="454.0" cy="470.2" r="1.4" fill="#17becf" fill-opacity="0.78"/>
<circle cx="455.3" cy="455.1" r="1.4" fill="#17becf" fill-opacity="0.78"/>
<circle cx="454.8" cy="483.2" r="1.4" fill="#17becf" fill-opacity="0.78"/>
<circle cx="456.5" cy="463.9" r="1.4" fill="#17becf" fill-opacity="0.78"/>
<circle cx="457.8" cy="473.9" r="1.4" fill="#17becf" fill-opacity="0.78"/>
<circle cx="460.3" cy="452.1" r="1.4" fill="#17becf" fill-opacity="0.78"/>
<circle cx="464.1" cy="451.3" r="1.4" fill="#17becf" fill-opacity="0.78"/>
<circle cx="462.8" cy="460.1" r="1.4" fill="#17becf" fill-opacity="0.78"/>
<circle cx="466.6" cy="473.9" r="1.4" fill="#17becf" fill-opacity="0.78"/>
<circle cx="467.8" cy="455.1" r="1.4" fill="#17becf" fill-opacity="0.78"/>
<circle cx="468.3" cy="476.4" r="1.4" fill="#17becf" fill-opacity="0.78"/>
<circle cx="470.4" cy="452.6" r="1.4" fill="#17becf" fill-opacity="0.78"/>
<circle cx="474.1" cy="445.0" r="1.4" fill="#17becf" fill-opacity="0.78"/>
<circle cx="474.1" cy="458.8" r="1.4" fill="#17becf" fill-opacity="0.78"/>
<circle cx="475.4" cy="470.2" r="1.4" fill="#17becf" fill-opacity="0.78"/>
<circle cx="477.9" cy="456.3" r="1.4" fill="#17becf" fill-opacity="0.78"/>
<circle cx="479.9" cy="458.8" r="1.4" fill="#17becf" fill-opacity="0.78"/>
<circle cx="480.4" cy="445.0" r="1.4" fill="#17becf" fill-opacity="0.78"/>
<circle cx="481.7" cy="450.1" r="1.4" fill="#17becf" fill-opacity="0.78"/>
<circle cx="480.4" cy="465.1" r="1.4" fill="#17becf" fill-opacity="0.78"/>
<circle cx="482.9" cy="472.7" r="1.4" fill="#17becf" fill-opacity="0.78"/>
<circle cx="489.2" cy="457.6" r="1.4" fill="#17becf" fill-opacity="0.78"/>
<circle cx="490.5" cy="446.3" r="1.4" fill="#17becf" fill-opacity="0.78"/>
<circle cx="496.7" cy="448.0" r="1.4" fill="#17becf" fill-opacity="0.78"/>
<circle cx="501.8" cy="445.0" r="1.4" fill="#17becf" fill-opacity="0.78"/>
<circle cx="503.0" cy="459.6" r="1.4" fill="#17becf" fill-opacity="0.78"/>
<circle cx="505.5" cy="469.6" r="1.4" fill="#17becf" fill-opacity="0.78"/>
<circle cx="491.7" cy="484.7" r="1.4" fill="#17becf" fill-opacity="0.78"/>
<circle cx="520.6" cy="442.5" r="1.4" fill="#17becf" fill-opacity="0.78"/>
<circle cx="520.6" cy="458.8" r="1.4" fill="#17becf" fill-opacity="0.78"/>
<circle cx="533.2" cy="477.7" r="1.4" fill="#17becf" fill-opacity="0.78"/>
<circle cx="539.4" cy="451.3" r="1.4" fill="#17becf" fill-opacity="0.78"/>
<circle cx="417.6" cy="458.1" r="1.4" fill="#bcbd22" fill-opacity="0.78"/>
<circle cx="427.6" cy="475.9" r="1.4" fill="#bcbd22" fill-opacity="0.78"/>
<circle cx="428.9" cy="465.1" r="1.4" fill="#bcbd22" fill-opacity="0.78"/>
<circle cx="432.2" cy="464.6" r="1.4" fill="#bcbd22" fill-opacity="0.78"/>
<circle cx="438.9" cy="476.4" r="1.4" fill="#bcbd22" fill-opacity="0.78"/>
<circle cx="449.0" cy="456.3" r="1.4" fill="#bcbd22" fill-opacity="0.78"/>
<circle cx="451.5" cy="458.8" r="1.4" fill="#bcbd22" fill-opacity="0.78"/>
<circle cx="454.8" cy="464.6" r="1.4" fill="#bcbd22" fill-opacity="0.78"/>
<circle cx="456.5" cy="467.6" r="1.4" fill="#bcbd22" fill-opacity="0.78"/>
<circle cx="457.8" cy="455.1" r="1.4" fill="#bcbd22" fill-opacity="0.78"/>
<circle cx="466.6" cy="462.6" r="1.4" fill="#bcbd22" fill-opacity="0.78"/>
<circle cx="470.4" cy="455.1" r="1.4" fill="#bcbd22" fill-opacity="0.78"/>
<circle cx="470.4" cy="467.6" r="1.4" fill="#bcbd22" fill-opacity="0.78"/>
<circle cx="476.6" cy="458.8" r="1.4" fill="#bcbd22" fill-opacity="0.78"/>
<circle cx="475.4" cy="463.9" r="1.4" fill="#bcbd22" fill-opacity="0.78"/>
<circle cx="477.9" cy="467.6" r="1.4" fill="#bcbd22" fill-opacity="0.78"/>
<circle cx="480.4" cy="459.6" r="1.4" fill="#bcbd22" fill-opacity="0.78"/>
<circle cx="491.7" cy="457.6" r="1.4" fill="#bcbd22" fill-opacity="0.78"/>
<circle cx="508.0" cy="453.8" r="1.4" fill="#bcbd22" fill-opacity="0.78"/>
<circle cx="518.1" cy="452.6" r="1.4" fill="#bcbd22" fill-opacity="0.78"/>
<circle cx="528.1" cy="459.6" r="1.4" fill="#bcbd22" fill-opacity="0.78"/>
<circle cx="531.9" cy="449.5" r="1.4" fill="#bcbd22" fill-opacity="0.78"/>
<circle cx="534.4" cy="446.3" r="1.4" fill="#bcbd22" fill-opacity="0.78"/>
<circle cx="548.2" cy="450.1" r="1.4" fill="#bcbd22" fill-opacity="0.78"/>
<circle cx="547.0" cy="443.8" r="1.4" fill="#bcbd22" fill-opacity="0.78"/>
<circle cx="442.7" cy="465.1" r="1.4" fill="#7f7f7f" fill-opacity="0.78"/>
<circle cx="476.6" cy="465.1" r="1.4" fill="#7f7f7f" fill-opacity="0.78"/>
<circle cx="538.2" cy="452.1" r="1.4" fill="#7f7f7f" fill-opacity="0.78"/>
</g>
<rect x="88.4" y="223.8" width="9.3" height="9.3" fill="#7f7f7f" stroke="#1a1a1a" stroke-width="0.9"/>
<rect x="88.4" y="233.3" width="9.3" height="9.3" fill="#bcbd22" stroke="#1a1a1a" stroke-width="0.9"/>
<rect x="88.4" y="237.8" width="9.3" height="9.3" fill="#bcbd22" stroke="#1a1a1a" stroke-width="0.9"/>
<rect x="88.4" y="241.8" width="9.3" height="9.3" fill="#bcbd22" stroke="#1a1a1a" stroke-width="0.9"/>
<rect x="82.9" y="249.3" width="9.3" height="9.3" fill="#17becf" stroke="#1a1a1a" stroke-width="0.9"/>
<rect x="91.9" y="249.3" width="9.3" height="9.3" fill="#17becf" stroke="#1a1a1a" stroke-width="0.9"/>
<rect x="140.2" y="210.7" width="9.3" height="9.3" fill="#e377c2" stroke="#1a1a1a" stroke-width="0.9"/>
<rect x="140.2" y="219.3" width="9.3" height="9.3" fill="#7f7f7f" stroke="#1a1a1a" stroke-width="0.9"/>
<rect x="140.2" y="227.8" width="9.3" height="9.3" fill="#bcbd22" stroke="#1a1a1a" stroke-width="0.9"/>
<rect x="140.2" y="225.8" width="9.3" height="9.3" fill="#7f7f7f" stroke="#1a1a1a" stroke-width="0.9"/>
<rect x="140.2" y="232.3" width="9.3" height="9.3" fill="#7f7f7f" stroke="#1a1a1a" stroke-width="0.9"/>
<rect x="140.2" y="240.8" width="9.3" height="9.3" fill="#bcbd22" stroke="#1a1a1a" stroke-width="0.9"/>
<rect x="126.7" y="238.7" width="9.3" height="9.3" fill="#bcbd22" stroke="#1a1a1a" stroke-width="0.9"/>
<rect x="114.2" y="250.8" width="9.3" height="9.3" fill="#17becf" stroke="#1a1a1a" stroke-width="0.9"/>
<rect x="118.8" y="247.3" width="9.3" height="9.3" fill="#17becf" stroke="#1a1a1a" stroke-width="0.9"/>
<rect x="123.8" y="244.7" width="9.3" height="9.3" fill="#17becf" stroke="#1a1a1a" stroke-width="0.9"/>
<rect x="127.8" y="253.3" width="9.3" height="9.3" fill="#bcbd22" stroke="#1a1a1a" stroke-width="0.9"/>
<rect x="134.2" y="244.2" width="9.3" height="9.3" fill="#17becf" stroke="#1a1a1a" stroke-width="0.9"/>
<rect x="142.4" y="244.0" width="9.3" height="9.3" fill="#17becf" stroke="#1a1a1a" stroke-width="0.9"/>
<rect x="149.4" y="249.8" width="9.3" height="9.3" fill="#17becf" stroke="#1a1a1a" stroke-width="0.9"/>
<rect x="171.4" y="246.4" width="9.3" height="9.3" fill="#17becf" stroke="#1a1a1a" stroke-width="0.9"/>
<rect x="178.3" y="233.9" width="9.3" height="9.3" fill="#bcbd22" stroke="#1a1a1a" stroke-width="0.9"/>
<rect x="181.8" y="235.9" width="9.3" height="9.3" fill="#bcbd22" stroke="#1a1a1a" stroke-width="0.9"/>
<rect x="178.8" y="241.3" width="9.3" height="9.3" fill="#bcbd22" stroke="#1a1a1a" stroke-width="0.9"/>
<rect x="185.8" y="243.8" width="9.3" height="9.3" fill="#bcbd22" stroke="#1a1a1a" stroke-width="0.9"/>
<rect x="182.0" y="243.8" width="9.3" height="9.3" fill="#bcbd22" stroke="#1a1a1a" stroke-width="0.9"/>
<rect x="195.3" y="240.3" width="9.3" height="9.3" fill="#bcbd22" stroke="#1a1a1a" stroke-width="0.9"/>
<rect x="199.2" y="234.4" width="9.3" height="9.3" fill="#bcbd22" stroke="#1a1a1a" stroke-width="0.9"/>
<rect x="202.8" y="246.3" width="9.3" height="9.3" fill="#17becf" stroke="#1a1a1a" stroke-width="0.9"/>
<rect x="197.5" y="244.0" width="9.3" height="9.3" fill="#17becf" stroke="#1a1a1a" stroke-width="0.9"/>
<rect x="270.2" y="244.4" width="9.3" height="9.3" fill="#17becf" stroke="#1a1a1a" stroke-width="0.9"/>
<rect x="291.4" y="253.2" width="9.3" height="9.3" fill="#17becf" stroke="#1a1a1a" stroke-width="0.9"/>
<rect x="337.4" y="251.8" width="9.3" height="9.3" fill="#bcbd22" stroke="#1a1a1a" stroke-width="0.9"/>
<rect x="333.2" y="254.2" width="9.3" height="9.3" fill="#17becf" stroke="#1a1a1a" stroke-width="0.9"/>
<rect x="418.8" y="213.2" width="9.3" height="9.3" fill="#7f7f7f" stroke="#1a1a1a" stroke-width="0.9"/>
<rect x="417.4" y="249.4" width="9.3" height="9.3" fill="#17becf" stroke="#1a1a1a" stroke-width="0.9"/>
<rect x="421.6" y="253.5" width="9.3" height="9.3" fill="#17becf" stroke="#1a1a1a" stroke-width="0.9"/>
<rect x="451.9" y="234.2" width="9.3" height="9.3" fill="#17becf" stroke="#1a1a1a" stroke-width="0.9"/>
<rect x="450.0" y="253.0" width="9.3" height="9.3" fill="#17becf" stroke="#1a1a1a" stroke-width="0.9"/>
<rect x="507.1" y="253.3" width="9.3" height="9.3" fill="#17becf" stroke="#1a1a1a" stroke-width="0.9"/>
<rect x="115.1" y="254.7" width="10.2" height="10.2" fill="#17becf" stroke="none"/>
<rect x="133.9" y="254.6" width="10.2" height="10.2" fill="#17becf" stroke="none"/>
<rect x="181.5" y="254.7" width="10.2" height="10.2" fill="#17becf" stroke="none"/>
<rect x="196.1" y="255.2" width="10.2" height="10.2" fill="#17becf" stroke="none"/>
<rect x="200.2" y="255.2" width="10.2" height="10.2" fill="#17becf" stroke="none"/>
<rect x="206.1" y="259.7" width="10.2" height="10.2" fill="#17becf" stroke="none"/>
<rect x="347.0" y="254.4" width="10.2" height="10.2" fill="#17becf" stroke="none"/>
<rect x="423.1" y="256.5" width="10.2" height="10.2" fill="#17becf" stroke="none"/>
<rect x="463.8" y="255.1" width="10.2" height="10.2" fill="#17becf" stroke="none"/>
<rect x="476.2" y="256.0" width="10.2" height="10.2" fill="#17becf" stroke="none"/>
<rect x="547.4" y="255.2" width="10.2" height="10.2" fill="#17becf" stroke="none"/>
<polygon points="117.0,256.2 123.4,256.2 120.2,259.5" fill="#fff" fill-opacity="0.6"/>
<polygon points="117.0,263.4 123.4,263.4 120.2,260.1" fill="#fff" fill-opacity="0.6"/>
<polygon points="135.8,256.1 142.2,256.1 139.0,259.4" fill="#fff" fill-opacity="0.6"/>
<polygon points="135.8,263.3 142.2,263.3 139.0,260.0" fill="#fff" fill-opacity="0.6"/>
<polygon points="183.4,256.2 189.8,256.2 186.6,259.5" fill="#fff" fill-opacity="0.6"/>
<polygon points="183.4,263.4 189.8,263.4 186.6,260.1" fill="#fff" fill-opacity="0.6"/>
<polygon points="198.0,256.7 204.4,256.7 201.2,260.0" fill="#fff" fill-opacity="0.6"/>
<polygon points="198.0,263.9 204.4,263.9 201.2,260.6" fill="#fff" fill-opacity="0.6"/>
<polygon points="202.1,256.7 208.5,256.7 205.3,260.0" fill="#fff" fill-opacity="0.6"/>
<polygon points="202.1,263.9 208.5,263.9 205.3,260.6" fill="#fff" fill-opacity="0.6"/>
<polygon points="208.0,261.2 214.4,261.2 211.2,264.5" fill="#fff" fill-opacity="0.6"/>
<polygon points="208.0,268.4 214.4,268.4 211.2,265.1" fill="#fff" fill-opacity="0.6"/>
<polygon points="348.9,255.9 355.3,255.9 352.1,259.2" fill="#fff" fill-opacity="0.6"/>
<polygon points="348.9,263.1 355.3,263.1 352.1,259.8" fill="#fff" fill-opacity="0.6"/>
<polygon points="425.0,258.0 431.4,258.0 428.2,261.3" fill="#fff" fill-opacity="0.6"/>
<polygon points="425.0,265.2 431.4,265.2 428.2,261.9" fill="#fff" fill-opacity="0.6"/>
<polygon points="465.7,256.6 472.1,256.6 468.9,259.9" fill="#fff" fill-opacity="0.6"/>
<polygon points="465.7,263.8 472.1,263.8 468.9,260.5" fill="#fff" fill-opacity="0.6"/>
<polygon points="478.1,257.5 484.5,257.5 481.3,260.8" fill="#fff" fill-opacity="0.6"/>
<polygon points="478.1,264.7 484.5,264.7 481.3,261.4" fill="#fff" fill-opacity="0.6"/>
<polygon points="549.3,256.7 555.7,256.7 552.5,260.0" fill="#fff" fill-opacity="0.6"/>
<polygon points="549.3,263.9 555.7,263.9 552.5,260.6" fill="#fff" fill-opacity="0.6"/>
<path d="M116.2,255.8L124.2,263.8M124.2,255.8L116.2,263.8" stroke="#000" stroke-width="1.6"/>
<path d="M135.0,255.7L143.0,263.7M143.0,255.7L135.0,263.7" stroke="#000" stroke-width="1.6"/>
<path d="M182.6,255.8L190.6,263.8M190.6,255.8L182.6,263.8" stroke="#000" stroke-width="1.6"/>
<path d="M197.2,256.3L205.2,264.3M205.2,256.3L197.2,264.3" stroke="#000" stroke-width="1.6"/>
<path d="M201.3,256.3L209.3,264.3M209.3,256.3L201.3,264.3" stroke="#000" stroke-width="1.6"/>
<path d="M207.2,260.8L215.2,268.8M215.2,260.8L207.2,268.8" stroke="#000" stroke-width="1.6"/>
<path d="M348.1,255.5L356.1,263.5M356.1,255.5L348.1,263.5" stroke="#000" stroke-width="1.6"/>
<path d="M424.2,257.6L432.2,265.6M432.2,257.6L424.2,265.6" stroke="#000" stroke-width="1.6"/>
<path d="M464.9,256.2L472.9,264.2M472.9,256.2L464.9,264.2" stroke="#000" stroke-width="1.6"/>
<path d="M477.3,257.1L485.3,265.1M485.3,257.1L477.3,265.1" stroke="#000" stroke-width="1.6"/>
<path d="M548.5,256.3L556.5,264.3M556.5,256.3L548.5,264.3" stroke="#000" stroke-width="1.6"/>
<path d="M137.0,255.2L145.0,263.2M145.0,255.2L137.0,263.2" stroke="#000" stroke-width="1.6"/>
<path d="M478.0,257.6L486.0,265.6M486.0,257.6L478.0,265.6" stroke="#000" stroke-width="1.6"/>
<polygon points="510.4,255.5 520.2,255.5 515.3,246.5" fill="#bcbd22" stroke="#1a1a1a" stroke-width="0.9" stroke-linejoin="miter"/>
<polygon points="515.7,257.5 525.5,257.5 520.6,248.5" fill="#17becf" stroke="#1a1a1a" stroke-width="0.9" stroke-linejoin="miter"/>
<polygon points="524.7,254.5 534.5,254.5 529.6,245.5" fill="#17becf" stroke="#1a1a1a" stroke-width="0.9" stroke-linejoin="miter"/>
<polygon points="560.1,238.5 569.9,238.5 565.0,229.5" fill="#bcbd22" stroke="#1a1a1a" stroke-width="0.9" stroke-linejoin="miter"/>
<polygon points="557.6,240.3 567.4,240.3 562.5,231.3" fill="#17becf" stroke="#1a1a1a" stroke-width="0.9" stroke-linejoin="miter"/>
<polygon points="558.6,242.0 568.4,242.0 563.5,233.0" fill="#bcbd22" stroke="#1a1a1a" stroke-width="0.9" stroke-linejoin="miter"/>
<polygon points="559.3,248.5 569.1,248.5 564.2,239.5" fill="#17becf" stroke="#1a1a1a" stroke-width="0.9" stroke-linejoin="miter"/>
<polygon points="557.6,252.1 567.4,252.1 562.5,243.1" fill="#17becf" stroke="#1a1a1a" stroke-width="0.9" stroke-linejoin="miter"/>
<polygon points="559.3,256.0 569.1,256.0 564.2,247.0" fill="#17becf" stroke="#1a1a1a" stroke-width="0.9" stroke-linejoin="miter"/>
<polygon points="560.4,262.8 570.2,262.8 565.3,253.8" fill="#17becf" stroke="#1a1a1a" stroke-width="0.9" stroke-linejoin="miter"/>
<rect x="90.3" y="444.0" width="9.3" height="9.3" fill="#bcbd22" stroke="#1a1a1a" stroke-width="0.9"/>
<rect x="124.3" y="438.4" width="9.3" height="9.3" fill="#bcbd22" stroke="#1a1a1a" stroke-width="0.9"/>
<rect x="91.8" y="439.1" width="9.3" height="9.3" fill="#17becf" stroke="#1a1a1a" stroke-width="0.9"/>
<rect x="88.3" y="438.4" width="9.3" height="9.3" fill="#7f7f7f" stroke="#1a1a1a" stroke-width="0.9"/>
<rect x="83.2" y="442.9" width="9.3" height="9.3" fill="#17becf" stroke="#1a1a1a" stroke-width="0.9"/>
<rect x="123.8" y="417.2" width="9.3" height="9.3" fill="#17becf" stroke="#1a1a1a" stroke-width="0.9"/>
<rect x="114.2" y="430.2" width="9.3" height="9.3" fill="#17becf" stroke="#1a1a1a" stroke-width="0.9"/>
<rect x="117.8" y="432.8" width="9.3" height="9.3" fill="#17becf" stroke="#1a1a1a" stroke-width="0.9"/>
<rect x="137.2" y="423.9" width="9.3" height="9.3" fill="#17becf" stroke="#1a1a1a" stroke-width="0.9"/>
<rect x="139.8" y="430.9" width="9.3" height="9.3" fill="#e377c2" stroke="#1a1a1a" stroke-width="0.9"/>
<rect x="134.5" y="430.2" width="9.3" height="9.3" fill="#17becf" stroke="#1a1a1a" stroke-width="0.9"/>
<rect x="149.8" y="437.2" width="9.3" height="9.3" fill="#17becf" stroke="#1a1a1a" stroke-width="0.9"/>
<rect x="139.8" y="437.8" width="9.3" height="9.3" fill="#17becf" stroke="#1a1a1a" stroke-width="0.9"/>
<rect x="130.8" y="439.4" width="9.3" height="9.3" fill="#17becf" stroke="#1a1a1a" stroke-width="0.9"/>
<rect x="139.8" y="443.7" width="9.3" height="9.3" fill="#7f7f7f" stroke="#1a1a1a" stroke-width="0.9"/>
<rect x="127.9" y="444.4" width="9.3" height="9.3" fill="#bcbd22" stroke="#1a1a1a" stroke-width="0.9"/>
<rect x="114.2" y="444.6" width="9.3" height="9.3" fill="#17becf" stroke="#1a1a1a" stroke-width="0.9"/>
<rect x="182.0" y="429.0" width="9.3" height="9.3" fill="#bcbd22" stroke="#1a1a1a" stroke-width="0.9"/>
<rect x="197.4" y="418.4" width="9.3" height="9.3" fill="#17becf" stroke="#1a1a1a" stroke-width="0.9"/>
<rect x="202.4" y="426.7" width="9.3" height="9.3" fill="#17becf" stroke="#1a1a1a" stroke-width="0.9"/>
<rect x="201.3" y="435.1" width="9.3" height="9.3" fill="#17becf" stroke="#1a1a1a" stroke-width="0.9"/>
<rect x="171.3" y="444.6" width="9.3" height="9.3" fill="#bcbd22" stroke="#1a1a1a" stroke-width="0.9"/>
<rect x="180.8" y="443.4" width="9.3" height="9.3" fill="#bcbd22" stroke="#1a1a1a" stroke-width="0.9"/>
<rect x="171.7" y="441.1" width="9.3" height="9.3" fill="#17becf" stroke="#1a1a1a" stroke-width="0.9"/>
<rect x="178.4" y="445.4" width="9.3" height="9.3" fill="#bcbd22" stroke="#1a1a1a" stroke-width="0.9"/>
<rect x="186.2" y="444.5" width="9.3" height="9.3" fill="#bcbd22" stroke="#1a1a1a" stroke-width="0.9"/>
<rect x="196.8" y="445.2" width="9.3" height="9.3" fill="#bcbd22" stroke="#1a1a1a" stroke-width="0.9"/>
<rect x="199.3" y="445.2" width="9.3" height="9.3" fill="#bcbd22" stroke="#1a1a1a" stroke-width="0.9"/>
<rect x="270.2" y="437.2" width="9.3" height="9.3" fill="#17becf" stroke="#1a1a1a" stroke-width="0.9"/>
<rect x="291.2" y="441.7" width="9.3" height="9.3" fill="#17becf" stroke="#1a1a1a" stroke-width="0.9"/>
<rect x="333.0" y="437.6" width="9.3" height="9.3" fill="#17becf" stroke="#1a1a1a" stroke-width="0.9"/>
<rect x="337.4" y="444.8" width="9.3" height="9.3" fill="#bcbd22" stroke="#1a1a1a" stroke-width="0.9"/>
<rect x="419.1" y="431.4" width="9.3" height="9.3" fill="#7f7f7f" stroke="#1a1a1a" stroke-width="0.9"/>
<rect x="416.9" y="436.6" width="9.3" height="9.3" fill="#17becf" stroke="#1a1a1a" stroke-width="0.9"/>
<rect x="420.9" y="439.6" width="9.3" height="9.3" fill="#17becf" stroke="#1a1a1a" stroke-width="0.9"/>
<rect x="451.8" y="375.0" width="9.3" height="9.3" fill="#17becf" stroke="#1a1a1a" stroke-width="0.9"/>
<rect x="450.0" y="441.4" width="9.3" height="9.3" fill="#17becf" stroke="#1a1a1a" stroke-width="0.9"/>
<rect x="503.2" y="442.7" width="9.3" height="9.3" fill="#17becf" stroke="#1a1a1a" stroke-width="0.9"/>
<polygon points="560.3,364.0 570.1,364.0 565.2,355.0" fill="#17becf" stroke="#1a1a1a" stroke-width="0.9" stroke-linejoin="miter"/>
<polygon points="563.2,371.5 573.0,371.5 568.1,362.5" fill="#17becf" stroke="#1a1a1a" stroke-width="0.9" stroke-linejoin="miter"/>
<polygon points="559.3,379.0 569.1,379.0 564.2,370.0" fill="#17becf" stroke="#1a1a1a" stroke-width="0.9" stroke-linejoin="miter"/>
<polygon points="560.9,380.5 570.7,380.5 565.8,371.5" fill="#17becf" stroke="#1a1a1a" stroke-width="0.9" stroke-linejoin="miter"/>
<polygon points="557.3,389.7 567.1,389.7 562.2,380.7" fill="#17becf" stroke="#1a1a1a" stroke-width="0.9" stroke-linejoin="miter"/>
<polygon points="558.5,395.7 568.3,395.7 563.4,386.7" fill="#17becf" stroke="#1a1a1a" stroke-width="0.9" stroke-linejoin="miter"/>
<polygon points="559.8,405.5 569.6,405.5 564.7,396.5" fill="#17becf" stroke="#1a1a1a" stroke-width="0.9" stroke-linejoin="miter"/>
<polygon points="557.3,411.5 567.1,411.5 562.2,402.5" fill="#17becf" stroke="#1a1a1a" stroke-width="0.9" stroke-linejoin="miter"/>
<polygon points="557.3,413.4 567.1,413.4 562.2,404.4" fill="#bcbd22" stroke="#1a1a1a" stroke-width="0.9" stroke-linejoin="miter"/>
<polygon points="559.3,429.7 569.1,429.7 564.2,420.7" fill="#bcbd22" stroke="#1a1a1a" stroke-width="0.9" stroke-linejoin="miter"/>
<polygon points="517.8,425.5 527.6,425.5 522.7,416.5" fill="#17becf" stroke="#1a1a1a" stroke-width="0.9" stroke-linejoin="miter"/>
<polygon points="510.4,432.2 520.2,432.2 515.3,423.2" fill="#bcbd22" stroke="#1a1a1a" stroke-width="0.9" stroke-linejoin="miter"/>
<polygon points="524.9,439.0 534.7,439.0 529.8,430.0" fill="#17becf" stroke="#1a1a1a" stroke-width="0.9" stroke-linejoin="miter"/>
<line x1="40.5" y1="259.14" x2="630.5" y2="259.14" stroke="#ff0d0d" stroke-width="1.5" stroke-dasharray="8 2 1.3 2"/>
<line x1="40.5" y1="268.46" x2="630.5" y2="268.46" stroke="#ff0d0d" stroke-width="1.5" stroke-dasharray="5.1 2.3" stroke-dashoffset="-3.7"/>
<rect x="40.5" y="60.5" width="590.0" height="60.30" fill="none" stroke="#4a4a4a" stroke-width="1"/>
<rect x="40.5" y="120.8" width="590.0" height="209.70" fill="none" stroke="#4a4a4a" stroke-width="1"/>
<rect x="40.5" y="330.5" width="590.0" height="204.90" fill="none" stroke="#4a4a4a" stroke-width="1"/>
<path d="M40.5,60.5L40.5,0M630.5,0L630.5,60.5" fill="none" stroke="#4a4a4a" stroke-width="1"/>
<line x1="40.0" y1="0.4" x2="631.0" y2="0.4" stroke="#9a9a9a" stroke-width="1.8"/>
<line x1="57.70" y1="0.6" x2="57.70" y2="6.1" stroke="#4a4a4a" stroke-width="0.9"/>
<line x1="57.70" y1="60.5" x2="57.70" y2="55.0" stroke="#4a4a4a" stroke-width="0.9"/>
<line x1="80.61" y1="0.6" x2="80.61" y2="3.8000000000000003" stroke="#4a4a4a" stroke-width="0.9"/>
<line x1="80.61" y1="60.5" x2="80.61" y2="57.3" stroke="#4a4a4a" stroke-width="0.9"/>
<line x1="103.52" y1="0.6" x2="103.52" y2="3.8000000000000003" stroke="#4a4a4a" stroke-width="0.9"/>
<line x1="103.52" y1="60.5" x2="103.52" y2="57.3" stroke="#4a4a4a" stroke-width="0.9"/>
<line x1="126.44" y1="0.6" x2="126.44" y2="3.8000000000000003" stroke="#4a4a4a" stroke-width="0.9"/>
<line x1="126.44" y1="60.5" x2="126.44" y2="57.3" stroke="#4a4a4a" stroke-width="0.9"/>
<line x1="149.35" y1="0.6" x2="149.35" y2="3.8000000000000003" stroke="#4a4a4a" stroke-width="0.9"/>
<line x1="149.35" y1="60.5" x2="149.35" y2="57.3" stroke="#4a4a4a" stroke-width="0.9"/>
<line x1="172.26" y1="0.6" x2="172.26" y2="6.1" stroke="#4a4a4a" stroke-width="0.9"/>
<line x1="172.26" y1="60.5" x2="172.26" y2="55.0" stroke="#4a4a4a" stroke-width="0.9"/>
<line x1="195.17" y1="0.6" x2="195.17" y2="3.8000000000000003" stroke="#4a4a4a" stroke-width="0.9"/>
<line x1="195.17" y1="60.5" x2="195.17" y2="57.3" stroke="#4a4a4a" stroke-width="0.9"/>
<line x1="218.08" y1="0.6" x2="218.08" y2="3.8000000000000003" stroke="#4a4a4a" stroke-width="0.9"/>
<line x1="218.08" y1="60.5" x2="218.08" y2="57.3" stroke="#4a4a4a" stroke-width="0.9"/>
<line x1="241.00" y1="0.6" x2="241.00" y2="3.8000000000000003" stroke="#4a4a4a" stroke-width="0.9"/>
<line x1="241.00" y1="60.5" x2="241.00" y2="57.3" stroke="#4a4a4a" stroke-width="0.9"/>
<line x1="263.91" y1="0.6" x2="263.91" y2="3.8000000000000003" stroke="#4a4a4a" stroke-width="0.9"/>
<line x1="263.91" y1="60.5" x2="263.91" y2="57.3" stroke="#4a4a4a" stroke-width="0.9"/>
<line x1="286.82" y1="0.6" x2="286.82" y2="6.1" stroke="#4a4a4a" stroke-width="0.9"/>
<line x1="286.82" y1="60.5" x2="286.82" y2="55.0" stroke="#4a4a4a" stroke-width="0.9"/>
<line x1="309.73" y1="0.6" x2="309.73" y2="3.8000000000000003" stroke="#4a4a4a" stroke-width="0.9"/>
<line x1="309.73" y1="60.5" x2="309.73" y2="57.3" stroke="#4a4a4a" stroke-width="0.9"/>
<line x1="332.64" y1="0.6" x2="332.64" y2="3.8000000000000003" stroke="#4a4a4a" stroke-width="0.9"/>
<line x1="332.64" y1="60.5" x2="332.64" y2="57.3" stroke="#4a4a4a" stroke-width="0.9"/>
<line x1="355.56" y1="0.6" x2="355.56" y2="3.8000000000000003" stroke="#4a4a4a" stroke-width="0.9"/>
<line x1="355.56" y1="60.5" x2="355.56" y2="57.3" stroke="#4a4a4a" stroke-width="0.9"/>
<line x1="378.47" y1="0.6" x2="378.47" y2="3.8000000000000003" stroke="#4a4a4a" stroke-width="0.9"/>
<line x1="378.47" y1="60.5" x2="378.47" y2="57.3" stroke="#4a4a4a" stroke-width="0.9"/>
<line x1="401.38" y1="0.6" x2="401.38" y2="6.1" stroke="#4a4a4a" stroke-width="0.9"/>
<line x1="401.38" y1="60.5" x2="401.38" y2="55.0" stroke="#4a4a4a" stroke-width="0.9"/>
<line x1="424.29" y1="0.6" x2="424.29" y2="3.8000000000000003" stroke="#4a4a4a" stroke-width="0.9"/>
<line x1="424.29" y1="60.5" x2="424.29" y2="57.3" stroke="#4a4a4a" stroke-width="0.9"/>
<line x1="447.20" y1="0.6" x2="447.20" y2="3.8000000000000003" stroke="#4a4a4a" stroke-width="0.9"/>
<line x1="447.20" y1="60.5" x2="447.20" y2="57.3" stroke="#4a4a4a" stroke-width="0.9"/>
<line x1="470.12" y1="0.6" x2="470.12" y2="3.8000000000000003" stroke="#4a4a4a" stroke-width="0.9"/>
<line x1="470.12" y1="60.5" x2="470.12" y2="57.3" stroke="#4a4a4a" stroke-width="0.9"/>
<line x1="493.03" y1="0.6" x2="493.03" y2="3.8000000000000003" stroke="#4a4a4a" stroke-width="0.9"/>
<line x1="493.03" y1="60.5" x2="493.03" y2="57.3" stroke="#4a4a4a" stroke-width="0.9"/>
<line x1="515.94" y1="0.6" x2="515.94" y2="6.1" stroke="#4a4a4a" stroke-width="0.9"/>
<line x1="515.94" y1="60.5" x2="515.94" y2="55.0" stroke="#4a4a4a" stroke-width="0.9"/>
<line x1="538.85" y1="0.6" x2="538.85" y2="3.8000000000000003" stroke="#4a4a4a" stroke-width="0.9"/>
<line x1="538.85" y1="60.5" x2="538.85" y2="57.3" stroke="#4a4a4a" stroke-width="0.9"/>
<line x1="561.76" y1="0.6" x2="561.76" y2="3.8000000000000003" stroke="#4a4a4a" stroke-width="0.9"/>
<line x1="561.76" y1="60.5" x2="561.76" y2="57.3" stroke="#4a4a4a" stroke-width="0.9"/>
<line x1="584.68" y1="0.6" x2="584.68" y2="3.8000000000000003" stroke="#4a4a4a" stroke-width="0.9"/>
<line x1="584.68" y1="60.5" x2="584.68" y2="57.3" stroke="#4a4a4a" stroke-width="0.9"/>
<line x1="607.59" y1="0.6" x2="607.59" y2="3.8000000000000003" stroke="#4a4a4a" stroke-width="0.9"/>
<line x1="607.59" y1="60.5" x2="607.59" y2="57.3" stroke="#4a4a4a" stroke-width="0.9"/>
<line x1="57.70" y1="60.5" x2="57.70" y2="66.0" stroke="#4a4a4a" stroke-width="0.9"/>
<line x1="57.70" y1="120.8" x2="57.70" y2="115.3" stroke="#4a4a4a" stroke-width="0.9"/>
<line x1="80.61" y1="60.5" x2="80.61" y2="63.7" stroke="#4a4a4a" stroke-width="0.9"/>
<line x1="80.61" y1="120.8" x2="80.61" y2="117.6" stroke="#4a4a4a" stroke-width="0.9"/>
<line x1="103.52" y1="60.5" x2="103.52" y2="63.7" stroke="#4a4a4a" stroke-width="0.9"/>
<line x1="103.52" y1="120.8" x2="103.52" y2="117.6" stroke="#4a4a4a" stroke-width="0.9"/>
<line x1="126.44" y1="60.5" x2="126.44" y2="63.7" stroke="#4a4a4a" stroke-width="0.9"/>
<line x1="126.44" y1="120.8" x2="126.44" y2="117.6" stroke="#4a4a4a" stroke-width="0.9"/>
<line x1="149.35" y1="60.5" x2="149.35" y2="63.7" stroke="#4a4a4a" stroke-width="0.9"/>
<line x1="149.35" y1="120.8" x2="149.35" y2="117.6" stroke="#4a4a4a" stroke-width="0.9"/>
<line x1="172.26" y1="60.5" x2="172.26" y2="66.0" stroke="#4a4a4a" stroke-width="0.9"/>
<line x1="172.26" y1="120.8" x2="172.26" y2="115.3" stroke="#4a4a4a" stroke-width="0.9"/>
<line x1="195.17" y1="60.5" x2="195.17" y2="63.7" stroke="#4a4a4a" stroke-width="0.9"/>
<line x1="195.17" y1="120.8" x2="195.17" y2="117.6" stroke="#4a4a4a" stroke-width="0.9"/>
<line x1="218.08" y1="60.5" x2="218.08" y2="63.7" stroke="#4a4a4a" stroke-width="0.9"/>
<line x1="218.08" y1="120.8" x2="218.08" y2="117.6" stroke="#4a4a4a" stroke-width="0.9"/>
<line x1="241.00" y1="60.5" x2="241.00" y2="63.7" stroke="#4a4a4a" stroke-width="0.9"/>
<line x1="241.00" y1="120.8" x2="241.00" y2="117.6" stroke="#4a4a4a" stroke-width="0.9"/>
<line x1="263.91" y1="60.5" x2="263.91" y2="63.7" stroke="#4a4a4a" stroke-width="0.9"/>
<line x1="263.91" y1="120.8" x2="263.91" y2="117.6" stroke="#4a4a4a" stroke-width="0.9"/>
<line x1="286.82" y1="60.5" x2="286.82" y2="66.0" stroke="#4a4a4a" stroke-width="0.9"/>
<line x1="286.82" y1="120.8" x2="286.82" y2="115.3" stroke="#4a4a4a" stroke-width="0.9"/>
<line x1="309.73" y1="60.5" x2="309.73" y2="63.7" stroke="#4a4a4a" stroke-width="0.9"/>
<line x1="309.73" y1="120.8" x2="309.73" y2="117.6" stroke="#4a4a4a" stroke-width="0.9"/>
<line x1="332.64" y1="60.5" x2="332.64" y2="63.7" stroke="#4a4a4a" stroke-width="0.9"/>
<line x1="332.64" y1="120.8" x2="332.64" y2="117.6" stroke="#4a4a4a" stroke-width="0.9"/>
<line x1="355.56" y1="60.5" x2="355.56" y2="63.7" stroke="#4a4a4a" stroke-width="0.9"/>
<line x1="355.56" y1="120.8" x2="355.56" y2="117.6" stroke="#4a4a4a" stroke-width="0.9"/>
<line x1="378.47" y1="60.5" x2="378.47" y2="63.7" stroke="#4a4a4a" stroke-width="0.9"/>
<line x1="378.47" y1="120.8" x2="378.47" y2="117.6" stroke="#4a4a4a" stroke-width="0.9"/>
<line x1="401.38" y1="60.5" x2="401.38" y2="66.0" stroke="#4a4a4a" stroke-width="0.9"/>
<line x1="401.38" y1="120.8" x2="401.38" y2="115.3" stroke="#4a4a4a" stroke-width="0.9"/>
<line x1="424.29" y1="60.5" x2="424.29" y2="63.7" stroke="#4a4a4a" stroke-width="0.9"/>
<line x1="424.29" y1="120.8" x2="424.29" y2="117.6" stroke="#4a4a4a" stroke-width="0.9"/>
<line x1="447.20" y1="60.5" x2="447.20" y2="63.7" stroke="#4a4a4a" stroke-width="0.9"/>
<line x1="447.20" y1="120.8" x2="447.20" y2="117.6" stroke="#4a4a4a" stroke-width="0.9"/>
<line x1="470.12" y1="60.5" x2="470.12" y2="63.7" stroke="#4a4a4a" stroke-width="0.9"/>
<line x1="470.12" y1="120.8" x2="470.12" y2="117.6" stroke="#4a4a4a" stroke-width="0.9"/>
<line x1="493.03" y1="60.5" x2="493.03" y2="63.7" stroke="#4a4a4a" stroke-width="0.9"/>
<line x1="493.03" y1="120.8" x2="493.03" y2="117.6" stroke="#4a4a4a" stroke-width="0.9"/>
<line x1="515.94" y1="60.5" x2="515.94" y2="66.0" stroke="#4a4a4a" stroke-width="0.9"/>
<line x1="515.94" y1="120.8" x2="515.94" y2="115.3" stroke="#4a4a4a" stroke-width="0.9"/>
<line x1="538.85" y1="60.5" x2="538.85" y2="63.7" stroke="#4a4a4a" stroke-width="0.9"/>
<line x1="538.85" y1="120.8" x2="538.85" y2="117.6" stroke="#4a4a4a" stroke-width="0.9"/>
<line x1="561.76" y1="60.5" x2="561.76" y2="63.7" stroke="#4a4a4a" stroke-width="0.9"/>
<line x1="561.76" y1="120.8" x2="561.76" y2="117.6" stroke="#4a4a4a" stroke-width="0.9"/>
<line x1="584.68" y1="60.5" x2="584.68" y2="63.7" stroke="#4a4a4a" stroke-width="0.9"/>
<line x1="584.68" y1="120.8" x2="584.68" y2="117.6" stroke="#4a4a4a" stroke-width="0.9"/>
<line x1="607.59" y1="60.5" x2="607.59" y2="63.7" stroke="#4a4a4a" stroke-width="0.9"/>
<line x1="607.59" y1="120.8" x2="607.59" y2="117.6" stroke="#4a4a4a" stroke-width="0.9"/>
<line x1="57.70" y1="120.8" x2="57.70" y2="126.3" stroke="#4a4a4a" stroke-width="0.9"/>
<line x1="57.70" y1="330.5" x2="57.70" y2="325.0" stroke="#4a4a4a" stroke-width="0.9"/>
<line x1="80.61" y1="120.8" x2="80.61" y2="124.0" stroke="#4a4a4a" stroke-width="0.9"/>
<line x1="80.61" y1="330.5" x2="80.61" y2="327.3" stroke="#4a4a4a" stroke-width="0.9"/>
<line x1="103.52" y1="120.8" x2="103.52" y2="124.0" stroke="#4a4a4a" stroke-width="0.9"/>
<line x1="103.52" y1="330.5" x2="103.52" y2="327.3" stroke="#4a4a4a" stroke-width="0.9"/>
<line x1="126.44" y1="120.8" x2="126.44" y2="124.0" stroke="#4a4a4a" stroke-width="0.9"/>
<line x1="126.44" y1="330.5" x2="126.44" y2="327.3" stroke="#4a4a4a" stroke-width="0.9"/>
<line x1="149.35" y1="120.8" x2="149.35" y2="124.0" stroke="#4a4a4a" stroke-width="0.9"/>
<line x1="149.35" y1="330.5" x2="149.35" y2="327.3" stroke="#4a4a4a" stroke-width="0.9"/>
<line x1="172.26" y1="120.8" x2="172.26" y2="126.3" stroke="#4a4a4a" stroke-width="0.9"/>
<line x1="172.26" y1="330.5" x2="172.26" y2="325.0" stroke="#4a4a4a" stroke-width="0.9"/>
<line x1="195.17" y1="120.8" x2="195.17" y2="124.0" stroke="#4a4a4a" stroke-width="0.9"/>
<line x1="195.17" y1="330.5" x2="195.17" y2="327.3" stroke="#4a4a4a" stroke-width="0.9"/>
<line x1="218.08" y1="120.8" x2="218.08" y2="124.0" stroke="#4a4a4a" stroke-width="0.9"/>
<line x1="218.08" y1="330.5" x2="218.08" y2="327.3" stroke="#4a4a4a" stroke-width="0.9"/>
<line x1="241.00" y1="120.8" x2="241.00" y2="124.0" stroke="#4a4a4a" stroke-width="0.9"/>
<line x1="241.00" y1="330.5" x2="241.00" y2="327.3" stroke="#4a4a4a" stroke-width="0.9"/>
<line x1="263.91" y1="120.8" x2="263.91" y2="124.0" stroke="#4a4a4a" stroke-width="0.9"/>
<line x1="263.91" y1="330.5" x2="263.91" y2="327.3" stroke="#4a4a4a" stroke-width="0.9"/>
<line x1="286.82" y1="120.8" x2="286.82" y2="126.3" stroke="#4a4a4a" stroke-width="0.9"/>
<line x1="286.82" y1="330.5" x2="286.82" y2="325.0" stroke="#4a4a4a" stroke-width="0.9"/>
<line x1="309.73" y1="120.8" x2="309.73" y2="124.0" stroke="#4a4a4a" stroke-width="0.9"/>
<line x1="309.73" y1="330.5" x2="309.73" y2="327.3" stroke="#4a4a4a" stroke-width="0.9"/>
<line x1="332.64" y1="120.8" x2="332.64" y2="124.0" stroke="#4a4a4a" stroke-width="0.9"/>
<line x1="332.64" y1="330.5" x2="332.64" y2="327.3" stroke="#4a4a4a" stroke-width="0.9"/>
<line x1="355.56" y1="120.8" x2="355.56" y2="124.0" stroke="#4a4a4a" stroke-width="0.9"/>
<line x1="355.56" y1="330.5" x2="355.56" y2="327.3" stroke="#4a4a4a" stroke-width="0.9"/>
<line x1="378.47" y1="120.8" x2="378.47" y2="124.0" stroke="#4a4a4a" stroke-width="0.9"/>
<line x1="378.47" y1="330.5" x2="378.47" y2="327.3" stroke="#4a4a4a" stroke-width="0.9"/>
<line x1="401.38" y1="120.8" x2="401.38" y2="126.3" stroke="#4a4a4a" stroke-width="0.9"/>
<line x1="401.38" y1="330.5" x2="401.38" y2="325.0" stroke="#4a4a4a" stroke-width="0.9"/>
<line x1="424.29" y1="120.8" x2="424.29" y2="124.0" stroke="#4a4a4a" stroke-width="0.9"/>
<line x1="424.29" y1="330.5" x2="424.29" y2="327.3" stroke="#4a4a4a" stroke-width="0.9"/>
<line x1="447.20" y1="120.8" x2="447.20" y2="124.0" stroke="#4a4a4a" stroke-width="0.9"/>
<line x1="447.20" y1="330.5" x2="447.20" y2="327.3" stroke="#4a4a4a" stroke-width="0.9"/>
<line x1="470.12" y1="120.8" x2="470.12" y2="124.0" stroke="#4a4a4a" stroke-width="0.9"/>
<line x1="470.12" y1="330.5" x2="470.12" y2="327.3" stroke="#4a4a4a" stroke-width="0.9"/>
<line x1="493.03" y1="120.8" x2="493.03" y2="124.0" stroke="#4a4a4a" stroke-width="0.9"/>
<line x1="493.03" y1="330.5" x2="493.03" y2="327.3" stroke="#4a4a4a" stroke-width="0.9"/>
<line x1="515.94" y1="120.8" x2="515.94" y2="126.3" stroke="#4a4a4a" stroke-width="0.9"/>
<line x1="515.94" y1="330.5" x2="515.94" y2="325.0" stroke="#4a4a4a" stroke-width="0.9"/>
<line x1="538.85" y1="120.8" x2="538.85" y2="124.0" stroke="#4a4a4a" stroke-width="0.9"/>
<line x1="538.85" y1="330.5" x2="538.85" y2="327.3" stroke="#4a4a4a" stroke-width="0.9"/>
<line x1="561.76" y1="120.8" x2="561.76" y2="124.0" stroke="#4a4a4a" stroke-width="0.9"/>
<line x1="561.76" y1="330.5" x2="561.76" y2="327.3" stroke="#4a4a4a" stroke-width="0.9"/>
<line x1="584.68" y1="120.8" x2="584.68" y2="124.0" stroke="#4a4a4a" stroke-width="0.9"/>
<line x1="584.68" y1="330.5" x2="584.68" y2="327.3" stroke="#4a4a4a" stroke-width="0.9"/>
<line x1="607.59" y1="120.8" x2="607.59" y2="124.0" stroke="#4a4a4a" stroke-width="0.9"/>
<line x1="607.59" y1="330.5" x2="607.59" y2="327.3" stroke="#4a4a4a" stroke-width="0.9"/>
<line x1="57.70" y1="330.5" x2="57.70" y2="336.0" stroke="#4a4a4a" stroke-width="0.9"/>
<line x1="57.70" y1="535.4" x2="57.70" y2="529.9" stroke="#4a4a4a" stroke-width="0.9"/>
<line x1="80.61" y1="330.5" x2="80.61" y2="333.7" stroke="#4a4a4a" stroke-width="0.9"/>
<line x1="80.61" y1="535.4" x2="80.61" y2="532.1999999999999" stroke="#4a4a4a" stroke-width="0.9"/>
<line x1="103.52" y1="330.5" x2="103.52" y2="333.7" stroke="#4a4a4a" stroke-width="0.9"/>
<line x1="103.52" y1="535.4" x2="103.52" y2="532.1999999999999" stroke="#4a4a4a" stroke-width="0.9"/>
<line x1="126.44" y1="330.5" x2="126.44" y2="333.7" stroke="#4a4a4a" stroke-width="0.9"/>
<line x1="126.44" y1="535.4" x2="126.44" y2="532.1999999999999" stroke="#4a4a4a" stroke-width="0.9"/>
<line x1="149.35" y1="330.5" x2="149.35" y2="333.7" stroke="#4a4a4a" stroke-width="0.9"/>
<line x1="149.35" y1="535.4" x2="149.35" y2="532.1999999999999" stroke="#4a4a4a" stroke-width="0.9"/>
<line x1="172.26" y1="330.5" x2="172.26" y2="336.0" stroke="#4a4a4a" stroke-width="0.9"/>
<line x1="172.26" y1="535.4" x2="172.26" y2="529.9" stroke="#4a4a4a" stroke-width="0.9"/>
<line x1="195.17" y1="330.5" x2="195.17" y2="333.7" stroke="#4a4a4a" stroke-width="0.9"/>
<line x1="195.17" y1="535.4" x2="195.17" y2="532.1999999999999" stroke="#4a4a4a" stroke-width="0.9"/>
<line x1="218.08" y1="330.5" x2="218.08" y2="333.7" stroke="#4a4a4a" stroke-width="0.9"/>
<line x1="218.08" y1="535.4" x2="218.08" y2="532.1999999999999" stroke="#4a4a4a" stroke-width="0.9"/>
<line x1="241.00" y1="330.5" x2="241.00" y2="333.7" stroke="#4a4a4a" stroke-width="0.9"/>
<line x1="241.00" y1="535.4" x2="241.00" y2="532.1999999999999" stroke="#4a4a4a" stroke-width="0.9"/>
<line x1="263.91" y1="330.5" x2="263.91" y2="333.7" stroke="#4a4a4a" stroke-width="0.9"/>
<line x1="263.91" y1="535.4" x2="263.91" y2="532.1999999999999" stroke="#4a4a4a" stroke-width="0.9"/>
<line x1="286.82" y1="330.5" x2="286.82" y2="336.0" stroke="#4a4a4a" stroke-width="0.9"/>
<line x1="286.82" y1="535.4" x2="286.82" y2="529.9" stroke="#4a4a4a" stroke-width="0.9"/>
<line x1="309.73" y1="330.5" x2="309.73" y2="333.7" stroke="#4a4a4a" stroke-width="0.9"/>
<line x1="309.73" y1="535.4" x2="309.73" y2="532.1999999999999" stroke="#4a4a4a" stroke-width="0.9"/>
<line x1="332.64" y1="330.5" x2="332.64" y2="333.7" stroke="#4a4a4a" stroke-width="0.9"/>
<line x1="332.64" y1="535.4" x2="332.64" y2="532.1999999999999" stroke="#4a4a4a" stroke-width="0.9"/>
<line x1="355.56" y1="330.5" x2="355.56" y2="333.7" stroke="#4a4a4a" stroke-width="0.9"/>
<line x1="355.56" y1="535.4" x2="355.56" y2="532.1999999999999" stroke="#4a4a4a" stroke-width="0.9"/>
<line x1="378.47" y1="330.5" x2="378.47" y2="333.7" stroke="#4a4a4a" stroke-width="0.9"/>
<line x1="378.47" y1="535.4" x2="378.47" y2="532.1999999999999" stroke="#4a4a4a" stroke-width="0.9"/>
<line x1="401.38" y1="330.5" x2="401.38" y2="336.0" stroke="#4a4a4a" stroke-width="0.9"/>
<line x1="401.38" y1="535.4" x2="401.38" y2="529.9" stroke="#4a4a4a" stroke-width="0.9"/>
<line x1="424.29" y1="330.5" x2="424.29" y2="333.7" stroke="#4a4a4a" stroke-width="0.9"/>
<line x1="424.29" y1="535.4" x2="424.29" y2="532.1999999999999" stroke="#4a4a4a" stroke-width="0.9"/>
<line x1="447.20" y1="330.5" x2="447.20" y2="333.7" stroke="#4a4a4a" stroke-width="0.9"/>
<line x1="447.20" y1="535.4" x2="447.20" y2="532.1999999999999" stroke="#4a4a4a" stroke-width="0.9"/>
<line x1="470.12" y1="330.5" x2="470.12" y2="333.7" stroke="#4a4a4a" stroke-width="0.9"/>
<line x1="470.12" y1="535.4" x2="470.12" y2="532.1999999999999" stroke="#4a4a4a" stroke-width="0.9"/>
<line x1="493.03" y1="330.5" x2="493.03" y2="333.7" stroke="#4a4a4a" stroke-width="0.9"/>
<line x1="493.03" y1="535.4" x2="493.03" y2="532.1999999999999" stroke="#4a4a4a" stroke-width="0.9"/>
<line x1="515.94" y1="330.5" x2="515.94" y2="336.0" stroke="#4a4a4a" stroke-width="0.9"/>
<line x1="515.94" y1="535.4" x2="515.94" y2="529.9" stroke="#4a4a4a" stroke-width="0.9"/>
<line x1="538.85" y1="330.5" x2="538.85" y2="333.7" stroke="#4a4a4a" stroke-width="0.9"/>
<line x1="538.85" y1="535.4" x2="538.85" y2="532.1999999999999" stroke="#4a4a4a" stroke-width="0.9"/>
<line x1="561.76" y1="330.5" x2="561.76" y2="333.7" stroke="#4a4a4a" stroke-width="0.9"/>
<line x1="561.76" y1="535.4" x2="561.76" y2="532.1999999999999" stroke="#4a4a4a" stroke-width="0.9"/>
<line x1="584.68" y1="330.5" x2="584.68" y2="333.7" stroke="#4a4a4a" stroke-width="0.9"/>
<line x1="584.68" y1="535.4" x2="584.68" y2="532.1999999999999" stroke="#4a4a4a" stroke-width="0.9"/>
<line x1="607.59" y1="330.5" x2="607.59" y2="333.7" stroke="#4a4a4a" stroke-width="0.9"/>
<line x1="607.59" y1="535.4" x2="607.59" y2="532.1999999999999" stroke="#4a4a4a" stroke-width="0.9"/>
<line x1="40.5" y1="46.98" x2="43.5" y2="46.98" stroke="#4a4a4a" stroke-width="0.9"/>
<line x1="630.5" y1="46.98" x2="627.5" y2="46.98" stroke="#4a4a4a" stroke-width="0.9"/>
<line x1="40.5" y1="33.45" x2="43.5" y2="33.45" stroke="#4a4a4a" stroke-width="0.9"/>
<line x1="630.5" y1="33.45" x2="627.5" y2="33.45" stroke="#4a4a4a" stroke-width="0.9"/>
<line x1="40.5" y1="19.92" x2="43.5" y2="19.92" stroke="#4a4a4a" stroke-width="0.9"/>
<line x1="630.5" y1="19.92" x2="627.5" y2="19.92" stroke="#4a4a4a" stroke-width="0.9"/>
<line x1="40.5" y1="6.40" x2="45.5" y2="6.40" stroke="#4a4a4a" stroke-width="0.9"/>
<line x1="630.5" y1="6.40" x2="625.5" y2="6.40" stroke="#4a4a4a" stroke-width="0.9"/>
<line x1="40.5" y1="110.85" x2="43.5" y2="110.85" stroke="#4a4a4a" stroke-width="0.9"/>
<line x1="630.5" y1="110.85" x2="627.5" y2="110.85" stroke="#4a4a4a" stroke-width="0.9"/>
<line x1="40.5" y1="100.90" x2="43.5" y2="100.90" stroke="#4a4a4a" stroke-width="0.9"/>
<line x1="630.5" y1="100.90" x2="627.5" y2="100.90" stroke="#4a4a4a" stroke-width="0.9"/>
<line x1="40.5" y1="90.95" x2="43.5" y2="90.95" stroke="#4a4a4a" stroke-width="0.9"/>
<line x1="630.5" y1="90.95" x2="627.5" y2="90.95" stroke="#4a4a4a" stroke-width="0.9"/>
<line x1="40.5" y1="81.00" x2="45.5" y2="81.00" stroke="#4a4a4a" stroke-width="0.9"/>
<line x1="630.5" y1="81.00" x2="625.5" y2="81.00" stroke="#4a4a4a" stroke-width="0.9"/>
<line x1="40.5" y1="71.05" x2="43.5" y2="71.05" stroke="#4a4a4a" stroke-width="0.9"/>
<line x1="630.5" y1="71.05" x2="627.5" y2="71.05" stroke="#4a4a4a" stroke-width="0.9"/>
<line x1="40.5" y1="317.86" x2="43.5" y2="317.86" stroke="#4a4a4a" stroke-width="0.9"/>
<line x1="630.5" y1="317.86" x2="627.5" y2="317.86" stroke="#4a4a4a" stroke-width="0.9"/>
<line x1="40.5" y1="310.46" x2="43.5" y2="310.46" stroke="#4a4a4a" stroke-width="0.9"/>
<line x1="630.5" y1="310.46" x2="627.5" y2="310.46" stroke="#4a4a4a" stroke-width="0.9"/>
<line x1="40.5" y1="305.21" x2="43.5" y2="305.21" stroke="#4a4a4a" stroke-width="0.9"/>
<line x1="630.5" y1="305.21" x2="627.5" y2="305.21" stroke="#4a4a4a" stroke-width="0.9"/>
<line x1="40.5" y1="301.14" x2="43.5" y2="301.14" stroke="#4a4a4a" stroke-width="0.9"/>
<line x1="630.5" y1="301.14" x2="627.5" y2="301.14" stroke="#4a4a4a" stroke-width="0.9"/>
<line x1="40.5" y1="297.82" x2="43.5" y2="297.82" stroke="#4a4a4a" stroke-width="0.9"/>
<line x1="630.5" y1="297.82" x2="627.5" y2="297.82" stroke="#4a4a4a" stroke-width="0.9"/>
<line x1="40.5" y1="295.01" x2="43.5" y2="295.01" stroke="#4a4a4a" stroke-width="0.9"/>
<line x1="630.5" y1="295.01" x2="627.5" y2="295.01" stroke="#4a4a4a" stroke-width="0.9"/>
<line x1="40.5" y1="292.57" x2="43.5" y2="292.57" stroke="#4a4a4a" stroke-width="0.9"/>
<line x1="630.5" y1="292.57" x2="627.5" y2="292.57" stroke="#4a4a4a" stroke-width="0.9"/>
<line x1="40.5" y1="290.42" x2="43.5" y2="290.42" stroke="#4a4a4a" stroke-width="0.9"/>
<line x1="630.5" y1="290.42" x2="627.5" y2="290.42" stroke="#4a4a4a" stroke-width="0.9"/>
<line x1="40.5" y1="288.50" x2="45.5" y2="288.50" stroke="#4a4a4a" stroke-width="0.9"/>
<line x1="630.5" y1="288.50" x2="625.5" y2="288.50" stroke="#4a4a4a" stroke-width="0.9"/>
<line x1="40.5" y1="275.86" x2="43.5" y2="275.86" stroke="#4a4a4a" stroke-width="0.9"/>
<line x1="630.5" y1="275.86" x2="627.5" y2="275.86" stroke="#4a4a4a" stroke-width="0.9"/>
<line x1="40.5" y1="268.46" x2="43.5" y2="268.46" stroke="#4a4a4a" stroke-width="0.9"/>
<line x1="630.5" y1="268.46" x2="627.5" y2="268.46" stroke="#4a4a4a" stroke-width="0.9"/>
<line x1="40.5" y1="263.21" x2="43.5" y2="263.21" stroke="#4a4a4a" stroke-width="0.9"/>
<line x1="630.5" y1="263.21" x2="627.5" y2="263.21" stroke="#4a4a4a" stroke-width="0.9"/>
<line x1="40.5" y1="259.14" x2="43.5" y2="259.14" stroke="#4a4a4a" stroke-width="0.9"/>
<line x1="630.5" y1="259.14" x2="627.5" y2="259.14" stroke="#4a4a4a" stroke-width="0.9"/>
<line x1="40.5" y1="255.82" x2="43.5" y2="255.82" stroke="#4a4a4a" stroke-width="0.9"/>
<line x1="630.5" y1="255.82" x2="627.5" y2="255.82" stroke="#4a4a4a" stroke-width="0.9"/>
<line x1="40.5" y1="253.01" x2="43.5" y2="253.01" stroke="#4a4a4a" stroke-width="0.9"/>
<line x1="630.5" y1="253.01" x2="627.5" y2="253.01" stroke="#4a4a4a" stroke-width="0.9"/>
<line x1="40.5" y1="250.57" x2="43.5" y2="250.57" stroke="#4a4a4a" stroke-width="0.9"/>
<line x1="630.5" y1="250.57" x2="627.5" y2="250.57" stroke="#4a4a4a" stroke-width="0.9"/>
<line x1="40.5" y1="248.42" x2="43.5" y2="248.42" stroke="#4a4a4a" stroke-width="0.9"/>
<line x1="630.5" y1="248.42" x2="627.5" y2="248.42" stroke="#4a4a4a" stroke-width="0.9"/>
<line x1="40.5" y1="246.50" x2="45.5" y2="246.50" stroke="#4a4a4a" stroke-width="0.9"/>
<line x1="630.5" y1="246.50" x2="625.5" y2="246.50" stroke="#4a4a4a" stroke-width="0.9"/>
<line x1="40.5" y1="233.86" x2="43.5" y2="233.86" stroke="#4a4a4a" stroke-width="0.9"/>
<line x1="630.5" y1="233.86" x2="627.5" y2="233.86" stroke="#4a4a4a" stroke-width="0.9"/>
<line x1="40.5" y1="226.46" x2="43.5" y2="226.46" stroke="#4a4a4a" stroke-width="0.9"/>
<line x1="630.5" y1="226.46" x2="627.5" y2="226.46" stroke="#4a4a4a" stroke-width="0.9"/>
<line x1="40.5" y1="221.21" x2="43.5" y2="221.21" stroke="#4a4a4a" stroke-width="0.9"/>
<line x1="630.5" y1="221.21" x2="627.5" y2="221.21" stroke="#4a4a4a" stroke-width="0.9"/>
<line x1="40.5" y1="217.14" x2="43.5" y2="217.14" stroke="#4a4a4a" stroke-width="0.9"/>
<line x1="630.5" y1="217.14" x2="627.5" y2="217.14" stroke="#4a4a4a" stroke-width="0.9"/>
<line x1="40.5" y1="213.82" x2="43.5" y2="213.82" stroke="#4a4a4a" stroke-width="0.9"/>
<line x1="630.5" y1="213.82" x2="627.5" y2="213.82" stroke="#4a4a4a" stroke-width="0.9"/>
<line x1="40.5" y1="211.01" x2="43.5" y2="211.01" stroke="#4a4a4a" stroke-width="0.9"/>
<line x1="630.5" y1="211.01" x2="627.5" y2="211.01" stroke="#4a4a4a" stroke-width="0.9"/>
<line x1="40.5" y1="208.57" x2="43.5" y2="208.57" stroke="#4a4a4a" stroke-width="0.9"/>
<line x1="630.5" y1="208.57" x2="627.5" y2="208.57" stroke="#4a4a4a" stroke-width="0.9"/>
<line x1="40.5" y1="206.42" x2="43.5" y2="206.42" stroke="#4a4a4a" stroke-width="0.9"/>
<line x1="630.5" y1="206.42" x2="627.5" y2="206.42" stroke="#4a4a4a" stroke-width="0.9"/>
<line x1="40.5" y1="204.50" x2="45.5" y2="204.50" stroke="#4a4a4a" stroke-width="0.9"/>
<line x1="630.5" y1="204.50" x2="625.5" y2="204.50" stroke="#4a4a4a" stroke-width="0.9"/>
<line x1="40.5" y1="191.86" x2="43.5" y2="191.86" stroke="#4a4a4a" stroke-width="0.9"/>
<line x1="630.5" y1="191.86" x2="627.5" y2="191.86" stroke="#4a4a4a" stroke-width="0.9"/>
<line x1="40.5" y1="184.46" x2="43.5" y2="184.46" stroke="#4a4a4a" stroke-width="0.9"/>
<line x1="630.5" y1="184.46" x2="627.5" y2="184.46" stroke="#4a4a4a" stroke-width="0.9"/>
<line x1="40.5" y1="179.21" x2="43.5" y2="179.21" stroke="#4a4a4a" stroke-width="0.9"/>
<line x1="630.5" y1="179.21" x2="627.5" y2="179.21" stroke="#4a4a4a" stroke-width="0.9"/>
<line x1="40.5" y1="175.14" x2="43.5" y2="175.14" stroke="#4a4a4a" stroke-width="0.9"/>
<line x1="630.5" y1="175.14" x2="627.5" y2="175.14" stroke="#4a4a4a" stroke-width="0.9"/>
<line x1="40.5" y1="171.82" x2="43.5" y2="171.82" stroke="#4a4a4a" stroke-width="0.9"/>
<line x1="630.5" y1="171.82" x2="627.5" y2="171.82" stroke="#4a4a4a" stroke-width="0.9"/>
<line x1="40.5" y1="169.01" x2="43.5" y2="169.01" stroke="#4a4a4a" stroke-width="0.9"/>
<line x1="630.5" y1="169.01" x2="627.5" y2="169.01" stroke="#4a4a4a" stroke-width="0.9"/>
<line x1="40.5" y1="166.57" x2="43.5" y2="166.57" stroke="#4a4a4a" stroke-width="0.9"/>
<line x1="630.5" y1="166.57" x2="627.5" y2="166.57" stroke="#4a4a4a" stroke-width="0.9"/>
<line x1="40.5" y1="164.42" x2="43.5" y2="164.42" stroke="#4a4a4a" stroke-width="0.9"/>
<line x1="630.5" y1="164.42" x2="627.5" y2="164.42" stroke="#4a4a4a" stroke-width="0.9"/>
<line x1="40.5" y1="162.50" x2="45.5" y2="162.50" stroke="#4a4a4a" stroke-width="0.9"/>
<line x1="630.5" y1="162.50" x2="625.5" y2="162.50" stroke="#4a4a4a" stroke-width="0.9"/>
<line x1="40.5" y1="149.86" x2="43.5" y2="149.86" stroke="#4a4a4a" stroke-width="0.9"/>
<line x1="630.5" y1="149.86" x2="627.5" y2="149.86" stroke="#4a4a4a" stroke-width="0.9"/>
<line x1="40.5" y1="142.46" x2="43.5" y2="142.46" stroke="#4a4a4a" stroke-width="0.9"/>
<line x1="630.5" y1="142.46" x2="627.5" y2="142.46" stroke="#4a4a4a" stroke-width="0.9"/>
<line x1="40.5" y1="137.21" x2="43.5" y2="137.21" stroke="#4a4a4a" stroke-width="0.9"/>
<line x1="630.5" y1="137.21" x2="627.5" y2="137.21" stroke="#4a4a4a" stroke-width="0.9"/>
<line x1="40.5" y1="133.14" x2="43.5" y2="133.14" stroke="#4a4a4a" stroke-width="0.9"/>
<line x1="630.5" y1="133.14" x2="627.5" y2="133.14" stroke="#4a4a4a" stroke-width="0.9"/>
<line x1="40.5" y1="129.82" x2="43.5" y2="129.82" stroke="#4a4a4a" stroke-width="0.9"/>
<line x1="630.5" y1="129.82" x2="627.5" y2="129.82" stroke="#4a4a4a" stroke-width="0.9"/>
<line x1="40.5" y1="127.01" x2="43.5" y2="127.01" stroke="#4a4a4a" stroke-width="0.9"/>
<line x1="630.5" y1="127.01" x2="627.5" y2="127.01" stroke="#4a4a4a" stroke-width="0.9"/>
<line x1="40.5" y1="124.57" x2="43.5" y2="124.57" stroke="#4a4a4a" stroke-width="0.9"/>
<line x1="630.5" y1="124.57" x2="627.5" y2="124.57" stroke="#4a4a4a" stroke-width="0.9"/>
<line x1="40.5" y1="122.42" x2="43.5" y2="122.42" stroke="#4a4a4a" stroke-width="0.9"/>
<line x1="630.5" y1="122.42" x2="627.5" y2="122.42" stroke="#4a4a4a" stroke-width="0.9"/>
<line x1="40.5" y1="528.26" x2="43.5" y2="528.26" stroke="#4a4a4a" stroke-width="0.9"/>
<line x1="630.5" y1="528.26" x2="627.5" y2="528.26" stroke="#4a4a4a" stroke-width="0.9"/>
<line x1="40.5" y1="521.54" x2="43.5" y2="521.54" stroke="#4a4a4a" stroke-width="0.9"/>
<line x1="630.5" y1="521.54" x2="627.5" y2="521.54" stroke="#4a4a4a" stroke-width="0.9"/>
<line x1="40.5" y1="514.82" x2="43.5" y2="514.82" stroke="#4a4a4a" stroke-width="0.9"/>
<line x1="630.5" y1="514.82" x2="627.5" y2="514.82" stroke="#4a4a4a" stroke-width="0.9"/>
<line x1="40.5" y1="508.10" x2="43.5" y2="508.10" stroke="#4a4a4a" stroke-width="0.9"/>
<line x1="630.5" y1="508.10" x2="627.5" y2="508.10" stroke="#4a4a4a" stroke-width="0.9"/>
<line x1="40.5" y1="501.38" x2="43.5" y2="501.38" stroke="#4a4a4a" stroke-width="0.9"/>
<line x1="630.5" y1="501.38" x2="627.5" y2="501.38" stroke="#4a4a4a" stroke-width="0.9"/>
<line x1="40.5" y1="494.66" x2="43.5" y2="494.66" stroke="#4a4a4a" stroke-width="0.9"/>
<line x1="630.5" y1="494.66" x2="627.5" y2="494.66" stroke="#4a4a4a" stroke-width="0.9"/>
<line x1="40.5" y1="487.94" x2="43.5" y2="487.94" stroke="#4a4a4a" stroke-width="0.9"/>
<line x1="630.5" y1="487.94" x2="627.5" y2="487.94" stroke="#4a4a4a" stroke-width="0.9"/>
<line x1="40.5" y1="481.22" x2="43.5" y2="481.22" stroke="#4a4a4a" stroke-width="0.9"/>
<line x1="630.5" y1="481.22" x2="627.5" y2="481.22" stroke="#4a4a4a" stroke-width="0.9"/>
<line x1="40.5" y1="474.50" x2="45.5" y2="474.50" stroke="#4a4a4a" stroke-width="0.9"/>
<line x1="630.5" y1="474.50" x2="625.5" y2="474.50" stroke="#4a4a4a" stroke-width="0.9"/>
<line x1="40.5" y1="467.78" x2="43.5" y2="467.78" stroke="#4a4a4a" stroke-width="0.9"/>
<line x1="630.5" y1="467.78" x2="627.5" y2="467.78" stroke="#4a4a4a" stroke-width="0.9"/>
<line x1="40.5" y1="461.06" x2="43.5" y2="461.06" stroke="#4a4a4a" stroke-width="0.9"/>
<line x1="630.5" y1="461.06" x2="627.5" y2="461.06" stroke="#4a4a4a" stroke-width="0.9"/>
<line x1="40.5" y1="454.34" x2="43.5" y2="454.34" stroke="#4a4a4a" stroke-width="0.9"/>
<line x1="630.5" y1="454.34" x2="627.5" y2="454.34" stroke="#4a4a4a" stroke-width="0.9"/>
<line x1="40.5" y1="447.62" x2="43.5" y2="447.62" stroke="#4a4a4a" stroke-width="0.9"/>
<line x1="630.5" y1="447.62" x2="627.5" y2="447.62" stroke="#4a4a4a" stroke-width="0.9"/>
<line x1="40.5" y1="440.90" x2="43.5" y2="440.90" stroke="#4a4a4a" stroke-width="0.9"/>
<line x1="630.5" y1="440.90" x2="627.5" y2="440.90" stroke="#4a4a4a" stroke-width="0.9"/>
<line x1="40.5" y1="434.18" x2="43.5" y2="434.18" stroke="#4a4a4a" stroke-width="0.9"/>
<line x1="630.5" y1="434.18" x2="627.5" y2="434.18" stroke="#4a4a4a" stroke-width="0.9"/>
<line x1="40.5" y1="427.46" x2="43.5" y2="427.46" stroke="#4a4a4a" stroke-width="0.9"/>
<line x1="630.5" y1="427.46" x2="627.5" y2="427.46" stroke="#4a4a4a" stroke-width="0.9"/>
<line x1="40.5" y1="420.74" x2="43.5" y2="420.74" stroke="#4a4a4a" stroke-width="0.9"/>
<line x1="630.5" y1="420.74" x2="627.5" y2="420.74" stroke="#4a4a4a" stroke-width="0.9"/>
<line x1="40.5" y1="414.02" x2="43.5" y2="414.02" stroke="#4a4a4a" stroke-width="0.9"/>
<line x1="630.5" y1="414.02" x2="627.5" y2="414.02" stroke="#4a4a4a" stroke-width="0.9"/>
<line x1="40.5" y1="407.30" x2="45.5" y2="407.30" stroke="#4a4a4a" stroke-width="0.9"/>
<line x1="630.5" y1="407.30" x2="625.5" y2="407.30" stroke="#4a4a4a" stroke-width="0.9"/>
<line x1="40.5" y1="400.58" x2="43.5" y2="400.58" stroke="#4a4a4a" stroke-width="0.9"/>
<line x1="630.5" y1="400.58" x2="627.5" y2="400.58" stroke="#4a4a4a" stroke-width="0.9"/>
<line x1="40.5" y1="393.86" x2="43.5" y2="393.86" stroke="#4a4a4a" stroke-width="0.9"/>
<line x1="630.5" y1="393.86" x2="627.5" y2="393.86" stroke="#4a4a4a" stroke-width="0.9"/>
<line x1="40.5" y1="387.14" x2="43.5" y2="387.14" stroke="#4a4a4a" stroke-width="0.9"/>
<line x1="630.5" y1="387.14" x2="627.5" y2="387.14" stroke="#4a4a4a" stroke-width="0.9"/>
<line x1="40.5" y1="380.42" x2="43.5" y2="380.42" stroke="#4a4a4a" stroke-width="0.9"/>
<line x1="630.5" y1="380.42" x2="627.5" y2="380.42" stroke="#4a4a4a" stroke-width="0.9"/>
<line x1="40.5" y1="373.70" x2="43.5" y2="373.70" stroke="#4a4a4a" stroke-width="0.9"/>
<line x1="630.5" y1="373.70" x2="627.5" y2="373.70" stroke="#4a4a4a" stroke-width="0.9"/>
<line x1="40.5" y1="366.98" x2="43.5" y2="366.98" stroke="#4a4a4a" stroke-width="0.9"/>
<line x1="630.5" y1="366.98" x2="627.5" y2="366.98" stroke="#4a4a4a" stroke-width="0.9"/>
<line x1="40.5" y1="360.26" x2="43.5" y2="360.26" stroke="#4a4a4a" stroke-width="0.9"/>
<line x1="630.5" y1="360.26" x2="627.5" y2="360.26" stroke="#4a4a4a" stroke-width="0.9"/>
<line x1="40.5" y1="353.54" x2="43.5" y2="353.54" stroke="#4a4a4a" stroke-width="0.9"/>
<line x1="630.5" y1="353.54" x2="627.5" y2="353.54" stroke="#4a4a4a" stroke-width="0.9"/>
<line x1="40.5" y1="346.82" x2="43.5" y2="346.82" stroke="#4a4a4a" stroke-width="0.9"/>
<line x1="630.5" y1="346.82" x2="627.5" y2="346.82" stroke="#4a4a4a" stroke-width="0.9"/>
<line x1="40.5" y1="340.10" x2="45.5" y2="340.10" stroke="#4a4a4a" stroke-width="0.9"/>
<line x1="630.5" y1="340.10" x2="625.5" y2="340.10" stroke="#4a4a4a" stroke-width="0.9"/>
<line x1="40.5" y1="333.38" x2="43.5" y2="333.38" stroke="#4a4a4a" stroke-width="0.9"/>
<line x1="630.5" y1="333.38" x2="627.5" y2="333.38" stroke="#4a4a4a" stroke-width="0.9"/>
<text x="37.50" y="10.60" font-size="11.03" text-anchor="end" fill="#111" stroke="#111" stroke-width="0.05" textLength="18.60" lengthAdjust="spacingAndGlyphs" >200</text>
<text x="37.50" y="84.80" font-size="11.03" text-anchor="end" fill="#111" stroke="#111" stroke-width="0.05" textLength="12.40" lengthAdjust="spacingAndGlyphs" >20</text>
<text x="33.00" y="167.40" font-size="11.03" text-anchor="end" fill="#111" stroke="#111" stroke-width="0.05" textLength="12.00" lengthAdjust="spacingAndGlyphs" >10</text>
<text x="34.00" y="163.20" font-size="7.88" text-anchor="start" fill="#111" stroke="#111" stroke-width="0.05" >3</text>
<text x="33.00" y="209.40" font-size="11.03" text-anchor="end" fill="#111" stroke="#111" stroke-width="0.05" textLength="12.00" lengthAdjust="spacingAndGlyphs" >10</text>
<text x="34.00" y="205.20" font-size="7.88" text-anchor="start" fill="#111" stroke="#111" stroke-width="0.05" >2</text>
<text x="33.00" y="251.60" font-size="11.03" text-anchor="end" fill="#111" stroke="#111" stroke-width="0.05" textLength="12.00" lengthAdjust="spacingAndGlyphs" >10</text>
<text x="34.00" y="247.40" font-size="7.88" text-anchor="start" fill="#111" stroke="#111" stroke-width="0.05" >1</text>
<text x="33.00" y="293.60" font-size="11.03" text-anchor="end" fill="#111" stroke="#111" stroke-width="0.05" textLength="12.00" lengthAdjust="spacingAndGlyphs" >10</text>
<text x="34.00" y="289.40" font-size="7.88" text-anchor="start" fill="#111" stroke="#111" stroke-width="0.05" >0</text>
<text x="38.00" y="344.50" font-size="11.03" text-anchor="end" fill="#111" stroke="#111" stroke-width="0.05" textLength="6.20" lengthAdjust="spacingAndGlyphs" >4</text>
<text x="38.00" y="411.50" font-size="11.03" text-anchor="end" fill="#111" stroke="#111" stroke-width="0.05" textLength="6.20" lengthAdjust="spacingAndGlyphs" >2</text>
<text x="38.00" y="478.50" font-size="11.03" text-anchor="end" fill="#111" stroke="#111" stroke-width="0.05" textLength="6.20" lengthAdjust="spacingAndGlyphs" >0</text>
<text x="57.70" y="546.00" font-size="11.03" text-anchor="middle" fill="#111" stroke="#111" stroke-width="0.05" textLength="6.20" lengthAdjust="spacingAndGlyphs" >0</text>
<text x="172.26" y="546.00" font-size="11.03" text-anchor="middle" fill="#111" stroke="#111" stroke-width="0.05" textLength="6.20" lengthAdjust="spacingAndGlyphs" >1</text>
<text x="286.82" y="546.00" font-size="11.03" text-anchor="middle" fill="#111" stroke="#111" stroke-width="0.05" textLength="6.20" lengthAdjust="spacingAndGlyphs" >2</text>
<text x="401.38" y="546.00" font-size="11.03" text-anchor="middle" fill="#111" stroke="#111" stroke-width="0.05" textLength="6.20" lengthAdjust="spacingAndGlyphs" >3</text>
<text x="515.94" y="546.00" font-size="11.03" text-anchor="middle" fill="#111" stroke="#111" stroke-width="0.05" textLength="6.20" lengthAdjust="spacingAndGlyphs" >4</text>
<text x="630.50" y="546.00" font-size="11.03" text-anchor="middle" fill="#111" stroke="#111" stroke-width="0.05" textLength="6.20" lengthAdjust="spacingAndGlyphs" >5</text>
<rect x="40.20" y="572.0" width="59.33" height="10.200000000000045" fill="#1f77b4"/>
<rect x="99.23" y="572.0" width="59.33" height="10.200000000000045" fill="#ff7f0e"/>
<rect x="158.26" y="572.0" width="59.33" height="10.200000000000045" fill="#2ca02c"/>
<rect x="217.29" y="572.0" width="59.33" height="10.200000000000045" fill="#d62728"/>
<rect x="276.32" y="572.0" width="59.33" height="10.200000000000045" fill="#9467bd"/>
<rect x="335.35" y="572.0" width="59.33" height="10.200000000000045" fill="#8c564b"/>
<rect x="394.38" y="572.0" width="59.33" height="10.200000000000045" fill="#e377c2"/>
<rect x="453.41" y="572.0" width="59.33" height="10.200000000000045" fill="#7f7f7f"/>
<rect x="512.44" y="572.0" width="59.33" height="10.200000000000045" fill="#bcbd22"/>
<rect x="571.47" y="572.0" width="59.33" height="10.200000000000045" fill="#17becf"/>
<line x1="99.23" y1="572.0" x2="99.23" y2="582.2" stroke="#222" stroke-width="0.8"/>
<line x1="158.26" y1="572.0" x2="158.26" y2="582.2" stroke="#222" stroke-width="0.8"/>
<line x1="217.29" y1="572.0" x2="217.29" y2="582.2" stroke="#222" stroke-width="0.8"/>
<line x1="276.32" y1="572.0" x2="276.32" y2="582.2" stroke="#222" stroke-width="0.8"/>
<line x1="335.35" y1="572.0" x2="335.35" y2="582.2" stroke="#222" stroke-width="0.8"/>
<line x1="394.38" y1="572.0" x2="394.38" y2="582.2" stroke="#222" stroke-width="0.8"/>
<line x1="453.41" y1="572.0" x2="453.41" y2="582.2" stroke="#222" stroke-width="0.8"/>
<line x1="512.44" y1="572.0" x2="512.44" y2="582.2" stroke="#222" stroke-width="0.8"/>
<line x1="571.47" y1="572.0" x2="571.47" y2="582.2" stroke="#222" stroke-width="0.8"/>
<rect x="40.2" y="572.0" width="590.30" height="10.200000000000045" fill="none" stroke="#4a4a4a" stroke-width="1"/>
<text x="40.20" y="593.00" font-size="11.03" text-anchor="middle" fill="#111" stroke="#111" stroke-width="0.05" textLength="12.40" lengthAdjust="spacingAndGlyphs" >16</text>
<text x="99.23" y="593.00" font-size="11.03" text-anchor="middle" fill="#111" stroke="#111" stroke-width="0.05" textLength="12.40" lengthAdjust="spacingAndGlyphs" >17</text>
<text x="158.26" y="593.00" font-size="11.03" text-anchor="middle" fill="#111" stroke="#111" stroke-width="0.05" textLength="12.40" lengthAdjust="spacingAndGlyphs" >18</text>
<text x="217.29" y="593.00" font-size="11.03" text-anchor="middle" fill="#111" stroke="#111" stroke-width="0.05" textLength="12.40" lengthAdjust="spacingAndGlyphs" >19</text>
<text x="276.32" y="593.00" font-size="11.03" text-anchor="middle" fill="#111" stroke="#111" stroke-width="0.05" textLength="12.40" lengthAdjust="spacingAndGlyphs" >20</text>
<text x="335.35" y="593.00" font-size="11.03" text-anchor="middle" fill="#111" stroke="#111" stroke-width="0.05" textLength="12.40" lengthAdjust="spacingAndGlyphs" >21</text>
<text x="394.38" y="593.00" font-size="11.03" text-anchor="middle" fill="#111" stroke="#111" stroke-width="0.05" textLength="12.40" lengthAdjust="spacingAndGlyphs" >22</text>
<text x="453.41" y="593.00" font-size="11.03" text-anchor="middle" fill="#111" stroke="#111" stroke-width="0.05" textLength="12.40" lengthAdjust="spacingAndGlyphs" >23</text>
<text x="512.44" y="593.00" font-size="11.03" text-anchor="middle" fill="#111" stroke="#111" stroke-width="0.05" textLength="12.40" lengthAdjust="spacingAndGlyphs" >24</text>
<text x="571.47" y="593.00" font-size="11.03" text-anchor="middle" fill="#111" stroke="#111" stroke-width="0.05" textLength="12.40" lengthAdjust="spacingAndGlyphs" >25</text>
<text x="630.50" y="593.00" font-size="11.03" text-anchor="middle" fill="#111" stroke="#111" stroke-width="0.05" textLength="12.40" lengthAdjust="spacingAndGlyphs" >26</text>
<text x="15.00" y="32.00" font-size="13.44" text-anchor="middle" fill="#111" stroke="#111" stroke-width="0.05" textLength="50.00" lengthAdjust="spacingAndGlyphs" transform="rotate(-90 15.00 32.00)" >Number</text>
<text x="15.00" y="92.00" font-size="13.44" text-anchor="middle" fill="#111" stroke="#111" stroke-width="0.05" textLength="50.00" lengthAdjust="spacingAndGlyphs" transform="rotate(-90 15.00 92.00)" >Number</text>
<text x="13.50" y="225.00" font-size="15.75" text-anchor="middle" fill="#111" stroke="#111" stroke-width="0.05" textLength="152.00" lengthAdjust="spacingAndGlyphs" transform="rotate(-90 13.50 225.00)" >Line significance (Σ)</text>
<text x="13.50" y="432.00" font-size="15.75" text-anchor="middle" fill="#111" stroke="#111" stroke-width="0.05" textLength="182.00" lengthAdjust="spacingAndGlyphs" transform="rotate(-90 13.50 432.00)" >(<tspan font-style="italic">F606W</tspan> − <tspan font-style="italic">F658N</tspan>) [mag]</text>
<text x="335.40" y="564.80" font-size="21.0" text-anchor="middle" fill="#111" stroke="#111" stroke-width="0.05" font-style="italic" >z</text>
<text x="336.00" y="609.20" font-size="15.75" text-anchor="middle" fill="#111" stroke="#111" stroke-width="0.05" textLength="98.90" lengthAdjust="spacingAndGlyphs" ><tspan font-style="italic">F658N</tspan> [mag]</text>
<text x="305.70" y="17.50" font-size="15.23" text-anchor="middle" fill="#111" stroke="#111" stroke-width="0.05" textLength="20.80" lengthAdjust="spacingAndGlyphs" >(a)</text>
<text x="305.70" y="76.30" font-size="15.23" text-anchor="middle" fill="#111" stroke="#111" stroke-width="0.05" textLength="20.80" lengthAdjust="spacingAndGlyphs" >(b)</text>
<text x="306.20" y="146.40" font-size="15.23" text-anchor="middle" fill="#111" stroke="#111" stroke-width="0.05" textLength="20.80" lengthAdjust="spacingAndGlyphs" >(c)</text>
<text x="305.70" y="355.00" font-size="15.23" text-anchor="middle" fill="#111" stroke="#111" stroke-width="0.05" textLength="21.00" lengthAdjust="spacingAndGlyphs" >(d)</text>
<text x="50.50" y="132.30" font-size="11.23" text-anchor="start" fill="#111" stroke="#111" stroke-width="0.05" textLength="14.50" lengthAdjust="spacingAndGlyphs" >H<tspan font-style="italic">α</tspan></text>
<text x="93.20" y="132.30" font-size="11.23" text-anchor="start" fill="#111" stroke="#111" stroke-width="0.05" textLength="21.30" lengthAdjust="spacingAndGlyphs" >HeII</text>
<text x="91.00" y="145.80" font-size="11.23" text-anchor="start" fill="#111" stroke="#111" stroke-width="0.05" textLength="15.40" lengthAdjust="spacingAndGlyphs" >H<tspan font-style="italic">β</tspan></text>
<text x="80.60" y="166.30" font-size="11.23" text-anchor="start" fill="#111" stroke="#111" stroke-width="0.05" textLength="26.40" lengthAdjust="spacingAndGlyphs" >[OIII]</text>
<text x="133.80" y="132.30" font-size="11.23" text-anchor="start" fill="#111" stroke="#111" stroke-width="0.05" textLength="23.10" lengthAdjust="spacingAndGlyphs" >[OII]</text>
<text x="199.10" y="132.30" font-size="11.23" text-anchor="start" fill="#111" stroke="#111" stroke-width="0.05" textLength="28.10" lengthAdjust="spacingAndGlyphs" >MgII]</text>
<text x="326.60" y="132.30" font-size="11.23" text-anchor="start" fill="#111" stroke="#111" stroke-width="0.05" textLength="22.60" lengthAdjust="spacingAndGlyphs" >CIII]</text>
<text x="420.50" y="166.00" font-size="11.23" text-anchor="start" fill="#111" stroke="#111" stroke-width="0.05" textLength="19.70" lengthAdjust="spacingAndGlyphs" >CIV</text>
<text x="439.00" y="132.30" font-size="11.23" text-anchor="start" fill="#111" stroke="#111" stroke-width="0.05" textLength="24.20" lengthAdjust="spacingAndGlyphs" >NIV]</text>
<text x="516.00" y="132.30" font-size="11.23" text-anchor="start" fill="#111" stroke="#111" stroke-width="0.05" textLength="12.30" lengthAdjust="spacingAndGlyphs" >OI</text>
<text x="553.30" y="132.30" font-size="11.23" text-anchor="start" fill="#111" stroke="#111" stroke-width="0.05" textLength="20.80" lengthAdjust="spacingAndGlyphs" >Ly<tspan font-style="italic">α</tspan></text>
<text x="50.70" y="350.70" font-size="11.23" text-anchor="start" fill="#111" stroke="#111" stroke-width="0.05" textLength="15.20" lengthAdjust="spacingAndGlyphs" >H<tspan font-style="italic">α</tspan></text>
<text x="91.00" y="350.70" font-size="11.23" text-anchor="start" fill="#111" stroke="#111" stroke-width="0.05" textLength="15.00" lengthAdjust="spacingAndGlyphs" >H<tspan font-style="italic">β</tspan></text>
<text x="93.40" y="360.60" font-size="11.23" text-anchor="start" fill="#111" stroke="#111" stroke-width="0.05" textLength="21.20" lengthAdjust="spacingAndGlyphs" >HeII</text>
<text x="80.00" y="370.60" font-size="11.23" text-anchor="start" fill="#111" stroke="#111" stroke-width="0.05" textLength="27.50" lengthAdjust="spacingAndGlyphs" >[OIII]</text>
<text x="133.30" y="350.70" font-size="11.23" text-anchor="start" fill="#111" stroke="#111" stroke-width="0.05" textLength="24.40" lengthAdjust="spacingAndGlyphs" >[OII]</text>
<text x="199.20" y="350.70" font-size="11.23" text-anchor="start" fill="#111" stroke="#111" stroke-width="0.05" textLength="28.20" lengthAdjust="spacingAndGlyphs" >MgII]</text>
<text x="326.60" y="350.70" font-size="11.23" text-anchor="start" fill="#111" stroke="#111" stroke-width="0.05" textLength="22.60" lengthAdjust="spacingAndGlyphs" >CIII]</text>
<text x="420.40" y="360.80" font-size="11.23" text-anchor="start" fill="#111" stroke="#111" stroke-width="0.05" textLength="19.20" lengthAdjust="spacingAndGlyphs" >CIV</text>
<text x="438.10" y="350.70" font-size="11.23" text-anchor="start" fill="#111" stroke="#111" stroke-width="0.05" textLength="24.40" lengthAdjust="spacingAndGlyphs" >NIV]</text>
<text x="516.10" y="350.70" font-size="11.23" text-anchor="start" fill="#111" stroke="#111" stroke-width="0.05" textLength="12.00" lengthAdjust="spacingAndGlyphs" >OI</text>
<text x="553.50" y="350.70" font-size="11.23" text-anchor="start" fill="#111" stroke="#111" stroke-width="0.05" textLength="20.10" lengthAdjust="spacingAndGlyphs" >Ly<tspan font-style="italic">α</tspan></text>
<line x1="456" y1="16.3" x2="479.8" y2="16.3" stroke="#111" stroke-width="1.2"/>
<text x="488.90" y="20.70" font-size="12.08" text-anchor="start" fill="#111" stroke="#111" stroke-width="0.05" textLength="130.40" lengthAdjust="spacingAndGlyphs" >All sources with spec-<tspan font-style="italic">z</tspan></text>
<line x1="441.9" y1="76.1" x2="465.1" y2="76.1" stroke="#2020ff" stroke-width="1.3" stroke-dasharray="1.8 1.4"/>
<line x1="441.9" y1="92.9" x2="465.1" y2="92.9" stroke="#ff2020" stroke-width="1.3" stroke-dasharray="1.8 1.4"/>
<text x="475.40" y="80.30" font-size="12.08" text-anchor="start" fill="#111" stroke="#111" stroke-width="0.05" textLength="134.70" lengthAdjust="spacingAndGlyphs" >ELG candidates at <tspan font-style="italic">z</tspan> &lt; 4</text>
<text x="475.40" y="97.00" font-size="12.08" text-anchor="start" fill="#111" stroke="#111" stroke-width="0.05" textLength="144.90" lengthAdjust="spacingAndGlyphs" >LAE candidates at <tspan font-style="italic">z</tspan> ~ 4.4</text>
<line x1="210.2" y1="176.7" x2="232.6" y2="176.7" stroke="#ff0d0d" stroke-width="1.5" stroke-dasharray="6.5 2.3 1.4 2.3"/>
<line x1="210.2" y1="193.7" x2="232.6" y2="193.7" stroke="#ff0d0d" stroke-width="1.5" stroke-dasharray="5 2.8"/>
<text x="243.50" y="180.80" font-size="12.08" text-anchor="start" fill="#111" stroke="#111" stroke-width="0.05" textLength="175.70" lengthAdjust="spacingAndGlyphs" >Σ cut for ELG at <tspan font-style="italic">z</tspan> &lt; 4 selection</text>
<text x="243.50" y="197.50" font-size="12.08" text-anchor="start" fill="#111" stroke="#111" stroke-width="0.05" textLength="185.90" lengthAdjust="spacingAndGlyphs" >Σ cut for LAE at <tspan font-style="italic">z</tspan> ~ 4.4 selection</text>
<circle cx="62.3" cy="484" r="1.8" fill="#777"/>
<rect x="57.8" y="497.2" width="9.5" height="8.8" fill="none" stroke="#222" stroke-width="1.2"/>
<polygon points="57.7,523.0 67.3,523.0 62.5,513.6" fill="none" stroke="#222" stroke-width="1.2"/>
<text x="83.50" y="488.00" font-size="12.08" text-anchor="start" fill="#111" stroke="#111" stroke-width="0.05" textLength="179.50" lengthAdjust="spacingAndGlyphs" >Continuum sources with spec-<tspan font-style="italic">z</tspan></text>
<text x="83.50" y="505.90" font-size="12.08" text-anchor="start" fill="#111" stroke="#111" stroke-width="0.05" textLength="134.50" lengthAdjust="spacingAndGlyphs" >ELG candidates at <tspan font-style="italic">z</tspan> &lt; 4</text>
<text x="83.50" y="522.70" font-size="12.08" text-anchor="start" fill="#111" stroke="#111" stroke-width="0.05" textLength="144.50" lengthAdjust="spacingAndGlyphs" >LAE candidates at <tspan font-style="italic">z</tspan> ~ 4.4</text>
</svg></body></html>
